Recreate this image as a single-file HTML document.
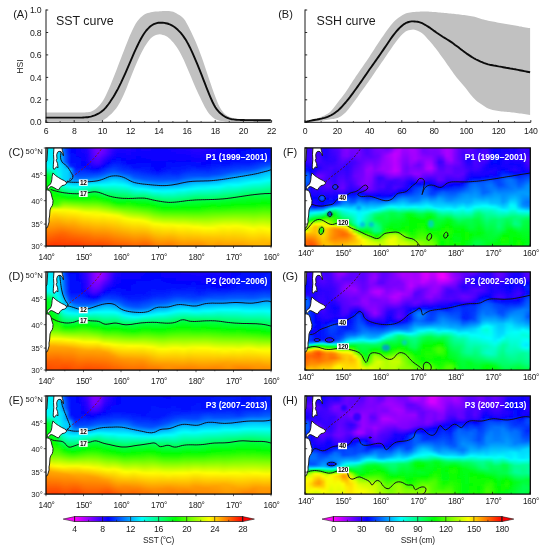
<!DOCTYPE html>
<html><head><meta charset="utf-8"><title>HSI curves and SST/SSH maps</title>
<style>html,body{margin:0;padding:0;background:#fff}svg{display:block}text{font-family:"Liberation Sans", sans-serif}</style>
</head><body>
<svg width="545" height="550" viewBox="0 0 545 550">
<defs>
<linearGradient id="cbA" x1="0" y1="0" x2="1" y2="0"><stop offset="0" stop-color="#ff00ff"/><stop offset="0.2" stop-color="#0000ff"/><stop offset="0.4" stop-color="#00ffff"/><stop offset="0.6" stop-color="#00ff00"/><stop offset="0.8" stop-color="#ffff00"/><stop offset="1" stop-color="#ff0000"/></linearGradient>
<linearGradient id="cbB" x1="0" y1="0" x2="1" y2="0"><stop offset="0" stop-color="#ff00ff"/><stop offset="0.2" stop-color="#0000ff"/><stop offset="0.4" stop-color="#00ffff"/><stop offset="0.6" stop-color="#00ff00"/><stop offset="0.8" stop-color="#ffff00"/><stop offset="1" stop-color="#ff0000"/></linearGradient>
<clipPath id="clipC"><rect x="46" y="148" width="225" height="98"/></clipPath>
<filter id="hb2" x="-5%" y="-5%" width="110%" height="110%"><feGaussianBlur stdDeviation="2 0.6"/></filter>
<linearGradient id="C0" x2="0" y2="1"><stop offset="0" stop-color="#00f6ff"/><stop offset=".127" stop-color="#00f0ff"/><stop offset=".196" stop-color="#00fffb"/><stop offset=".225" stop-color="#00ffcc"/><stop offset=".284" stop-color="#00ff34"/><stop offset=".314" stop-color="#00ff14"/><stop offset=".48" stop-color="#06ff00"/><stop offset=".578" stop-color="#4cff00"/><stop offset=".618" stop-color="#99ff00"/><stop offset=".667" stop-color="#fdff00"/><stop offset=".745" stop-color="#ffae00"/><stop offset=".98" stop-color="#ff3600"/><stop offset="1" stop-color="#ff3600"/></linearGradient>
<linearGradient id="C1" x2="0" y2="1"><stop offset="0" stop-color="#00f6ff"/><stop offset=".127" stop-color="#00f0ff"/><stop offset=".196" stop-color="#00fffb"/><stop offset=".225" stop-color="#00ffcc"/><stop offset=".284" stop-color="#00ff34"/><stop offset=".314" stop-color="#00ff14"/><stop offset=".48" stop-color="#06ff00"/><stop offset=".578" stop-color="#4cff00"/><stop offset=".618" stop-color="#99ff00"/><stop offset=".667" stop-color="#fdff00"/><stop offset=".745" stop-color="#ffae00"/><stop offset=".98" stop-color="#ff3600"/><stop offset="1" stop-color="#ff3600"/></linearGradient>
<linearGradient id="C2" x2="0" y2="1"><stop offset="0" stop-color="#00f5ff"/><stop offset=".137" stop-color="#00efff"/><stop offset=".196" stop-color="#00ffff"/><stop offset=".225" stop-color="#00ffd2"/><stop offset=".284" stop-color="#00ff39"/><stop offset=".314" stop-color="#00ff16"/><stop offset=".412" stop-color="#00ff09"/><stop offset=".48" stop-color="#04ff00"/><stop offset=".578" stop-color="#4cff00"/><stop offset=".647" stop-color="#e8ff00"/><stop offset=".667" stop-color="#fff600"/><stop offset=".745" stop-color="#ffab00"/><stop offset=".99" stop-color="#ff3500"/><stop offset="1" stop-color="#ff3500"/></linearGradient>
<linearGradient id="C3" x2="0" y2="1"><stop offset="0" stop-color="#00ebff"/><stop offset=".176" stop-color="#00f0ff"/><stop offset=".216" stop-color="#00fffc"/><stop offset=".265" stop-color="#00ff9c"/><stop offset=".294" stop-color="#00ff5f"/><stop offset=".431" stop-color="#00ff15"/><stop offset=".49" stop-color="#09ff00"/><stop offset=".569" stop-color="#44ff00"/><stop offset=".588" stop-color="#71ff00"/><stop offset=".618" stop-color="#e8ff00"/><stop offset=".627" stop-color="#fffd00"/><stop offset=".676" stop-color="#ffcf00"/><stop offset=".98" stop-color="#ff3100"/><stop offset="1" stop-color="#ff3100"/></linearGradient>
<linearGradient id="C4" x2="0" y2="1"><stop offset="0" stop-color="#00ddff"/><stop offset=".216" stop-color="#00edff"/><stop offset=".284" stop-color="#00fff3"/><stop offset=".324" stop-color="#00ffda"/><stop offset=".431" stop-color="#00ff31"/><stop offset=".48" stop-color="#01ff00"/><stop offset=".569" stop-color="#4aff00"/><stop offset=".588" stop-color="#73ff00"/><stop offset=".618" stop-color="#e1ff00"/><stop offset=".627" stop-color="#fbff00"/><stop offset=".725" stop-color="#ffb200"/><stop offset=".882" stop-color="#ff5c00"/><stop offset=".99" stop-color="#ff3100"/><stop offset="1" stop-color="#ff3100"/></linearGradient>
<linearGradient id="C5" x2="0" y2="1"><stop offset="0" stop-color="#004bff"/><stop offset=".039" stop-color="#0059ff"/><stop offset=".088" stop-color="#006bff"/><stop offset=".157" stop-color="#0076ff"/><stop offset=".176" stop-color="#00aaff"/><stop offset=".186" stop-color="#00c7ff"/><stop offset=".206" stop-color="#00d4ff"/><stop offset=".353" stop-color="#00d7ff"/><stop offset=".382" stop-color="#00fff8"/><stop offset=".461" stop-color="#00ff45"/><stop offset=".5" stop-color="#00ff05"/><stop offset=".627" stop-color="#f8ff00"/><stop offset=".853" stop-color="#ff6900"/><stop offset=".99" stop-color="#ff3300"/><stop offset="1" stop-color="#ff3300"/></linearGradient>
<linearGradient id="C6" x2="0" y2="1"><stop offset="0" stop-color="#000cff"/><stop offset=".176" stop-color="#0019ff"/><stop offset=".196" stop-color="#0031ff"/><stop offset=".206" stop-color="#005cff"/><stop offset=".216" stop-color="#0096ff"/><stop offset=".225" stop-color="#00c0ff"/><stop offset=".245" stop-color="#00d4ff"/><stop offset=".343" stop-color="#00d0ff"/><stop offset=".363" stop-color="#00c9ff"/><stop offset=".392" stop-color="#00feff"/><stop offset=".471" stop-color="#00ff41"/><stop offset=".51" stop-color="#06ff00"/><stop offset=".627" stop-color="#f4ff00"/><stop offset=".647" stop-color="#fff300"/><stop offset=".853" stop-color="#ff7100"/><stop offset=".99" stop-color="#ff3300"/><stop offset="1" stop-color="#ff3300"/></linearGradient>
<linearGradient id="C7" x2="0" y2="1"><stop offset="0" stop-color="#0400ff"/><stop offset=".137" stop-color="#000cff"/><stop offset=".225" stop-color="#001cff"/><stop offset=".275" stop-color="#0042ff"/><stop offset=".304" stop-color="#0070ff"/><stop offset=".324" stop-color="#0076ff"/><stop offset=".402" stop-color="#00fffa"/><stop offset=".48" stop-color="#00ff36"/><stop offset=".51" stop-color="#00ff01"/><stop offset=".637" stop-color="#feff00"/><stop offset=".745" stop-color="#ffb200"/><stop offset=".98" stop-color="#ff3500"/><stop offset="1" stop-color="#ff3500"/></linearGradient>
<linearGradient id="C8" x2="0" y2="1"><stop offset="0" stop-color="#0d00ff"/><stop offset=".206" stop-color="#000cff"/><stop offset=".304" stop-color="#0056ff"/><stop offset=".402" stop-color="#00fff9"/><stop offset=".471" stop-color="#00ff4b"/><stop offset=".51" stop-color="#00ff04"/><stop offset=".637" stop-color="#f4ff00"/><stop offset=".657" stop-color="#fff300"/><stop offset=".794" stop-color="#ff9f00"/><stop offset=".98" stop-color="#ff3600"/><stop offset="1" stop-color="#ff3600"/></linearGradient>
<linearGradient id="C9" x2="0" y2="1"><stop offset="0" stop-color="#1a00ff"/><stop offset=".196" stop-color="#0004ff"/><stop offset=".304" stop-color="#005aff"/><stop offset=".392" stop-color="#00fffe"/><stop offset=".471" stop-color="#00ff44"/><stop offset=".51" stop-color="#00ff02"/><stop offset=".647" stop-color="#f3ff00"/><stop offset=".667" stop-color="#fff600"/><stop offset=".892" stop-color="#ff6b00"/><stop offset=".99" stop-color="#ff3b00"/><stop offset="1" stop-color="#ff3b00"/></linearGradient>
<linearGradient id="C10" x2="0" y2="1"><stop offset="0" stop-color="#2c00ff"/><stop offset=".176" stop-color="#0d00ff"/><stop offset=".216" stop-color="#000bff"/><stop offset=".304" stop-color="#005cff"/><stop offset=".382" stop-color="#00f5ff"/><stop offset=".402" stop-color="#00ffdd"/><stop offset=".461" stop-color="#00ff4d"/><stop offset=".51" stop-color="#01ff00"/><stop offset=".657" stop-color="#fdff00"/><stop offset=".873" stop-color="#ff7800"/><stop offset=".99" stop-color="#ff4000"/><stop offset="1" stop-color="#ff4000"/></linearGradient>
<linearGradient id="C11" x2="0" y2="1"><stop offset="0" stop-color="#6400ff"/><stop offset=".147" stop-color="#4700ff"/><stop offset=".206" stop-color="#1a00ff"/><stop offset=".225" stop-color="#0100ff"/><stop offset=".304" stop-color="#0064ff"/><stop offset=".382" stop-color="#00fff9"/><stop offset=".451" stop-color="#00ff51"/><stop offset=".5" stop-color="#00ff06"/><stop offset=".559" stop-color="#56ff00"/><stop offset=".647" stop-color="#edff00"/><stop offset=".676" stop-color="#fff700"/><stop offset=".971" stop-color="#ff4900"/><stop offset="1" stop-color="#ff4600"/></linearGradient>
<linearGradient id="C12" x2="0" y2="1"><stop offset="0" stop-color="#8400ff"/><stop offset=".078" stop-color="#7400ff"/><stop offset=".176" stop-color="#3c00ff"/><stop offset=".225" stop-color="#0000ff"/><stop offset=".304" stop-color="#006cff"/><stop offset=".382" stop-color="#00fff9"/><stop offset=".461" stop-color="#00ff4c"/><stop offset=".51" stop-color="#00ff00"/><stop offset=".647" stop-color="#e8ff00"/><stop offset=".676" stop-color="#fffa00"/><stop offset=".971" stop-color="#ff4800"/><stop offset="1" stop-color="#ff4500"/></linearGradient>
<linearGradient id="C13" x2="0" y2="1"><stop offset="0" stop-color="#7300ff"/><stop offset=".069" stop-color="#6400ff"/><stop offset=".196" stop-color="#0200ff"/><stop offset=".275" stop-color="#0052ff"/><stop offset=".353" stop-color="#00d8ff"/><stop offset=".382" stop-color="#00fffd"/><stop offset=".52" stop-color="#00ff08"/><stop offset=".569" stop-color="#50ff00"/><stop offset=".667" stop-color="#fbff00"/><stop offset=".971" stop-color="#ff4a00"/><stop offset="1" stop-color="#ff4700"/></linearGradient>
<linearGradient id="C14" x2="0" y2="1"><stop offset="0" stop-color="#5000ff"/><stop offset=".078" stop-color="#3b00ff"/><stop offset=".167" stop-color="#0002ff"/><stop offset=".255" stop-color="#004dff"/><stop offset=".343" stop-color="#00d5ff"/><stop offset=".382" stop-color="#00fff8"/><stop offset=".49" stop-color="#00ff49"/><stop offset=".529" stop-color="#00ff05"/><stop offset=".676" stop-color="#ffff00"/><stop offset=".853" stop-color="#ff9200"/><stop offset=".98" stop-color="#ff4b00"/><stop offset="1" stop-color="#ff4b00"/></linearGradient>
<linearGradient id="C15" x2="0" y2="1"><stop offset="0" stop-color="#3200ff"/><stop offset=".078" stop-color="#1b00ff"/><stop offset=".137" stop-color="#0005ff"/><stop offset=".255" stop-color="#005aff"/><stop offset=".333" stop-color="#00d5ff"/><stop offset=".373" stop-color="#00ffff"/><stop offset=".549" stop-color="#01ff00"/><stop offset=".676" stop-color="#f3ff00"/><stop offset=".696" stop-color="#fff400"/><stop offset=".98" stop-color="#ff5300"/><stop offset="1" stop-color="#ff5300"/></linearGradient>
<linearGradient id="C16" x2="0" y2="1"><stop offset="0" stop-color="#2700ff"/><stop offset=".108" stop-color="#0600ff"/><stop offset=".235" stop-color="#003cff"/><stop offset=".275" stop-color="#006dff"/><stop offset=".333" stop-color="#00d0ff"/><stop offset=".382" stop-color="#00fff7"/><stop offset=".559" stop-color="#03ff00"/><stop offset=".657" stop-color="#c4ff00"/><stop offset=".686" stop-color="#faff00"/><stop offset=".98" stop-color="#ff5800"/><stop offset="1" stop-color="#ff5800"/></linearGradient>
<linearGradient id="C17" x2="0" y2="1"><stop offset="0" stop-color="#2200ff"/><stop offset=".147" stop-color="#0006ff"/><stop offset=".235" stop-color="#0030ff"/><stop offset=".275" stop-color="#005bff"/><stop offset=".343" stop-color="#00cfff"/><stop offset=".382" stop-color="#00fffe"/><stop offset=".559" stop-color="#02ff00"/><stop offset=".676" stop-color="#cdff00"/><stop offset=".706" stop-color="#fcff00"/><stop offset=".98" stop-color="#ff5900"/><stop offset="1" stop-color="#ff5900"/></linearGradient>
<linearGradient id="C18" x2="0" y2="1"><stop offset="0" stop-color="#2400ff"/><stop offset=".167" stop-color="#0003ff"/><stop offset=".265" stop-color="#0044ff"/><stop offset=".392" stop-color="#00fbff"/><stop offset=".51" stop-color="#00ff47"/><stop offset=".549" stop-color="#00ff07"/><stop offset=".657" stop-color="#9eff00"/><stop offset=".716" stop-color="#fbff00"/><stop offset=".98" stop-color="#ff5c00"/><stop offset="1" stop-color="#ff5c00"/></linearGradient>
<linearGradient id="C19" x2="0" y2="1"><stop offset="0" stop-color="#1c00ff"/><stop offset=".147" stop-color="#0300ff"/><stop offset=".206" stop-color="#000dff"/><stop offset=".304" stop-color="#0056ff"/><stop offset=".412" stop-color="#00f9ff"/><stop offset=".471" stop-color="#00ff9f"/><stop offset=".549" stop-color="#00ff0f"/><stop offset=".569" stop-color="#0eff00"/><stop offset=".725" stop-color="#fdff00"/><stop offset=".98" stop-color="#ff6500"/><stop offset="1" stop-color="#ff6500"/></linearGradient>
<linearGradient id="C20" x2="0" y2="1"><stop offset="0" stop-color="#1500ff"/><stop offset=".137" stop-color="#0001ff"/><stop offset=".216" stop-color="#000fff"/><stop offset=".314" stop-color="#0058ff"/><stop offset=".422" stop-color="#00fffd"/><stop offset=".539" stop-color="#00ff25"/><stop offset=".569" stop-color="#02ff00"/><stop offset=".725" stop-color="#fbff00"/><stop offset=".98" stop-color="#ff6400"/><stop offset="1" stop-color="#ff6400"/></linearGradient>
<linearGradient id="C21" x2="0" y2="1"><stop offset="0" stop-color="#1900ff"/><stop offset=".157" stop-color="#0005ff"/><stop offset=".245" stop-color="#001eff"/><stop offset=".324" stop-color="#0056ff"/><stop offset=".422" stop-color="#00fbff"/><stop offset=".48" stop-color="#00ff8f"/><stop offset=".529" stop-color="#00ff33"/><stop offset=".578" stop-color="#08ff00"/><stop offset=".735" stop-color="#fcff00"/><stop offset=".98" stop-color="#ff5b00"/><stop offset="1" stop-color="#ff5b00"/></linearGradient>
<linearGradient id="C22" x2="0" y2="1"><stop offset="0" stop-color="#1a00ff"/><stop offset=".167" stop-color="#0006ff"/><stop offset=".255" stop-color="#001fff"/><stop offset=".333" stop-color="#005cff"/><stop offset=".431" stop-color="#00fffc"/><stop offset=".529" stop-color="#00ff39"/><stop offset=".578" stop-color="#04ff00"/><stop offset=".745" stop-color="#faff00"/><stop offset=".902" stop-color="#ff9400"/><stop offset=".98" stop-color="#ff5e00"/><stop offset="1" stop-color="#ff5e00"/></linearGradient>
<linearGradient id="C23" x2="0" y2="1"><stop offset="0" stop-color="#1200ff"/><stop offset=".235" stop-color="#0007ff"/><stop offset=".333" stop-color="#0057ff"/><stop offset=".441" stop-color="#00fffe"/><stop offset=".539" stop-color="#00ff3f"/><stop offset=".588" stop-color="#02ff00"/><stop offset=".765" stop-color="#fcff00"/><stop offset=".98" stop-color="#ff7000"/><stop offset="1" stop-color="#ff7000"/></linearGradient>
<linearGradient id="C24" x2="0" y2="1"><stop offset="0" stop-color="#1000ff"/><stop offset=".245" stop-color="#0005ff"/><stop offset=".343" stop-color="#005fff"/><stop offset=".441" stop-color="#00fbff"/><stop offset=".549" stop-color="#00ff3e"/><stop offset=".598" stop-color="#00ff01"/><stop offset=".765" stop-color="#f9ff00"/><stop offset=".98" stop-color="#ff7d00"/><stop offset="1" stop-color="#ff7d00"/></linearGradient>
<linearGradient id="C25" x2="0" y2="1"><stop offset="0" stop-color="#1400ff"/><stop offset=".225" stop-color="#0007ff"/><stop offset=".333" stop-color="#0053ff"/><stop offset=".431" stop-color="#00edff"/><stop offset=".451" stop-color="#00fff5"/><stop offset=".559" stop-color="#00ff3c"/><stop offset=".608" stop-color="#03ff00"/><stop offset=".775" stop-color="#fdff00"/><stop offset=".98" stop-color="#ff7c00"/><stop offset="1" stop-color="#ff7c00"/></linearGradient>
<linearGradient id="C26" x2="0" y2="1"><stop offset="0" stop-color="#1500ff"/><stop offset=".206" stop-color="#0009ff"/><stop offset=".324" stop-color="#004cff"/><stop offset=".373" stop-color="#0099ff"/><stop offset=".441" stop-color="#00fdff"/><stop offset=".569" stop-color="#00ff32"/><stop offset=".608" stop-color="#02ff00"/><stop offset=".765" stop-color="#eeff00"/><stop offset=".794" stop-color="#fff300"/><stop offset=".98" stop-color="#ff7600"/><stop offset="1" stop-color="#ff7600"/></linearGradient>
<linearGradient id="C27" x2="0" y2="1"><stop offset="0" stop-color="#1b00ff"/><stop offset=".176" stop-color="#0007ff"/><stop offset=".265" stop-color="#0024ff"/><stop offset=".333" stop-color="#0057ff"/><stop offset=".431" stop-color="#00f3ff"/><stop offset=".451" stop-color="#00ffef"/><stop offset=".569" stop-color="#00ff33"/><stop offset=".608" stop-color="#01ff00"/><stop offset=".775" stop-color="#f9ff00"/><stop offset=".971" stop-color="#ff8000"/><stop offset="1" stop-color="#ff7d00"/></linearGradient>
<linearGradient id="C28" x2="0" y2="1"><stop offset="0" stop-color="#2000ff"/><stop offset=".186" stop-color="#0008ff"/><stop offset=".275" stop-color="#0029ff"/><stop offset=".324" stop-color="#004dff"/><stop offset=".431" stop-color="#00f8ff"/><stop offset=".5" stop-color="#00ff96"/><stop offset=".598" stop-color="#00ff0a"/><stop offset=".618" stop-color="#12ff00"/><stop offset=".784" stop-color="#ffff00"/><stop offset=".951" stop-color="#ff9600"/><stop offset="1" stop-color="#ff8900"/></linearGradient>
<linearGradient id="C29" x2="0" y2="1"><stop offset="0" stop-color="#1f00ff"/><stop offset=".137" stop-color="#0800ff"/><stop offset=".235" stop-color="#001dff"/><stop offset=".314" stop-color="#0055ff"/><stop offset=".431" stop-color="#00fffe"/><stop offset=".549" stop-color="#00ff43"/><stop offset=".608" stop-color="#03ff00"/><stop offset=".775" stop-color="#f4ff00"/><stop offset=".804" stop-color="#fff200"/><stop offset=".98" stop-color="#ff8d00"/><stop offset="1" stop-color="#ff8d00"/></linearGradient>
<linearGradient id="C30" x2="0" y2="1"><stop offset="0" stop-color="#2400ff"/><stop offset=".137" stop-color="#0600ff"/><stop offset=".235" stop-color="#0022ff"/><stop offset=".314" stop-color="#005fff"/><stop offset=".422" stop-color="#00faff"/><stop offset=".549" stop-color="#00ff3e"/><stop offset=".608" stop-color="#02ff00"/><stop offset=".784" stop-color="#faff00"/><stop offset=".98" stop-color="#ff8900"/><stop offset="1" stop-color="#ff8900"/></linearGradient>
<linearGradient id="C31" x2="0" y2="1"><stop offset="0" stop-color="#2e00ff"/><stop offset=".118" stop-color="#1000ff"/><stop offset=".186" stop-color="#000dff"/><stop offset=".294" stop-color="#004eff"/><stop offset=".392" stop-color="#00dfff"/><stop offset=".422" stop-color="#00fff9"/><stop offset=".529" stop-color="#00ff4b"/><stop offset=".608" stop-color="#05ff00"/><stop offset=".794" stop-color="#fffd00"/><stop offset=".98" stop-color="#ff8900"/><stop offset="1" stop-color="#ff8900"/></linearGradient>
<linearGradient id="C32" x2="0" y2="1"><stop offset="0" stop-color="#3000ff"/><stop offset=".118" stop-color="#1100ff"/><stop offset=".196" stop-color="#000dff"/><stop offset=".294" stop-color="#0050ff"/><stop offset=".382" stop-color="#00d8ff"/><stop offset=".412" stop-color="#00fdff"/><stop offset=".529" stop-color="#00ff48"/><stop offset=".608" stop-color="#04ff00"/><stop offset=".794" stop-color="#feff00"/><stop offset=".98" stop-color="#ff8800"/><stop offset="1" stop-color="#ff8800"/></linearGradient>
<linearGradient id="C33" x2="0" y2="1"><stop offset="0" stop-color="#2a00ff"/><stop offset=".186" stop-color="#0005ff"/><stop offset=".294" stop-color="#004fff"/><stop offset=".392" stop-color="#00eaff"/><stop offset=".422" stop-color="#00ffed"/><stop offset=".539" stop-color="#00ff3d"/><stop offset=".598" stop-color="#04ff00"/><stop offset=".804" stop-color="#ffff00"/><stop offset=".971" stop-color="#ff9300"/><stop offset="1" stop-color="#ff9000"/></linearGradient>
<linearGradient id="C34" x2="0" y2="1"><stop offset="0" stop-color="#2500ff"/><stop offset=".167" stop-color="#0004ff"/><stop offset=".235" stop-color="#0023ff"/><stop offset=".294" stop-color="#004eff"/><stop offset=".392" stop-color="#00eeff"/><stop offset=".412" stop-color="#00fff6"/><stop offset=".549" stop-color="#00ff30"/><stop offset=".588" stop-color="#00ff01"/><stop offset=".804" stop-color="#fcff00"/><stop offset=".902" stop-color="#ffbe00"/><stop offset=".99" stop-color="#ff9900"/><stop offset="1" stop-color="#ff9900"/></linearGradient>
<linearGradient id="C35" x2="0" y2="1"><stop offset="0" stop-color="#1c00ff"/><stop offset=".157" stop-color="#0008ff"/><stop offset=".275" stop-color="#0042ff"/><stop offset=".314" stop-color="#007cff"/><stop offset=".382" stop-color="#00e5ff"/><stop offset=".402" stop-color="#00fdff"/><stop offset=".549" stop-color="#00ff2c"/><stop offset=".588" stop-color="#02ff00"/><stop offset=".755" stop-color="#caff00"/><stop offset=".804" stop-color="#ffff00"/><stop offset=".902" stop-color="#ffc200"/><stop offset=".99" stop-color="#ff9800"/><stop offset="1" stop-color="#ff9800"/></linearGradient>
<linearGradient id="C36" x2="0" y2="1"><stop offset="0" stop-color="#1500ff"/><stop offset=".157" stop-color="#0008ff"/><stop offset=".275" stop-color="#0047ff"/><stop offset=".363" stop-color="#00cfff"/><stop offset=".402" stop-color="#00ffff"/><stop offset=".529" stop-color="#00ff42"/><stop offset=".588" stop-color="#00ff02"/><stop offset=".784" stop-color="#f2ff00"/><stop offset=".824" stop-color="#ffed00"/><stop offset=".98" stop-color="#ff9300"/><stop offset="1" stop-color="#ff9300"/></linearGradient>
<linearGradient id="C37" x2="0" y2="1"><stop offset="0" stop-color="#1400ff"/><stop offset=".167" stop-color="#0008ff"/><stop offset=".275" stop-color="#0054ff"/><stop offset=".363" stop-color="#00e0ff"/><stop offset=".392" stop-color="#00fff9"/><stop offset=".539" stop-color="#00ff2f"/><stop offset=".588" stop-color="#01ff00"/><stop offset=".784" stop-color="#f9ff00"/><stop offset=".98" stop-color="#ff9c00"/><stop offset="1" stop-color="#ff9c00"/></linearGradient>
<linearGradient id="C38" x2="0" y2="1"><stop offset="0" stop-color="#1300ff"/><stop offset=".157" stop-color="#0007ff"/><stop offset=".255" stop-color="#0049ff"/><stop offset=".304" stop-color="#0094ff"/><stop offset=".373" stop-color="#00f7ff"/><stop offset=".422" stop-color="#00ffca"/><stop offset=".539" stop-color="#00ff2b"/><stop offset=".588" stop-color="#06ff00"/><stop offset=".745" stop-color="#c8ff00"/><stop offset=".794" stop-color="#fffc00"/><stop offset=".971" stop-color="#ffa100"/><stop offset="1" stop-color="#ffa000"/></linearGradient>
<linearGradient id="C39" x2="0" y2="1"><stop offset="0" stop-color="#0d00ff"/><stop offset=".137" stop-color="#0006ff"/><stop offset=".245" stop-color="#0049ff"/><stop offset=".284" stop-color="#0083ff"/><stop offset=".333" stop-color="#00cdff"/><stop offset=".382" stop-color="#00fffe"/><stop offset=".529" stop-color="#00ff30"/><stop offset=".578" stop-color="#00ff00"/><stop offset=".706" stop-color="#99ff00"/><stop offset=".784" stop-color="#faff00"/><stop offset=".98" stop-color="#ff9c00"/><stop offset="1" stop-color="#ff9c00"/></linearGradient>
<linearGradient id="C40" x2="0" y2="1"><stop offset="0" stop-color="#0500ff"/><stop offset=".137" stop-color="#0008ff"/><stop offset=".225" stop-color="#003eff"/><stop offset=".265" stop-color="#006bff"/><stop offset=".314" stop-color="#00beff"/><stop offset=".382" stop-color="#00fffb"/><stop offset=".471" stop-color="#00ff78"/><stop offset=".529" stop-color="#00ff2c"/><stop offset=".578" stop-color="#04ff00"/><stop offset=".696" stop-color="#8cff00"/><stop offset=".784" stop-color="#f9ff00"/><stop offset=".922" stop-color="#ffbc00"/><stop offset=".98" stop-color="#ff9b00"/><stop offset="1" stop-color="#ff9b00"/></linearGradient>
<linearGradient id="C41" x2="0" y2="1"><stop offset="0" stop-color="#0000ff"/><stop offset=".167" stop-color="#0016ff"/><stop offset=".235" stop-color="#004aff"/><stop offset=".314" stop-color="#00cbff"/><stop offset=".373" stop-color="#00fff8"/><stop offset=".461" stop-color="#00ff79"/><stop offset=".52" stop-color="#00ff2e"/><stop offset=".578" stop-color="#04ff00"/><stop offset=".794" stop-color="#faff00"/><stop offset=".98" stop-color="#ff9f00"/><stop offset="1" stop-color="#ff9f00"/></linearGradient>
<linearGradient id="C42" x2="0" y2="1"><stop offset="0" stop-color="#0001ff"/><stop offset=".167" stop-color="#0018ff"/><stop offset=".235" stop-color="#004dff"/><stop offset=".304" stop-color="#00c2ff"/><stop offset=".363" stop-color="#00fffb"/><stop offset=".441" stop-color="#00ff91"/><stop offset=".5" stop-color="#00ff38"/><stop offset=".578" stop-color="#07ff00"/><stop offset=".765" stop-color="#d7ff00"/><stop offset=".804" stop-color="#fffe00"/><stop offset=".98" stop-color="#ffa500"/><stop offset="1" stop-color="#ffa500"/></linearGradient>
<linearGradient id="C43" x2="0" y2="1"><stop offset="0" stop-color="#0007ff"/><stop offset=".147" stop-color="#0012ff"/><stop offset=".225" stop-color="#004cff"/><stop offset=".304" stop-color="#00c8ff"/><stop offset=".353" stop-color="#00fffe"/><stop offset=".451" stop-color="#00ff7b"/><stop offset=".51" stop-color="#00ff30"/><stop offset=".569" stop-color="#00ff00"/><stop offset=".814" stop-color="#ffff00"/><stop offset=".951" stop-color="#ffb600"/><stop offset="1" stop-color="#ffb000"/></linearGradient>
<linearGradient id="C44" x2="0" y2="1"><stop offset="0" stop-color="#0009ff"/><stop offset=".127" stop-color="#000aff"/><stop offset=".216" stop-color="#0050ff"/><stop offset=".284" stop-color="#00b8ff"/><stop offset=".353" stop-color="#00fffc"/><stop offset=".49" stop-color="#00ff46"/><stop offset=".569" stop-color="#02ff00"/><stop offset=".794" stop-color="#f2ff00"/><stop offset=".833" stop-color="#ffed00"/><stop offset=".951" stop-color="#ffb600"/><stop offset="1" stop-color="#ffb100"/></linearGradient>
<linearGradient id="C45" x2="0" y2="1"><stop offset="0" stop-color="#000dff"/><stop offset=".118" stop-color="#0008ff"/><stop offset=".196" stop-color="#0048ff"/><stop offset=".265" stop-color="#00b6ff"/><stop offset=".343" stop-color="#00feff"/><stop offset=".48" stop-color="#00ff4e"/><stop offset=".559" stop-color="#00ff01"/><stop offset=".804" stop-color="#fdff00"/><stop offset=".922" stop-color="#ffbe00"/><stop offset="1" stop-color="#ffb100"/></linearGradient>
<linearGradient id="C46" x2="0" y2="1"><stop offset="0" stop-color="#0014ff"/><stop offset=".108" stop-color="#000bff"/><stop offset=".186" stop-color="#004aff"/><stop offset=".255" stop-color="#00baff"/><stop offset=".333" stop-color="#00fffe"/><stop offset=".471" stop-color="#00ff53"/><stop offset=".559" stop-color="#00ff02"/><stop offset=".814" stop-color="#fffe00"/><stop offset=".961" stop-color="#ffb000"/><stop offset="1" stop-color="#ffaf00"/></linearGradient>
<linearGradient id="C47" x2="0" y2="1"><stop offset="0" stop-color="#0015ff"/><stop offset=".108" stop-color="#000eff"/><stop offset=".176" stop-color="#0046ff"/><stop offset=".255" stop-color="#00c2ff"/><stop offset=".333" stop-color="#00fff7"/><stop offset=".471" stop-color="#00ff51"/><stop offset=".569" stop-color="#06ff00"/><stop offset=".794" stop-color="#eeff00"/><stop offset=".833" stop-color="#fff600"/><stop offset=".961" stop-color="#ffaf00"/><stop offset="1" stop-color="#ffae00"/></linearGradient>
<linearGradient id="C48" x2="0" y2="1"><stop offset="0" stop-color="#0015ff"/><stop offset=".108" stop-color="#000eff"/><stop offset=".176" stop-color="#0046ff"/><stop offset=".255" stop-color="#00c2ff"/><stop offset=".333" stop-color="#00fff7"/><stop offset=".471" stop-color="#00ff51"/><stop offset=".569" stop-color="#06ff00"/><stop offset=".794" stop-color="#eeff00"/><stop offset=".833" stop-color="#fff600"/><stop offset=".961" stop-color="#ffaf00"/><stop offset="1" stop-color="#ffae00"/></linearGradient>
<clipPath id="clipD"><rect x="46" y="272" width="225" height="98"/></clipPath>
<linearGradient id="D0" x2="0" y2="1"><stop offset="0" stop-color="#00f3ff"/><stop offset=".196" stop-color="#00fffe"/><stop offset=".225" stop-color="#00ffcd"/><stop offset=".284" stop-color="#00ff38"/><stop offset=".314" stop-color="#00ff1a"/><stop offset=".471" stop-color="#08ff00"/><stop offset=".588" stop-color="#63ff00"/><stop offset=".676" stop-color="#fffd00"/><stop offset=".745" stop-color="#ffad00"/><stop offset=".902" stop-color="#ff5d00"/><stop offset="1" stop-color="#ff3c00"/></linearGradient>
<linearGradient id="D1" x2="0" y2="1"><stop offset="0" stop-color="#00f3ff"/><stop offset=".196" stop-color="#00fffe"/><stop offset=".225" stop-color="#00ffcd"/><stop offset=".284" stop-color="#00ff38"/><stop offset=".314" stop-color="#00ff1a"/><stop offset=".471" stop-color="#08ff00"/><stop offset=".588" stop-color="#63ff00"/><stop offset=".676" stop-color="#fffd00"/><stop offset=".745" stop-color="#ffad00"/><stop offset=".902" stop-color="#ff5d00"/><stop offset="1" stop-color="#ff3c00"/></linearGradient>
<linearGradient id="D2" x2="0" y2="1"><stop offset="0" stop-color="#00efff"/><stop offset=".206" stop-color="#00fff9"/><stop offset=".235" stop-color="#00ffbc"/><stop offset=".284" stop-color="#00ff3a"/><stop offset=".314" stop-color="#00ff19"/><stop offset=".471" stop-color="#07ff00"/><stop offset=".588" stop-color="#62ff00"/><stop offset=".676" stop-color="#ffff00"/><stop offset=".745" stop-color="#ffad00"/><stop offset=".902" stop-color="#ff5f00"/><stop offset="1" stop-color="#ff3f00"/></linearGradient>
<linearGradient id="D3" x2="0" y2="1"><stop offset="0" stop-color="#00dfff"/><stop offset=".176" stop-color="#00ecff"/><stop offset=".216" stop-color="#00faff"/><stop offset=".235" stop-color="#00ffe2"/><stop offset=".294" stop-color="#00ff5d"/><stop offset=".353" stop-color="#00ff3c"/><stop offset=".48" stop-color="#04ff00"/><stop offset=".588" stop-color="#5eff00"/><stop offset=".676" stop-color="#fcff00"/><stop offset=".745" stop-color="#ffab00"/><stop offset=".892" stop-color="#ff6300"/><stop offset="1" stop-color="#ff4800"/></linearGradient>
<linearGradient id="D4" x2="0" y2="1"><stop offset="0" stop-color="#00d6ff"/><stop offset=".225" stop-color="#00eeff"/><stop offset=".265" stop-color="#00fff9"/><stop offset=".324" stop-color="#00ffd4"/><stop offset=".471" stop-color="#00ff18"/><stop offset=".5" stop-color="#06ff00"/><stop offset=".588" stop-color="#58ff00"/><stop offset=".676" stop-color="#faff00"/><stop offset=".755" stop-color="#ffa700"/><stop offset=".882" stop-color="#ff6600"/><stop offset="1" stop-color="#ff4800"/></linearGradient>
<linearGradient id="D5" x2="0" y2="1"><stop offset="0" stop-color="#003dff"/><stop offset=".039" stop-color="#004aff"/><stop offset=".098" stop-color="#0062ff"/><stop offset=".216" stop-color="#0074ff"/><stop offset=".255" stop-color="#0095ff"/><stop offset=".294" stop-color="#00d0ff"/><stop offset=".373" stop-color="#00deff"/><stop offset=".402" stop-color="#00fffc"/><stop offset=".559" stop-color="#00ff02"/><stop offset=".676" stop-color="#f3ff00"/><stop offset=".696" stop-color="#ffed00"/><stop offset=".755" stop-color="#ffa800"/><stop offset=".922" stop-color="#ff5c00"/><stop offset=".99" stop-color="#ff4000"/><stop offset="1" stop-color="#ff4000"/></linearGradient>
<linearGradient id="D6" x2="0" y2="1"><stop offset="0" stop-color="#0003ff"/><stop offset=".216" stop-color="#000fff"/><stop offset=".294" stop-color="#0043ff"/><stop offset=".314" stop-color="#0067ff"/><stop offset=".333" stop-color="#00acff"/><stop offset=".353" stop-color="#00b6ff"/><stop offset=".382" stop-color="#00ceff"/><stop offset=".422" stop-color="#00fffa"/><stop offset=".559" stop-color="#00ff06"/><stop offset=".686" stop-color="#feff00"/><stop offset=".765" stop-color="#ffa200"/><stop offset=".912" stop-color="#ff6100"/><stop offset=".99" stop-color="#ff4000"/><stop offset="1" stop-color="#ff4000"/></linearGradient>
<linearGradient id="D7" x2="0" y2="1"><stop offset="0" stop-color="#0005ff"/><stop offset=".225" stop-color="#0011ff"/><stop offset=".314" stop-color="#004cff"/><stop offset=".422" stop-color="#00f8ff"/><stop offset=".451" stop-color="#00ffce"/><stop offset=".539" stop-color="#00ff23"/><stop offset=".559" stop-color="#00ff01"/><stop offset=".686" stop-color="#f5ff00"/><stop offset=".716" stop-color="#ffdf00"/><stop offset=".775" stop-color="#ffa000"/><stop offset=".902" stop-color="#ff6700"/><stop offset="1" stop-color="#ff4c00"/></linearGradient>
<linearGradient id="D8" x2="0" y2="1"><stop offset="0" stop-color="#0600ff"/><stop offset=".216" stop-color="#000dff"/><stop offset=".324" stop-color="#004bff"/><stop offset=".402" stop-color="#00cdff"/><stop offset=".431" stop-color="#00fff7"/><stop offset=".51" stop-color="#00ff46"/><stop offset=".549" stop-color="#00ff06"/><stop offset=".657" stop-color="#bbff00"/><stop offset=".696" stop-color="#ffff00"/><stop offset=".775" stop-color="#ffa800"/><stop offset=".98" stop-color="#ff5000"/><stop offset="1" stop-color="#ff5000"/></linearGradient>
<linearGradient id="D9" x2="0" y2="1"><stop offset="0" stop-color="#2900ff"/><stop offset=".206" stop-color="#0400ff"/><stop offset=".284" stop-color="#002dff"/><stop offset=".343" stop-color="#0061ff"/><stop offset=".422" stop-color="#00f9ff"/><stop offset=".461" stop-color="#00ff9f"/><stop offset=".5" stop-color="#00ff40"/><stop offset=".539" stop-color="#00ff05"/><stop offset=".706" stop-color="#fffb00"/><stop offset=".784" stop-color="#ffa900"/><stop offset=".98" stop-color="#ff4900"/><stop offset="1" stop-color="#ff4900"/></linearGradient>
<linearGradient id="D10" x2="0" y2="1"><stop offset="0" stop-color="#4200ff"/><stop offset=".196" stop-color="#2d00ff"/><stop offset=".255" stop-color="#0200ff"/><stop offset=".333" stop-color="#0057ff"/><stop offset=".422" stop-color="#00fffc"/><stop offset=".5" stop-color="#00ff44"/><stop offset=".549" stop-color="#05ff00"/><stop offset=".706" stop-color="#fffe00"/><stop offset=".794" stop-color="#ffa400"/><stop offset=".98" stop-color="#ff4500"/><stop offset="1" stop-color="#ff4500"/></linearGradient>
<linearGradient id="D11" x2="0" y2="1"><stop offset="0" stop-color="#7d00ff"/><stop offset=".157" stop-color="#7600ff"/><stop offset=".216" stop-color="#4f00ff"/><stop offset=".275" stop-color="#0002ff"/><stop offset=".333" stop-color="#0064ff"/><stop offset=".412" stop-color="#00fcff"/><stop offset=".51" stop-color="#00ff41"/><stop offset=".559" stop-color="#03ff00"/><stop offset=".706" stop-color="#ffff00"/><stop offset=".794" stop-color="#ffa300"/><stop offset=".99" stop-color="#ff4600"/><stop offset="1" stop-color="#ff4600"/></linearGradient>
<linearGradient id="D12" x2="0" y2="1"><stop offset="0" stop-color="#9f00ff"/><stop offset=".088" stop-color="#9c00ff"/><stop offset=".186" stop-color="#5b00ff"/><stop offset=".265" stop-color="#0006ff"/><stop offset=".324" stop-color="#0066ff"/><stop offset=".412" stop-color="#00ffff"/><stop offset=".51" stop-color="#00ff4a"/><stop offset=".559" stop-color="#00ff05"/><stop offset=".647" stop-color="#8fff00"/><stop offset=".706" stop-color="#f7ff00"/><stop offset=".784" stop-color="#ffab00"/><stop offset=".98" stop-color="#ff4b00"/><stop offset="1" stop-color="#ff4b00"/></linearGradient>
<linearGradient id="D13" x2="0" y2="1"><stop offset="0" stop-color="#8d00ff"/><stop offset=".078" stop-color="#8200ff"/><stop offset=".167" stop-color="#3600ff"/><stop offset=".225" stop-color="#0005ff"/><stop offset=".294" stop-color="#004eff"/><stop offset=".363" stop-color="#00c2ff"/><stop offset=".412" stop-color="#00ffff"/><stop offset=".559" stop-color="#00ff17"/><stop offset=".578" stop-color="#06ff00"/><stop offset=".725" stop-color="#fffb00"/><stop offset=".804" stop-color="#ffa000"/><stop offset=".971" stop-color="#ff5400"/><stop offset="1" stop-color="#ff5200"/></linearGradient>
<linearGradient id="D14" x2="0" y2="1"><stop offset="0" stop-color="#6300ff"/><stop offset=".088" stop-color="#4e00ff"/><stop offset=".206" stop-color="#0006ff"/><stop offset=".284" stop-color="#0044ff"/><stop offset=".363" stop-color="#00c6ff"/><stop offset=".412" stop-color="#00fffe"/><stop offset=".569" stop-color="#00ff0d"/><stop offset=".588" stop-color="#10ff00"/><stop offset=".725" stop-color="#fbff00"/><stop offset=".814" stop-color="#ffa000"/><stop offset=".98" stop-color="#ff5300"/><stop offset="1" stop-color="#ff5300"/></linearGradient>
<linearGradient id="D15" x2="0" y2="1"><stop offset="0" stop-color="#3200ff"/><stop offset=".186" stop-color="#0005ff"/><stop offset=".284" stop-color="#003dff"/><stop offset=".333" stop-color="#008aff"/><stop offset=".412" stop-color="#00ffff"/><stop offset=".549" stop-color="#00ff22"/><stop offset=".578" stop-color="#07ff00"/><stop offset=".735" stop-color="#feff00"/><stop offset=".843" stop-color="#ff9900"/><stop offset=".99" stop-color="#ff5800"/><stop offset="1" stop-color="#ff5800"/></linearGradient>
<linearGradient id="D16" x2="0" y2="1"><stop offset="0" stop-color="#1e00ff"/><stop offset=".167" stop-color="#0003ff"/><stop offset=".245" stop-color="#001cff"/><stop offset=".314" stop-color="#0057ff"/><stop offset=".422" stop-color="#00ffff"/><stop offset=".549" stop-color="#00ff26"/><stop offset=".578" stop-color="#04ff00"/><stop offset=".735" stop-color="#f6ff00"/><stop offset=".775" stop-color="#ffe200"/><stop offset=".873" stop-color="#ff9200"/><stop offset=".99" stop-color="#ff5b00"/><stop offset="1" stop-color="#ff5b00"/></linearGradient>
<linearGradient id="D17" x2="0" y2="1"><stop offset="0" stop-color="#0f00ff"/><stop offset=".157" stop-color="#0003ff"/><stop offset=".245" stop-color="#000eff"/><stop offset=".343" stop-color="#005aff"/><stop offset=".441" stop-color="#00f9ff"/><stop offset=".48" stop-color="#00ffbf"/><stop offset=".549" stop-color="#00ff34"/><stop offset=".588" stop-color="#05ff00"/><stop offset=".735" stop-color="#f1ff00"/><stop offset=".765" stop-color="#ffee00"/><stop offset=".882" stop-color="#ff9300"/><stop offset=".99" stop-color="#ff6200"/><stop offset="1" stop-color="#ff6200"/></linearGradient>
<linearGradient id="D18" x2="0" y2="1"><stop offset="0" stop-color="#0d00ff"/><stop offset=".186" stop-color="#0002ff"/><stop offset=".275" stop-color="#0019ff"/><stop offset=".353" stop-color="#0055ff"/><stop offset=".451" stop-color="#00fcff"/><stop offset=".5" stop-color="#00ff9e"/><stop offset=".549" stop-color="#00ff38"/><stop offset=".588" stop-color="#00ff00"/><stop offset=".745" stop-color="#ffff00"/><stop offset=".873" stop-color="#ff9a00"/><stop offset=".99" stop-color="#ff6600"/><stop offset="1" stop-color="#ff6600"/></linearGradient>
<linearGradient id="D19" x2="0" y2="1"><stop offset="0" stop-color="#0b00ff"/><stop offset=".216" stop-color="#000aff"/><stop offset=".294" stop-color="#0022ff"/><stop offset=".363" stop-color="#0056ff"/><stop offset=".461" stop-color="#00fffb"/><stop offset=".529" stop-color="#00ff59"/><stop offset=".598" stop-color="#08ff00"/><stop offset=".745" stop-color="#fffe00"/><stop offset=".873" stop-color="#ff9d00"/><stop offset=".99" stop-color="#ff6800"/><stop offset="1" stop-color="#ff6800"/></linearGradient>
<linearGradient id="D20" x2="0" y2="1"><stop offset="0" stop-color="#0c00ff"/><stop offset=".206" stop-color="#000dff"/><stop offset=".284" stop-color="#001cff"/><stop offset=".363" stop-color="#0053ff"/><stop offset=".431" stop-color="#00caff"/><stop offset=".461" stop-color="#00fff5"/><stop offset=".529" stop-color="#00ff4d"/><stop offset=".588" stop-color="#01ff00"/><stop offset=".745" stop-color="#fcff00"/><stop offset=".882" stop-color="#ff9700"/><stop offset=".99" stop-color="#ff6500"/><stop offset="1" stop-color="#ff6500"/></linearGradient>
<linearGradient id="D21" x2="0" y2="1"><stop offset="0" stop-color="#0800ff"/><stop offset=".235" stop-color="#000fff"/><stop offset=".294" stop-color="#002bff"/><stop offset=".373" stop-color="#006bff"/><stop offset=".451" stop-color="#00fffc"/><stop offset=".52" stop-color="#00ff51"/><stop offset=".578" stop-color="#00ff04"/><stop offset=".745" stop-color="#f8ff00"/><stop offset=".892" stop-color="#ff9200"/><stop offset=".99" stop-color="#ff6500"/><stop offset="1" stop-color="#ff6500"/></linearGradient>
<linearGradient id="D22" x2="0" y2="1"><stop offset="0" stop-color="#0200ff"/><stop offset=".176" stop-color="#000aff"/><stop offset=".265" stop-color="#001dff"/><stop offset=".363" stop-color="#0067ff"/><stop offset=".441" stop-color="#00f6ff"/><stop offset=".461" stop-color="#00ffdc"/><stop offset=".52" stop-color="#00ff4d"/><stop offset=".578" stop-color="#00ff03"/><stop offset=".755" stop-color="#fffe00"/><stop offset=".863" stop-color="#ffad00"/><stop offset=".99" stop-color="#ff6c00"/><stop offset="1" stop-color="#ff6c00"/></linearGradient>
<linearGradient id="D23" x2="0" y2="1"><stop offset="0" stop-color="#0200ff"/><stop offset=".157" stop-color="#000bff"/><stop offset=".255" stop-color="#0022ff"/><stop offset=".343" stop-color="#0068ff"/><stop offset=".441" stop-color="#00fff8"/><stop offset=".52" stop-color="#00ff4e"/><stop offset=".588" stop-color="#05ff00"/><stop offset=".755" stop-color="#f9ff00"/><stop offset=".98" stop-color="#ff7100"/><stop offset="1" stop-color="#ff7100"/></linearGradient>
<linearGradient id="D24" x2="0" y2="1"><stop offset="0" stop-color="#0300ff"/><stop offset=".186" stop-color="#000eff"/><stop offset=".255" stop-color="#0026ff"/><stop offset=".324" stop-color="#005bff"/><stop offset=".431" stop-color="#00fffe"/><stop offset=".529" stop-color="#00ff41"/><stop offset=".588" stop-color="#02ff00"/><stop offset=".725" stop-color="#c5ff00"/><stop offset=".775" stop-color="#fffc00"/><stop offset=".971" stop-color="#ff7800"/><stop offset="1" stop-color="#ff7400"/></linearGradient>
<linearGradient id="D25" x2="0" y2="1"><stop offset="0" stop-color="#0b00ff"/><stop offset=".176" stop-color="#000aff"/><stop offset=".265" stop-color="#002dff"/><stop offset=".324" stop-color="#005fff"/><stop offset=".431" stop-color="#00fff9"/><stop offset=".529" stop-color="#00ff3f"/><stop offset=".588" stop-color="#05ff00"/><stop offset=".716" stop-color="#b2ff00"/><stop offset=".775" stop-color="#fdff00"/><stop offset=".931" stop-color="#ff9400"/><stop offset="1" stop-color="#ff7e00"/></linearGradient>
<linearGradient id="D26" x2="0" y2="1"><stop offset="0" stop-color="#0d00ff"/><stop offset=".167" stop-color="#0008ff"/><stop offset=".265" stop-color="#0032ff"/><stop offset=".314" stop-color="#005cff"/><stop offset=".422" stop-color="#00faff"/><stop offset=".49" stop-color="#00ff81"/><stop offset=".539" stop-color="#00ff30"/><stop offset=".578" stop-color="#00ff01"/><stop offset=".735" stop-color="#d4ff00"/><stop offset=".775" stop-color="#fffc00"/><stop offset=".922" stop-color="#ff9a00"/><stop offset="1" stop-color="#ff8300"/></linearGradient>
<linearGradient id="D27" x2="0" y2="1"><stop offset="0" stop-color="#0d00ff"/><stop offset=".157" stop-color="#0008ff"/><stop offset=".255" stop-color="#0036ff"/><stop offset=".304" stop-color="#0064ff"/><stop offset=".382" stop-color="#00d6ff"/><stop offset=".412" stop-color="#00fcff"/><stop offset=".52" stop-color="#00ff3d"/><stop offset=".578" stop-color="#08ff00"/><stop offset=".765" stop-color="#fdff00"/><stop offset=".941" stop-color="#ff9000"/><stop offset="1" stop-color="#ff7e00"/></linearGradient>
<linearGradient id="D28" x2="0" y2="1"><stop offset="0" stop-color="#1200ff"/><stop offset=".167" stop-color="#0008ff"/><stop offset=".255" stop-color="#0039ff"/><stop offset=".304" stop-color="#006bff"/><stop offset=".373" stop-color="#00d5ff"/><stop offset=".402" stop-color="#00faff"/><stop offset=".451" stop-color="#00ffae"/><stop offset=".51" stop-color="#00ff41"/><stop offset=".569" stop-color="#01ff00"/><stop offset=".706" stop-color="#b0ff00"/><stop offset=".765" stop-color="#fcff00"/><stop offset=".971" stop-color="#ff8000"/><stop offset="1" stop-color="#ff7d00"/></linearGradient>
<linearGradient id="D29" x2="0" y2="1"><stop offset="0" stop-color="#1700ff"/><stop offset=".157" stop-color="#0008ff"/><stop offset=".255" stop-color="#0036ff"/><stop offset=".304" stop-color="#0067ff"/><stop offset=".373" stop-color="#00daff"/><stop offset=".402" stop-color="#00fffb"/><stop offset=".51" stop-color="#00ff3a"/><stop offset=".569" stop-color="#05ff00"/><stop offset=".775" stop-color="#ffff00"/><stop offset=".98" stop-color="#ff7900"/><stop offset="1" stop-color="#ff7900"/></linearGradient>
<linearGradient id="D30" x2="0" y2="1"><stop offset="0" stop-color="#1700ff"/><stop offset=".147" stop-color="#0006ff"/><stop offset=".265" stop-color="#003cff"/><stop offset=".304" stop-color="#0063ff"/><stop offset=".373" stop-color="#00d7ff"/><stop offset=".402" stop-color="#00ffff"/><stop offset=".51" stop-color="#00ff3c"/><stop offset=".569" stop-color="#03ff00"/><stop offset=".765" stop-color="#f8ff00"/><stop offset=".98" stop-color="#ff7700"/><stop offset="1" stop-color="#ff7700"/></linearGradient>
<linearGradient id="D31" x2="0" y2="1"><stop offset="0" stop-color="#1b00ff"/><stop offset=".147" stop-color="#0008ff"/><stop offset=".265" stop-color="#0038ff"/><stop offset=".304" stop-color="#005aff"/><stop offset=".392" stop-color="#00e7ff"/><stop offset=".412" stop-color="#00fff9"/><stop offset=".5" stop-color="#00ff49"/><stop offset=".578" stop-color="#08ff00"/><stop offset=".755" stop-color="#f2ff00"/><stop offset=".794" stop-color="#ffee00"/><stop offset=".951" stop-color="#ff8a00"/><stop offset="1" stop-color="#ff7a00"/></linearGradient>
<linearGradient id="D32" x2="0" y2="1"><stop offset="0" stop-color="#1e00ff"/><stop offset=".137" stop-color="#0005ff"/><stop offset=".225" stop-color="#001bff"/><stop offset=".294" stop-color="#0052ff"/><stop offset=".402" stop-color="#00f5ff"/><stop offset=".422" stop-color="#00ffe8"/><stop offset=".5" stop-color="#00ff4a"/><stop offset=".578" stop-color="#07ff00"/><stop offset=".765" stop-color="#feff00"/><stop offset=".98" stop-color="#ff7e00"/><stop offset="1" stop-color="#ff7e00"/></linearGradient>
<linearGradient id="D33" x2="0" y2="1"><stop offset="0" stop-color="#1a00ff"/><stop offset=".167" stop-color="#0007ff"/><stop offset=".245" stop-color="#002eff"/><stop offset=".294" stop-color="#0060ff"/><stop offset=".363" stop-color="#00cbff"/><stop offset=".402" stop-color="#00fdff"/><stop offset=".51" stop-color="#00ff41"/><stop offset=".569" stop-color="#01ff00"/><stop offset=".716" stop-color="#bfff00"/><stop offset=".765" stop-color="#ffff00"/><stop offset=".98" stop-color="#ff8000"/><stop offset="1" stop-color="#ff8000"/></linearGradient>
<linearGradient id="D34" x2="0" y2="1"><stop offset="0" stop-color="#1700ff"/><stop offset=".157" stop-color="#0008ff"/><stop offset=".255" stop-color="#003cff"/><stop offset=".304" stop-color="#0079ff"/><stop offset=".373" stop-color="#00d9ff"/><stop offset=".402" stop-color="#00ffff"/><stop offset=".51" stop-color="#00ff45"/><stop offset=".569" stop-color="#00ff00"/><stop offset=".706" stop-color="#b0ff00"/><stop offset=".765" stop-color="#feff00"/><stop offset=".98" stop-color="#ff7f00"/><stop offset="1" stop-color="#ff7f00"/></linearGradient>
<linearGradient id="D35" x2="0" y2="1"><stop offset="0" stop-color="#1700ff"/><stop offset=".167" stop-color="#0006ff"/><stop offset=".275" stop-color="#0052ff"/><stop offset=".373" stop-color="#00dfff"/><stop offset=".402" stop-color="#00fff8"/><stop offset=".51" stop-color="#00ff49"/><stop offset=".578" stop-color="#07ff00"/><stop offset=".775" stop-color="#ffff00"/><stop offset=".961" stop-color="#ff8600"/><stop offset="1" stop-color="#ff8100"/></linearGradient>
<linearGradient id="D36" x2="0" y2="1"><stop offset="0" stop-color="#1800ff"/><stop offset=".176" stop-color="#0005ff"/><stop offset=".284" stop-color="#005dff"/><stop offset=".363" stop-color="#00d6ff"/><stop offset=".392" stop-color="#00fcff"/><stop offset=".52" stop-color="#00ff3d"/><stop offset=".578" stop-color="#04ff00"/><stop offset=".775" stop-color="#fbff00"/><stop offset=".951" stop-color="#ff8b00"/><stop offset="1" stop-color="#ff8100"/></linearGradient>
<linearGradient id="D37" x2="0" y2="1"><stop offset="0" stop-color="#1100ff"/><stop offset=".176" stop-color="#0006ff"/><stop offset=".284" stop-color="#005cff"/><stop offset=".363" stop-color="#00d9ff"/><stop offset=".392" stop-color="#00feff"/><stop offset=".529" stop-color="#00ff3b"/><stop offset=".588" stop-color="#08ff00"/><stop offset=".765" stop-color="#edff00"/><stop offset=".794" stop-color="#fff900"/><stop offset=".912" stop-color="#ffa100"/><stop offset=".99" stop-color="#ff8200"/><stop offset="1" stop-color="#ff8200"/></linearGradient>
<linearGradient id="D38" x2="0" y2="1"><stop offset="0" stop-color="#0d00ff"/><stop offset=".176" stop-color="#0007ff"/><stop offset=".284" stop-color="#0062ff"/><stop offset=".363" stop-color="#00daff"/><stop offset=".392" stop-color="#00feff"/><stop offset=".539" stop-color="#00ff33"/><stop offset=".588" stop-color="#06ff00"/><stop offset=".765" stop-color="#eeff00"/><stop offset=".794" stop-color="#fff600"/><stop offset=".902" stop-color="#ffa700"/><stop offset="1" stop-color="#ff8700"/></linearGradient>
<linearGradient id="D39" x2="0" y2="1"><stop offset="0" stop-color="#0100ff"/><stop offset=".176" stop-color="#000eff"/><stop offset=".275" stop-color="#0059ff"/><stop offset=".353" stop-color="#00d0ff"/><stop offset=".392" stop-color="#00ffff"/><stop offset=".539" stop-color="#00ff35"/><stop offset=".588" stop-color="#05ff00"/><stop offset=".775" stop-color="#faff00"/><stop offset=".941" stop-color="#ff9100"/><stop offset="1" stop-color="#ff8300"/></linearGradient>
<linearGradient id="D40" x2="0" y2="1"><stop offset="0" stop-color="#0001ff"/><stop offset=".176" stop-color="#0014ff"/><stop offset=".275" stop-color="#005aff"/><stop offset=".363" stop-color="#00ddff"/><stop offset=".392" stop-color="#00fffe"/><stop offset=".578" stop-color="#00ff06"/><stop offset=".667" stop-color="#6cff00"/><stop offset=".784" stop-color="#fffd00"/><stop offset=".951" stop-color="#ff8900"/><stop offset="1" stop-color="#ff7d00"/></linearGradient>
<linearGradient id="D41" x2="0" y2="1"><stop offset="0" stop-color="#0006ff"/><stop offset=".186" stop-color="#0019ff"/><stop offset=".275" stop-color="#005bff"/><stop offset=".363" stop-color="#00d8ff"/><stop offset=".402" stop-color="#00fffa"/><stop offset=".559" stop-color="#00ff22"/><stop offset=".588" stop-color="#01ff00"/><stop offset=".775" stop-color="#fcff00"/><stop offset=".971" stop-color="#ff7f00"/><stop offset="1" stop-color="#ff7d00"/></linearGradient>
<linearGradient id="D42" x2="0" y2="1"><stop offset="0" stop-color="#000aff"/><stop offset=".186" stop-color="#001aff"/><stop offset=".275" stop-color="#0056ff"/><stop offset=".353" stop-color="#00cbff"/><stop offset=".402" stop-color="#00fffe"/><stop offset=".549" stop-color="#00ff32"/><stop offset=".598" stop-color="#06ff00"/><stop offset=".765" stop-color="#f6ff00"/><stop offset=".804" stop-color="#ffe900"/><stop offset=".971" stop-color="#ff8000"/><stop offset="1" stop-color="#ff7e00"/></linearGradient>
<linearGradient id="D43" x2="0" y2="1"><stop offset="0" stop-color="#0009ff"/><stop offset=".186" stop-color="#0019ff"/><stop offset=".275" stop-color="#0056ff"/><stop offset=".343" stop-color="#00bfff"/><stop offset=".402" stop-color="#00fffd"/><stop offset=".549" stop-color="#00ff32"/><stop offset=".598" stop-color="#04ff00"/><stop offset=".775" stop-color="#fcff00"/><stop offset=".941" stop-color="#ff9600"/><stop offset="1" stop-color="#ff8400"/></linearGradient>
<linearGradient id="D44" x2="0" y2="1"><stop offset="0" stop-color="#0008ff"/><stop offset=".186" stop-color="#001aff"/><stop offset=".275" stop-color="#005dff"/><stop offset=".353" stop-color="#00cdff"/><stop offset=".402" stop-color="#00fff8"/><stop offset=".559" stop-color="#00ff2a"/><stop offset=".598" stop-color="#02ff00"/><stop offset=".784" stop-color="#fffd00"/><stop offset=".912" stop-color="#ffa400"/><stop offset="1" stop-color="#ff8600"/></linearGradient>
<linearGradient id="D45" x2="0" y2="1"><stop offset="0" stop-color="#000aff"/><stop offset=".118" stop-color="#001aff"/><stop offset=".176" stop-color="#0018ff"/><stop offset=".265" stop-color="#005dff"/><stop offset=".333" stop-color="#00c2ff"/><stop offset=".402" stop-color="#00fff8"/><stop offset=".559" stop-color="#00ff32"/><stop offset=".608" stop-color="#04ff00"/><stop offset=".765" stop-color="#e8ff00"/><stop offset=".794" stop-color="#fffa00"/><stop offset=".951" stop-color="#ff9300"/><stop offset="1" stop-color="#ff8800"/></linearGradient>
<linearGradient id="D46" x2="0" y2="1"><stop offset="0" stop-color="#000fff"/><stop offset=".127" stop-color="#0019ff"/><stop offset=".186" stop-color="#001eff"/><stop offset=".265" stop-color="#005bff"/><stop offset=".324" stop-color="#00b9ff"/><stop offset=".402" stop-color="#00ffff"/><stop offset=".569" stop-color="#00ff30"/><stop offset=".608" stop-color="#00ff04"/><stop offset=".765" stop-color="#e8ff00"/><stop offset=".794" stop-color="#fffa00"/><stop offset=".951" stop-color="#ff9700"/><stop offset="1" stop-color="#ff8d00"/></linearGradient>
<linearGradient id="D47" x2="0" y2="1"><stop offset="0" stop-color="#0011ff"/><stop offset=".186" stop-color="#001dff"/><stop offset=".265" stop-color="#0056ff"/><stop offset=".324" stop-color="#00b5ff"/><stop offset=".412" stop-color="#00fffa"/><stop offset=".608" stop-color="#00ff07"/><stop offset=".647" stop-color="#34ff00"/><stop offset=".755" stop-color="#ddff00"/><stop offset=".784" stop-color="#ffff00"/><stop offset=".961" stop-color="#ff9300"/><stop offset="1" stop-color="#ff8d00"/></linearGradient>
<linearGradient id="D48" x2="0" y2="1"><stop offset="0" stop-color="#0011ff"/><stop offset=".186" stop-color="#001dff"/><stop offset=".265" stop-color="#0056ff"/><stop offset=".324" stop-color="#00b5ff"/><stop offset=".412" stop-color="#00fffa"/><stop offset=".608" stop-color="#00ff07"/><stop offset=".647" stop-color="#34ff00"/><stop offset=".755" stop-color="#ddff00"/><stop offset=".784" stop-color="#ffff00"/><stop offset=".961" stop-color="#ff9300"/><stop offset="1" stop-color="#ff8d00"/></linearGradient>
<clipPath id="clipE"><rect x="46" y="396" width="225" height="98"/></clipPath>
<linearGradient id="E0" x2="0" y2="1"><stop offset="0" stop-color="#00faff"/><stop offset=".176" stop-color="#00faff"/><stop offset=".206" stop-color="#00fff1"/><stop offset=".245" stop-color="#00ff99"/><stop offset=".284" stop-color="#00ff32"/><stop offset=".314" stop-color="#00ff13"/><stop offset=".471" stop-color="#04ff00"/><stop offset=".598" stop-color="#6cff00"/><stop offset=".676" stop-color="#feff00"/><stop offset=".755" stop-color="#ffa700"/><stop offset=".98" stop-color="#ff4100"/><stop offset="1" stop-color="#ff4100"/></linearGradient>
<linearGradient id="E1" x2="0" y2="1"><stop offset="0" stop-color="#00faff"/><stop offset=".176" stop-color="#00faff"/><stop offset=".206" stop-color="#00fff1"/><stop offset=".245" stop-color="#00ff99"/><stop offset=".284" stop-color="#00ff32"/><stop offset=".314" stop-color="#00ff13"/><stop offset=".471" stop-color="#04ff00"/><stop offset=".598" stop-color="#6cff00"/><stop offset=".676" stop-color="#feff00"/><stop offset=".755" stop-color="#ffa700"/><stop offset=".98" stop-color="#ff4100"/><stop offset="1" stop-color="#ff4100"/></linearGradient>
<linearGradient id="E2" x2="0" y2="1"><stop offset="0" stop-color="#00f9ff"/><stop offset=".176" stop-color="#00faff"/><stop offset=".206" stop-color="#00fff4"/><stop offset=".235" stop-color="#00ffb9"/><stop offset=".284" stop-color="#00ff36"/><stop offset=".304" stop-color="#00ff1a"/><stop offset=".422" stop-color="#00ff0a"/><stop offset=".471" stop-color="#04ff00"/><stop offset=".598" stop-color="#6aff00"/><stop offset=".686" stop-color="#fffc00"/><stop offset=".755" stop-color="#ffa900"/><stop offset=".971" stop-color="#ff4200"/><stop offset="1" stop-color="#ff4000"/></linearGradient>
<linearGradient id="E3" x2="0" y2="1"><stop offset="0" stop-color="#00f1ff"/><stop offset=".206" stop-color="#00f8ff"/><stop offset=".225" stop-color="#00fff3"/><stop offset=".294" stop-color="#00ff63"/><stop offset=".412" stop-color="#00ff19"/><stop offset=".49" stop-color="#09ff00"/><stop offset=".598" stop-color="#67ff00"/><stop offset=".706" stop-color="#fff900"/><stop offset=".765" stop-color="#ffa900"/><stop offset=".882" stop-color="#ff6d00"/><stop offset=".98" stop-color="#ff3b00"/><stop offset="1" stop-color="#ff3b00"/></linearGradient>
<linearGradient id="E4" x2="0" y2="1"><stop offset="0" stop-color="#00dfff"/><stop offset=".235" stop-color="#00ecff"/><stop offset=".284" stop-color="#00fff6"/><stop offset=".324" stop-color="#00ffd8"/><stop offset=".422" stop-color="#00ff40"/><stop offset=".5" stop-color="#06ff00"/><stop offset=".598" stop-color="#69ff00"/><stop offset=".706" stop-color="#ffff00"/><stop offset=".775" stop-color="#ffa500"/><stop offset=".98" stop-color="#ff3c00"/><stop offset="1" stop-color="#ff3c00"/></linearGradient>
<linearGradient id="E5" x2="0" y2="1"><stop offset="0" stop-color="#0047ff"/><stop offset=".039" stop-color="#0055ff"/><stop offset=".078" stop-color="#006bff"/><stop offset=".137" stop-color="#007dff"/><stop offset=".186" stop-color="#00cdff"/><stop offset=".353" stop-color="#00d7ff"/><stop offset=".382" stop-color="#00fcff"/><stop offset=".51" stop-color="#00ff2f"/><stop offset=".549" stop-color="#06ff00"/><stop offset=".686" stop-color="#dcff00"/><stop offset=".716" stop-color="#fffb00"/><stop offset=".784" stop-color="#ffa300"/><stop offset=".99" stop-color="#ff4500"/><stop offset="1" stop-color="#ff4500"/></linearGradient>
<linearGradient id="E6" x2="0" y2="1"><stop offset="0" stop-color="#000fff"/><stop offset=".206" stop-color="#0019ff"/><stop offset=".245" stop-color="#0062ff"/><stop offset=".265" stop-color="#00abff"/><stop offset=".284" stop-color="#00ccff"/><stop offset=".333" stop-color="#00ccff"/><stop offset=".353" stop-color="#00baff"/><stop offset=".382" stop-color="#00d8ff"/><stop offset=".412" stop-color="#00fff7"/><stop offset=".529" stop-color="#00ff2d"/><stop offset=".559" stop-color="#00ff04"/><stop offset=".706" stop-color="#f5ff00"/><stop offset=".735" stop-color="#ffe100"/><stop offset=".794" stop-color="#ff9e00"/><stop offset=".99" stop-color="#ff4500"/><stop offset="1" stop-color="#ff4500"/></linearGradient>
<linearGradient id="E7" x2="0" y2="1"><stop offset="0" stop-color="#0008ff"/><stop offset=".196" stop-color="#000aff"/><stop offset=".245" stop-color="#0010ff"/><stop offset=".304" stop-color="#003fff"/><stop offset=".412" stop-color="#00f9ff"/><stop offset=".539" stop-color="#00ff24"/><stop offset=".569" stop-color="#05ff00"/><stop offset=".706" stop-color="#f6ff00"/><stop offset=".745" stop-color="#ffd400"/><stop offset=".804" stop-color="#ff9e00"/><stop offset=".971" stop-color="#ff4100"/><stop offset="1" stop-color="#ff3f00"/></linearGradient>
<linearGradient id="E8" x2="0" y2="1"><stop offset="0" stop-color="#0400ff"/><stop offset=".235" stop-color="#0011ff"/><stop offset=".314" stop-color="#004dff"/><stop offset=".412" stop-color="#00fffb"/><stop offset=".51" stop-color="#00ff42"/><stop offset=".559" stop-color="#02ff00"/><stop offset=".706" stop-color="#f7ff00"/><stop offset=".784" stop-color="#ffae00"/><stop offset=".971" stop-color="#ff4400"/><stop offset="1" stop-color="#ff4200"/></linearGradient>
<linearGradient id="E9" x2="0" y2="1"><stop offset="0" stop-color="#2b00ff"/><stop offset=".196" stop-color="#0006ff"/><stop offset=".304" stop-color="#0046ff"/><stop offset=".353" stop-color="#009cff"/><stop offset=".402" stop-color="#00ffff"/><stop offset=".48" stop-color="#00ff55"/><stop offset=".549" stop-color="#05ff00"/><stop offset=".716" stop-color="#fffc00"/><stop offset=".794" stop-color="#ffa900"/><stop offset=".99" stop-color="#ff4b00"/><stop offset="1" stop-color="#ff4b00"/></linearGradient>
<linearGradient id="E10" x2="0" y2="1"><stop offset="0" stop-color="#4900ff"/><stop offset=".167" stop-color="#1d00ff"/><stop offset=".216" stop-color="#0003ff"/><stop offset=".304" stop-color="#0048ff"/><stop offset=".402" stop-color="#00fffa"/><stop offset=".48" stop-color="#00ff46"/><stop offset=".539" stop-color="#03ff00"/><stop offset=".716" stop-color="#fcff00"/><stop offset=".804" stop-color="#ffa200"/><stop offset=".99" stop-color="#ff5100"/><stop offset="1" stop-color="#ff5100"/></linearGradient>
<linearGradient id="E11" x2="0" y2="1"><stop offset="0" stop-color="#8400ff"/><stop offset=".098" stop-color="#7400ff"/><stop offset=".157" stop-color="#4d00ff"/><stop offset=".216" stop-color="#0200ff"/><stop offset=".304" stop-color="#005bff"/><stop offset=".392" stop-color="#00ffff"/><stop offset=".471" stop-color="#00ff45"/><stop offset=".539" stop-color="#08ff00"/><stop offset=".725" stop-color="#fffc00"/><stop offset=".814" stop-color="#ff9f00"/><stop offset=".99" stop-color="#ff5000"/><stop offset="1" stop-color="#ff5000"/></linearGradient>
<linearGradient id="E12" x2="0" y2="1"><stop offset="0" stop-color="#8500ff"/><stop offset=".088" stop-color="#7300ff"/><stop offset=".157" stop-color="#3a00ff"/><stop offset=".206" stop-color="#0004ff"/><stop offset=".294" stop-color="#005bff"/><stop offset=".382" stop-color="#00faff"/><stop offset=".441" stop-color="#00ff84"/><stop offset=".48" stop-color="#00ff3c"/><stop offset=".539" stop-color="#00ff00"/><stop offset=".716" stop-color="#efff00"/><stop offset=".745" stop-color="#ffee00"/><stop offset=".824" stop-color="#ff9d00"/><stop offset=".99" stop-color="#ff4f00"/><stop offset="1" stop-color="#ff4f00"/></linearGradient>
<linearGradient id="E13" x2="0" y2="1"><stop offset="0" stop-color="#5000ff"/><stop offset=".078" stop-color="#3900ff"/><stop offset=".186" stop-color="#0005ff"/><stop offset=".284" stop-color="#0051ff"/><stop offset=".382" stop-color="#00f6ff"/><stop offset=".402" stop-color="#00ffe6"/><stop offset=".49" stop-color="#00ff45"/><stop offset=".559" stop-color="#08ff00"/><stop offset=".735" stop-color="#faff00"/><stop offset=".843" stop-color="#ff9a00"/><stop offset=".98" stop-color="#ff4900"/><stop offset="1" stop-color="#ff4900"/></linearGradient>
<linearGradient id="E14" x2="0" y2="1"><stop offset="0" stop-color="#3500ff"/><stop offset=".078" stop-color="#2000ff"/><stop offset=".176" stop-color="#0008ff"/><stop offset=".275" stop-color="#0045ff"/><stop offset=".392" stop-color="#00ffff"/><stop offset=".5" stop-color="#00ff44"/><stop offset=".559" stop-color="#00ff00"/><stop offset=".745" stop-color="#fffd00"/><stop offset=".843" stop-color="#ffa000"/><stop offset=".971" stop-color="#ff4900"/><stop offset="1" stop-color="#ff4700"/></linearGradient>
<linearGradient id="E15" x2="0" y2="1"><stop offset="0" stop-color="#1800ff"/><stop offset=".157" stop-color="#0009ff"/><stop offset=".235" stop-color="#0032ff"/><stop offset=".284" stop-color="#005fff"/><stop offset=".353" stop-color="#00c6ff"/><stop offset=".392" stop-color="#00faff"/><stop offset=".51" stop-color="#00ff3f"/><stop offset=".569" stop-color="#03ff00"/><stop offset=".735" stop-color="#faff00"/><stop offset=".98" stop-color="#ff5100"/><stop offset="1" stop-color="#ff5100"/></linearGradient>
<linearGradient id="E16" x2="0" y2="1"><stop offset="0" stop-color="#0600ff"/><stop offset=".157" stop-color="#000aff"/><stop offset=".235" stop-color="#0032ff"/><stop offset=".284" stop-color="#0063ff"/><stop offset=".343" stop-color="#00bcff"/><stop offset=".402" stop-color="#00fffc"/><stop offset=".52" stop-color="#00ff3a"/><stop offset=".578" stop-color="#06ff00"/><stop offset=".745" stop-color="#ffff00"/><stop offset=".971" stop-color="#ff6100"/><stop offset="1" stop-color="#ff5e00"/></linearGradient>
<linearGradient id="E17" x2="0" y2="1"><stop offset="0" stop-color="#0008ff"/><stop offset=".157" stop-color="#000aff"/><stop offset=".225" stop-color="#0028ff"/><stop offset=".294" stop-color="#006fff"/><stop offset=".353" stop-color="#00c7ff"/><stop offset=".402" stop-color="#00ffff"/><stop offset=".52" stop-color="#00ff49"/><stop offset=".588" stop-color="#08ff00"/><stop offset=".745" stop-color="#e9ff00"/><stop offset=".765" stop-color="#ffff00"/><stop offset=".902" stop-color="#ff8d00"/><stop offset=".99" stop-color="#ff6500"/><stop offset="1" stop-color="#ff6500"/></linearGradient>
<linearGradient id="E18" x2="0" y2="1"><stop offset="0" stop-color="#000dff"/><stop offset=".176" stop-color="#000dff"/><stop offset=".245" stop-color="#0033ff"/><stop offset=".304" stop-color="#0073ff"/><stop offset=".373" stop-color="#00daff"/><stop offset=".402" stop-color="#00feff"/><stop offset=".529" stop-color="#00ff3a"/><stop offset=".578" stop-color="#00ff03"/><stop offset=".765" stop-color="#feff00"/><stop offset=".912" stop-color="#ff8700"/><stop offset=".99" stop-color="#ff6500"/><stop offset="1" stop-color="#ff6500"/></linearGradient>
<linearGradient id="E19" x2="0" y2="1"><stop offset="0" stop-color="#000dff"/><stop offset=".167" stop-color="#000cff"/><stop offset=".245" stop-color="#0028ff"/><stop offset=".304" stop-color="#0058ff"/><stop offset=".382" stop-color="#00daff"/><stop offset=".412" stop-color="#00fffb"/><stop offset=".51" stop-color="#00ff45"/><stop offset=".578" stop-color="#04ff00"/><stop offset=".755" stop-color="#f8ff00"/><stop offset=".961" stop-color="#ff6a00"/><stop offset="1" stop-color="#ff6300"/></linearGradient>
<linearGradient id="E20" x2="0" y2="1"><stop offset="0" stop-color="#000cff"/><stop offset=".186" stop-color="#000eff"/><stop offset=".275" stop-color="#0035ff"/><stop offset=".314" stop-color="#005bff"/><stop offset=".412" stop-color="#00fbff"/><stop offset=".471" stop-color="#00ff8d"/><stop offset=".52" stop-color="#00ff36"/><stop offset=".578" stop-color="#08ff00"/><stop offset=".765" stop-color="#fffe00"/><stop offset=".931" stop-color="#ff7f00"/><stop offset=".99" stop-color="#ff6700"/><stop offset="1" stop-color="#ff6700"/></linearGradient>
<linearGradient id="E21" x2="0" y2="1"><stop offset="0" stop-color="#000bff"/><stop offset=".127" stop-color="#0008ff"/><stop offset=".216" stop-color="#0011ff"/><stop offset=".314" stop-color="#0050ff"/><stop offset=".412" stop-color="#00f7ff"/><stop offset=".441" stop-color="#00ffcc"/><stop offset=".5" stop-color="#00ff52"/><stop offset=".569" stop-color="#02ff00"/><stop offset=".775" stop-color="#fffa00"/><stop offset=".931" stop-color="#ff8800"/><stop offset=".99" stop-color="#ff6e00"/><stop offset="1" stop-color="#ff6e00"/></linearGradient>
<linearGradient id="E22" x2="0" y2="1"><stop offset="0" stop-color="#000aff"/><stop offset=".216" stop-color="#0013ff"/><stop offset=".324" stop-color="#0054ff"/><stop offset=".412" stop-color="#00f5ff"/><stop offset=".431" stop-color="#00ffdd"/><stop offset=".49" stop-color="#00ff57"/><stop offset=".559" stop-color="#00ff02"/><stop offset=".775" stop-color="#fffc00"/><stop offset=".971" stop-color="#ff7300"/><stop offset="1" stop-color="#ff7000"/></linearGradient>
<linearGradient id="E23" x2="0" y2="1"><stop offset="0" stop-color="#000aff"/><stop offset=".245" stop-color="#001aff"/><stop offset=".324" stop-color="#0052ff"/><stop offset=".412" stop-color="#00f5ff"/><stop offset=".431" stop-color="#00ffde"/><stop offset=".49" stop-color="#00ff56"/><stop offset=".569" stop-color="#05ff00"/><stop offset=".735" stop-color="#d6ff00"/><stop offset=".775" stop-color="#fffe00"/><stop offset=".931" stop-color="#ff9100"/><stop offset="1" stop-color="#ff7b00"/></linearGradient>
<linearGradient id="E24" x2="0" y2="1"><stop offset="0" stop-color="#000aff"/><stop offset=".235" stop-color="#0017ff"/><stop offset=".304" stop-color="#0048ff"/><stop offset=".412" stop-color="#00feff"/><stop offset=".5" stop-color="#00ff54"/><stop offset=".578" stop-color="#01ff00"/><stop offset=".755" stop-color="#ebff00"/><stop offset=".784" stop-color="#fff500"/><stop offset=".931" stop-color="#ff8f00"/><stop offset="1" stop-color="#ff7d00"/></linearGradient>
<linearGradient id="E25" x2="0" y2="1"><stop offset="0" stop-color="#0003ff"/><stop offset=".216" stop-color="#0019ff"/><stop offset=".294" stop-color="#004eff"/><stop offset=".402" stop-color="#00fbff"/><stop offset=".51" stop-color="#00ff4c"/><stop offset=".588" stop-color="#01ff00"/><stop offset=".676" stop-color="#78ff00"/><stop offset=".775" stop-color="#faff00"/><stop offset=".931" stop-color="#ff8d00"/><stop offset="1" stop-color="#ff7c00"/></linearGradient>
<linearGradient id="E26" x2="0" y2="1"><stop offset="0" stop-color="#0100ff"/><stop offset=".186" stop-color="#0017ff"/><stop offset=".265" stop-color="#003eff"/><stop offset=".314" stop-color="#007bff"/><stop offset=".402" stop-color="#00fdff"/><stop offset=".5" stop-color="#00ff58"/><stop offset=".588" stop-color="#02ff00"/><stop offset=".765" stop-color="#edff00"/><stop offset=".794" stop-color="#fff600"/><stop offset=".922" stop-color="#ff8e00"/><stop offset="1" stop-color="#ff7700"/></linearGradient>
<linearGradient id="E27" x2="0" y2="1"><stop offset="0" stop-color="#0006ff"/><stop offset=".157" stop-color="#0016ff"/><stop offset=".235" stop-color="#0037ff"/><stop offset=".284" stop-color="#0069ff"/><stop offset=".343" stop-color="#00c2ff"/><stop offset=".402" stop-color="#00fffa"/><stop offset=".529" stop-color="#00ff3e"/><stop offset=".588" stop-color="#00ff02"/><stop offset=".775" stop-color="#faff00"/><stop offset=".941" stop-color="#ff8500"/><stop offset="1" stop-color="#ff7500"/></linearGradient>
<linearGradient id="E28" x2="0" y2="1"><stop offset="0" stop-color="#0008ff"/><stop offset=".118" stop-color="#000cff"/><stop offset=".196" stop-color="#0024ff"/><stop offset=".265" stop-color="#005cff"/><stop offset=".333" stop-color="#00c8ff"/><stop offset=".382" stop-color="#00feff"/><stop offset=".539" stop-color="#00ff34"/><stop offset=".588" stop-color="#00ff01"/><stop offset=".775" stop-color="#fdff00"/><stop offset=".922" stop-color="#ff9600"/><stop offset=".99" stop-color="#ff7a00"/><stop offset="1" stop-color="#ff7a00"/></linearGradient>
<linearGradient id="E29" x2="0" y2="1"><stop offset="0" stop-color="#0009ff"/><stop offset=".147" stop-color="#0008ff"/><stop offset=".235" stop-color="#0044ff"/><stop offset=".284" stop-color="#0091ff"/><stop offset=".343" stop-color="#00e2ff"/><stop offset=".373" stop-color="#00fffb"/><stop offset=".529" stop-color="#00ff33"/><stop offset=".578" stop-color="#00ff03"/><stop offset=".775" stop-color="#ffff00"/><stop offset=".951" stop-color="#ff8400"/><stop offset="1" stop-color="#ff7800"/></linearGradient>
<linearGradient id="E30" x2="0" y2="1"><stop offset="0" stop-color="#0009ff"/><stop offset=".147" stop-color="#0009ff"/><stop offset=".245" stop-color="#004aff"/><stop offset=".324" stop-color="#00c8ff"/><stop offset=".373" stop-color="#00ffff"/><stop offset=".52" stop-color="#00ff3b"/><stop offset=".578" stop-color="#00ff00"/><stop offset=".775" stop-color="#fffb00"/><stop offset=".971" stop-color="#ff7a00"/><stop offset="1" stop-color="#ff7700"/></linearGradient>
<linearGradient id="E31" x2="0" y2="1"><stop offset="0" stop-color="#000aff"/><stop offset=".147" stop-color="#0014ff"/><stop offset=".245" stop-color="#0047ff"/><stop offset=".324" stop-color="#00c4ff"/><stop offset=".382" stop-color="#00fff7"/><stop offset=".5" stop-color="#00ff4e"/><stop offset=".578" stop-color="#00ff04"/><stop offset=".765" stop-color="#faff00"/><stop offset=".902" stop-color="#ff9d00"/><stop offset="1" stop-color="#ff8000"/></linearGradient>
<linearGradient id="E32" x2="0" y2="1"><stop offset="0" stop-color="#000aff"/><stop offset=".157" stop-color="#0018ff"/><stop offset=".245" stop-color="#0049ff"/><stop offset=".333" stop-color="#00d2ff"/><stop offset=".373" stop-color="#00fffe"/><stop offset=".5" stop-color="#00ff4f"/><stop offset=".578" stop-color="#00ff02"/><stop offset=".765" stop-color="#faff00"/><stop offset=".912" stop-color="#ff9700"/><stop offset="1" stop-color="#ff8200"/></linearGradient>
<linearGradient id="E33" x2="0" y2="1"><stop offset="0" stop-color="#000aff"/><stop offset=".147" stop-color="#0010ff"/><stop offset=".245" stop-color="#005fff"/><stop offset=".363" stop-color="#00ffff"/><stop offset=".51" stop-color="#00ff3f"/><stop offset=".578" stop-color="#02ff00"/><stop offset=".775" stop-color="#fffc00"/><stop offset=".922" stop-color="#ff9500"/><stop offset="1" stop-color="#ff8400"/></linearGradient>
<linearGradient id="E34" x2="0" y2="1"><stop offset="0" stop-color="#000cff"/><stop offset=".147" stop-color="#000eff"/><stop offset=".245" stop-color="#0069ff"/><stop offset=".314" stop-color="#00c7ff"/><stop offset=".363" stop-color="#00fffc"/><stop offset=".51" stop-color="#00ff34"/><stop offset=".569" stop-color="#00ff00"/><stop offset=".755" stop-color="#e7ff00"/><stop offset=".775" stop-color="#ffff00"/><stop offset=".922" stop-color="#ff9600"/><stop offset="1" stop-color="#ff8500"/></linearGradient>
<linearGradient id="E35" x2="0" y2="1"><stop offset="0" stop-color="#000fff"/><stop offset=".157" stop-color="#001aff"/><stop offset=".235" stop-color="#0053ff"/><stop offset=".304" stop-color="#00b9ff"/><stop offset=".363" stop-color="#00fffe"/><stop offset=".5" stop-color="#00ff37"/><stop offset=".559" stop-color="#00ff00"/><stop offset=".667" stop-color="#7aff00"/><stop offset=".775" stop-color="#ffff00"/><stop offset=".902" stop-color="#ffa100"/><stop offset="1" stop-color="#ff8300"/></linearGradient>
<linearGradient id="E36" x2="0" y2="1"><stop offset="0" stop-color="#0012ff"/><stop offset=".167" stop-color="#0024ff"/><stop offset=".235" stop-color="#0053ff"/><stop offset=".324" stop-color="#00d3ff"/><stop offset=".363" stop-color="#00fff8"/><stop offset=".5" stop-color="#00ff3a"/><stop offset=".559" stop-color="#01ff00"/><stop offset=".775" stop-color="#fcff00"/><stop offset=".902" stop-color="#ffa200"/><stop offset="1" stop-color="#ff8700"/></linearGradient>
<linearGradient id="E37" x2="0" y2="1"><stop offset="0" stop-color="#0017ff"/><stop offset=".167" stop-color="#0024ff"/><stop offset=".235" stop-color="#0054ff"/><stop offset=".314" stop-color="#00d3ff"/><stop offset=".353" stop-color="#00fffb"/><stop offset=".49" stop-color="#00ff46"/><stop offset=".559" stop-color="#01ff00"/><stop offset=".784" stop-color="#fffb00"/><stop offset=".882" stop-color="#ffae00"/><stop offset="1" stop-color="#ff8f00"/></linearGradient>
<linearGradient id="E38" x2="0" y2="1"><stop offset="0" stop-color="#0018ff"/><stop offset=".157" stop-color="#001fff"/><stop offset=".235" stop-color="#0055ff"/><stop offset=".314" stop-color="#00d4ff"/><stop offset=".353" stop-color="#00fffa"/><stop offset=".48" stop-color="#00ff48"/><stop offset=".559" stop-color="#04ff00"/><stop offset=".696" stop-color="#9bff00"/><stop offset=".775" stop-color="#fbff00"/><stop offset=".892" stop-color="#ffab00"/><stop offset="1" stop-color="#ff9400"/></linearGradient>
<linearGradient id="E39" x2="0" y2="1"><stop offset="0" stop-color="#001aff"/><stop offset=".147" stop-color="#0019ff"/><stop offset=".225" stop-color="#004bff"/><stop offset=".314" stop-color="#00cfff"/><stop offset=".353" stop-color="#00ffff"/><stop offset=".471" stop-color="#00ff4c"/><stop offset=".559" stop-color="#07ff00"/><stop offset=".725" stop-color="#c2ff00"/><stop offset=".775" stop-color="#fdff00"/><stop offset=".912" stop-color="#ffa400"/><stop offset="1" stop-color="#ff8f00"/></linearGradient>
<linearGradient id="E40" x2="0" y2="1"><stop offset="0" stop-color="#0017ff"/><stop offset=".157" stop-color="#0017ff"/><stop offset=".216" stop-color="#003bff"/><stop offset=".304" stop-color="#00c7ff"/><stop offset=".353" stop-color="#00fffa"/><stop offset=".471" stop-color="#00ff48"/><stop offset=".549" stop-color="#04ff00"/><stop offset=".706" stop-color="#aaff00"/><stop offset=".775" stop-color="#fcff00"/><stop offset=".931" stop-color="#ff9f00"/><stop offset="1" stop-color="#ff8900"/></linearGradient>
<linearGradient id="E41" x2="0" y2="1"><stop offset="0" stop-color="#000dff"/><stop offset=".127" stop-color="#0013ff"/><stop offset=".216" stop-color="#0048ff"/><stop offset=".294" stop-color="#00c4ff"/><stop offset=".343" stop-color="#00ffff"/><stop offset=".471" stop-color="#00ff41"/><stop offset=".549" stop-color="#06ff00"/><stop offset=".735" stop-color="#cdff00"/><stop offset=".784" stop-color="#fff800"/><stop offset=".971" stop-color="#ff8500"/><stop offset="1" stop-color="#ff8100"/></linearGradient>
<linearGradient id="E42" x2="0" y2="1"><stop offset="0" stop-color="#000bff"/><stop offset=".137" stop-color="#0019ff"/><stop offset=".216" stop-color="#0055ff"/><stop offset=".284" stop-color="#00c0ff"/><stop offset=".343" stop-color="#00fffc"/><stop offset=".471" stop-color="#00ff3e"/><stop offset=".549" stop-color="#02ff00"/><stop offset=".765" stop-color="#f0ff00"/><stop offset=".794" stop-color="#ffef00"/><stop offset=".98" stop-color="#ff7e00"/><stop offset="1" stop-color="#ff7e00"/></linearGradient>
<linearGradient id="E43" x2="0" y2="1"><stop offset="0" stop-color="#0018ff"/><stop offset=".137" stop-color="#0017ff"/><stop offset=".216" stop-color="#0057ff"/><stop offset=".284" stop-color="#00c5ff"/><stop offset=".343" stop-color="#00fffa"/><stop offset=".471" stop-color="#00ff40"/><stop offset=".549" stop-color="#04ff00"/><stop offset=".745" stop-color="#dbff00"/><stop offset=".775" stop-color="#feff00"/><stop offset=".931" stop-color="#ff9000"/><stop offset="1" stop-color="#ff7e00"/></linearGradient>
<linearGradient id="E44" x2="0" y2="1"><stop offset="0" stop-color="#001bff"/><stop offset=".137" stop-color="#0017ff"/><stop offset=".216" stop-color="#0055ff"/><stop offset=".284" stop-color="#00c4ff"/><stop offset=".343" stop-color="#00fffb"/><stop offset=".48" stop-color="#00ff3c"/><stop offset=".549" stop-color="#00ff01"/><stop offset=".735" stop-color="#cdff00"/><stop offset=".775" stop-color="#fdff00"/><stop offset=".912" stop-color="#ff9e00"/><stop offset="1" stop-color="#ff8800"/></linearGradient>
<linearGradient id="E45" x2="0" y2="1"><stop offset="0" stop-color="#0013ff"/><stop offset=".127" stop-color="#001eff"/><stop offset=".216" stop-color="#005eff"/><stop offset=".284" stop-color="#00c1ff"/><stop offset=".343" stop-color="#00fffc"/><stop offset=".48" stop-color="#00ff41"/><stop offset=".559" stop-color="#03ff00"/><stop offset=".657" stop-color="#76ff00"/><stop offset=".784" stop-color="#fffc00"/><stop offset=".922" stop-color="#ff9c00"/><stop offset="1" stop-color="#ff8d00"/></linearGradient>
<linearGradient id="E46" x2="0" y2="1"><stop offset="0" stop-color="#001bff"/><stop offset=".118" stop-color="#001dff"/><stop offset=".216" stop-color="#0062ff"/><stop offset=".284" stop-color="#00beff"/><stop offset=".343" stop-color="#00fffc"/><stop offset=".49" stop-color="#00ff3c"/><stop offset=".559" stop-color="#01ff00"/><stop offset=".667" stop-color="#80ff00"/><stop offset=".784" stop-color="#fffa00"/><stop offset=".922" stop-color="#ff9b00"/><stop offset="1" stop-color="#ff8c00"/></linearGradient>
<linearGradient id="E47" x2="0" y2="1"><stop offset="0" stop-color="#0020ff"/><stop offset=".118" stop-color="#001dff"/><stop offset=".206" stop-color="#0054ff"/><stop offset=".294" stop-color="#00c8ff"/><stop offset=".343" stop-color="#00fffb"/><stop offset=".49" stop-color="#00ff40"/><stop offset=".559" stop-color="#00ff00"/><stop offset=".775" stop-color="#fbff00"/><stop offset=".922" stop-color="#ff9c00"/><stop offset="1" stop-color="#ff8e00"/></linearGradient>
<linearGradient id="E48" x2="0" y2="1"><stop offset="0" stop-color="#0020ff"/><stop offset=".118" stop-color="#001dff"/><stop offset=".206" stop-color="#0054ff"/><stop offset=".294" stop-color="#00c8ff"/><stop offset=".343" stop-color="#00fffb"/><stop offset=".49" stop-color="#00ff40"/><stop offset=".559" stop-color="#00ff00"/><stop offset=".775" stop-color="#fbff00"/><stop offset=".922" stop-color="#ff9c00"/><stop offset="1" stop-color="#ff8e00"/></linearGradient>
<clipPath id="clipF"><rect x="305" y="148" width="225" height="98"/></clipPath>
<filter id="hb1.6" x="-5%" y="-5%" width="110%" height="110%"><feGaussianBlur stdDeviation="1.6 0.6"/></filter>
<linearGradient id="F0" x2="0" y2="1"><stop offset="0" stop-color="#2600ff"/><stop offset=".147" stop-color="#3900ff"/><stop offset=".225" stop-color="#000aff"/><stop offset=".275" stop-color="#0031ff"/><stop offset=".314" stop-color="#0070ff"/><stop offset=".363" stop-color="#0073ff"/><stop offset=".441" stop-color="#003cff"/><stop offset=".578" stop-color="#0037ff"/><stop offset=".598" stop-color="#004dff"/><stop offset=".667" stop-color="#00e3ff"/><stop offset=".686" stop-color="#00fff9"/><stop offset=".716" stop-color="#00ffb0"/><stop offset=".755" stop-color="#00ff1a"/><stop offset=".765" stop-color="#05ff00"/><stop offset=".804" stop-color="#5dff00"/><stop offset=".824" stop-color="#82ff00"/><stop offset=".843" stop-color="#f1ff00"/><stop offset=".863" stop-color="#ffc100"/><stop offset=".892" stop-color="#ff9700"/><stop offset=".951" stop-color="#ff6800"/><stop offset="1" stop-color="#ff6e00"/></linearGradient>
<linearGradient id="F1" x2="0" y2="1"><stop offset="0" stop-color="#2600ff"/><stop offset=".147" stop-color="#3900ff"/><stop offset=".225" stop-color="#000aff"/><stop offset=".275" stop-color="#0031ff"/><stop offset=".314" stop-color="#0070ff"/><stop offset=".363" stop-color="#0073ff"/><stop offset=".441" stop-color="#003cff"/><stop offset=".578" stop-color="#0037ff"/><stop offset=".598" stop-color="#004dff"/><stop offset=".667" stop-color="#00e3ff"/><stop offset=".686" stop-color="#00fff9"/><stop offset=".716" stop-color="#00ffb0"/><stop offset=".755" stop-color="#00ff1a"/><stop offset=".765" stop-color="#05ff00"/><stop offset=".804" stop-color="#5dff00"/><stop offset=".824" stop-color="#82ff00"/><stop offset=".843" stop-color="#f1ff00"/><stop offset=".863" stop-color="#ffc100"/><stop offset=".892" stop-color="#ff9700"/><stop offset=".951" stop-color="#ff6800"/><stop offset="1" stop-color="#ff6e00"/></linearGradient>
<linearGradient id="F2" x2="0" y2="1"><stop offset="0" stop-color="#2f00ff"/><stop offset=".157" stop-color="#3300ff"/><stop offset=".225" stop-color="#0008ff"/><stop offset=".284" stop-color="#0036ff"/><stop offset=".324" stop-color="#0058ff"/><stop offset=".382" stop-color="#0043ff"/><stop offset=".451" stop-color="#0020ff"/><stop offset=".578" stop-color="#002cff"/><stop offset=".598" stop-color="#0046ff"/><stop offset=".667" stop-color="#00f1ff"/><stop offset=".686" stop-color="#00ffdd"/><stop offset=".716" stop-color="#00ff82"/><stop offset=".745" stop-color="#00ff03"/><stop offset=".775" stop-color="#68ff00"/><stop offset=".804" stop-color="#9fff00"/><stop offset=".824" stop-color="#b7ff00"/><stop offset=".843" stop-color="#fff600"/><stop offset=".863" stop-color="#ffbb00"/><stop offset=".931" stop-color="#ff6d00"/><stop offset=".98" stop-color="#ff6200"/><stop offset="1" stop-color="#ff6200"/></linearGradient>
<linearGradient id="F3" x2="0" y2="1"><stop offset="0" stop-color="#4100ff"/><stop offset=".157" stop-color="#3900ff"/><stop offset=".235" stop-color="#0005ff"/><stop offset=".451" stop-color="#1d00ff"/><stop offset=".52" stop-color="#0100ff"/><stop offset=".578" stop-color="#0003ff"/><stop offset=".598" stop-color="#002bff"/><stop offset=".657" stop-color="#00f5ff"/><stop offset=".686" stop-color="#00ffa5"/><stop offset=".725" stop-color="#00ff0d"/><stop offset=".735" stop-color="#23ff00"/><stop offset=".765" stop-color="#c7ff00"/><stop offset=".784" stop-color="#fffc00"/><stop offset=".804" stop-color="#ffe100"/><stop offset=".833" stop-color="#ffd500"/><stop offset=".931" stop-color="#ff6900"/><stop offset=".98" stop-color="#ff4800"/><stop offset="1" stop-color="#ff4800"/></linearGradient>
<linearGradient id="F4" x2="0" y2="1"><stop offset="0" stop-color="#4200ff"/><stop offset=".147" stop-color="#4a00ff"/><stop offset=".216" stop-color="#0800ff"/><stop offset=".255" stop-color="#2000ff"/><stop offset=".314" stop-color="#5c00ff"/><stop offset=".363" stop-color="#5000ff"/><stop offset=".471" stop-color="#1d00ff"/><stop offset=".51" stop-color="#0200ff"/><stop offset=".569" stop-color="#1f00ff"/><stop offset=".588" stop-color="#0900ff"/><stop offset=".598" stop-color="#0016ff"/><stop offset=".647" stop-color="#00e7ff"/><stop offset=".657" stop-color="#00fff1"/><stop offset=".716" stop-color="#00ff10"/><stop offset=".725" stop-color="#1fff00"/><stop offset=".765" stop-color="#f7ff00"/><stop offset=".794" stop-color="#ffc100"/><stop offset=".853" stop-color="#ffbb00"/><stop offset=".98" stop-color="#ff5500"/><stop offset="1" stop-color="#ff5500"/></linearGradient>
<linearGradient id="F5" x2="0" y2="1"><stop offset="0" stop-color="#3700ff"/><stop offset=".118" stop-color="#4800ff"/><stop offset=".157" stop-color="#4400ff"/><stop offset=".216" stop-color="#1a00ff"/><stop offset=".255" stop-color="#4200ff"/><stop offset=".294" stop-color="#7100ff"/><stop offset=".333" stop-color="#6600ff"/><stop offset=".402" stop-color="#3900ff"/><stop offset=".48" stop-color="#1200ff"/><stop offset=".529" stop-color="#0001ff"/><stop offset=".578" stop-color="#0a00ff"/><stop offset=".588" stop-color="#0006ff"/><stop offset=".618" stop-color="#0073ff"/><stop offset=".647" stop-color="#00f1ff"/><stop offset=".667" stop-color="#00ffbc"/><stop offset=".706" stop-color="#00ff21"/><stop offset=".716" stop-color="#0dff00"/><stop offset=".745" stop-color="#b4ff00"/><stop offset=".765" stop-color="#fffe00"/><stop offset=".794" stop-color="#ffd300"/><stop offset=".853" stop-color="#ffd200"/><stop offset=".98" stop-color="#ff8400"/><stop offset="1" stop-color="#ff8400"/></linearGradient>
<linearGradient id="F6" x2="0" y2="1"><stop offset="0" stop-color="#2400ff"/><stop offset=".098" stop-color="#2300ff"/><stop offset=".167" stop-color="#3800ff"/><stop offset=".225" stop-color="#3700ff"/><stop offset=".294" stop-color="#6100ff"/><stop offset=".382" stop-color="#4400ff"/><stop offset=".441" stop-color="#3800ff"/><stop offset=".529" stop-color="#0200ff"/><stop offset=".578" stop-color="#0200ff"/><stop offset=".598" stop-color="#002dff"/><stop offset=".647" stop-color="#00fffa"/><stop offset=".696" stop-color="#00ff20"/><stop offset=".706" stop-color="#04ff00"/><stop offset=".725" stop-color="#6bff00"/><stop offset=".735" stop-color="#a5ff00"/><stop offset=".755" stop-color="#e7ff00"/><stop offset=".775" stop-color="#fff500"/><stop offset=".814" stop-color="#ffdf00"/><stop offset=".863" stop-color="#ffe100"/><stop offset=".99" stop-color="#ffad00"/><stop offset="1" stop-color="#ffad00"/></linearGradient>
<linearGradient id="F7" x2="0" y2="1"><stop offset="0" stop-color="#2400ff"/><stop offset=".098" stop-color="#2000ff"/><stop offset=".275" stop-color="#4c00ff"/><stop offset=".333" stop-color="#4400ff"/><stop offset=".392" stop-color="#5c00ff"/><stop offset=".52" stop-color="#0001ff"/><stop offset=".578" stop-color="#0017ff"/><stop offset=".598" stop-color="#0056ff"/><stop offset=".627" stop-color="#00edff"/><stop offset=".637" stop-color="#00ffdf"/><stop offset=".676" stop-color="#00ff29"/><stop offset=".686" stop-color="#00ff08"/><stop offset=".716" stop-color="#49ff00"/><stop offset=".735" stop-color="#91ff00"/><stop offset=".784" stop-color="#fff800"/><stop offset=".814" stop-color="#ffc800"/><stop offset=".922" stop-color="#ffb700"/><stop offset="1" stop-color="#ffcd00"/></linearGradient>
<linearGradient id="F8" x2="0" y2="1"><stop offset="0" stop-color="#3d00ff"/><stop offset=".157" stop-color="#2e00ff"/><stop offset=".216" stop-color="#4800ff"/><stop offset=".324" stop-color="#3a00ff"/><stop offset=".392" stop-color="#5400ff"/><stop offset=".539" stop-color="#0008ff"/><stop offset=".569" stop-color="#001fff"/><stop offset=".588" stop-color="#005fff"/><stop offset=".618" stop-color="#00fff5"/><stop offset=".647" stop-color="#00ff5b"/><stop offset=".667" stop-color="#00ff09"/><stop offset=".745" stop-color="#76ff00"/><stop offset=".765" stop-color="#96ff00"/><stop offset=".784" stop-color="#fcff00"/><stop offset=".804" stop-color="#ffbb00"/><stop offset=".824" stop-color="#ffa300"/><stop offset=".912" stop-color="#ff9400"/><stop offset=".99" stop-color="#ffd000"/><stop offset="1" stop-color="#ffd000"/></linearGradient>
<linearGradient id="F9" x2="0" y2="1"><stop offset="0" stop-color="#4e00ff"/><stop offset=".137" stop-color="#3100ff"/><stop offset=".206" stop-color="#4100ff"/><stop offset=".265" stop-color="#2c00ff"/><stop offset=".422" stop-color="#3900ff"/><stop offset=".51" stop-color="#0900ff"/><stop offset=".549" stop-color="#0009ff"/><stop offset=".569" stop-color="#002bff"/><stop offset=".588" stop-color="#007eff"/><stop offset=".608" stop-color="#00f0ff"/><stop offset=".627" stop-color="#00ffa2"/><stop offset=".667" stop-color="#00ff1a"/><stop offset=".686" stop-color="#01ff00"/><stop offset=".755" stop-color="#4cff00"/><stop offset=".765" stop-color="#69ff00"/><stop offset=".784" stop-color="#f0ff00"/><stop offset=".804" stop-color="#ffac00"/><stop offset=".824" stop-color="#ff8700"/><stop offset=".902" stop-color="#ff8300"/><stop offset=".961" stop-color="#ffab00"/><stop offset=".99" stop-color="#ffbc00"/><stop offset="1" stop-color="#ffbc00"/></linearGradient>
<linearGradient id="F10" x2="0" y2="1"><stop offset="0" stop-color="#5500ff"/><stop offset=".196" stop-color="#4600ff"/><stop offset=".255" stop-color="#3700ff"/><stop offset=".324" stop-color="#4c00ff"/><stop offset=".382" stop-color="#5600ff"/><stop offset=".422" stop-color="#5700ff"/><stop offset=".49" stop-color="#0000ff"/><stop offset=".559" stop-color="#0039ff"/><stop offset=".588" stop-color="#0098ff"/><stop offset=".608" stop-color="#00edff"/><stop offset=".618" stop-color="#00ffe9"/><stop offset=".647" stop-color="#00ff96"/><stop offset=".686" stop-color="#00ff54"/><stop offset=".735" stop-color="#02ff00"/><stop offset=".755" stop-color="#2dff00"/><stop offset=".765" stop-color="#51ff00"/><stop offset=".784" stop-color="#dfff00"/><stop offset=".794" stop-color="#ffde00"/><stop offset=".814" stop-color="#ff9400"/><stop offset=".833" stop-color="#ff7800"/><stop offset=".882" stop-color="#ff7800"/><stop offset=".99" stop-color="#ffc200"/><stop offset="1" stop-color="#ffc200"/></linearGradient>
<linearGradient id="F11" x2="0" y2="1"><stop offset="0" stop-color="#7900ff"/><stop offset=".098" stop-color="#7300ff"/><stop offset=".225" stop-color="#3500ff"/><stop offset=".412" stop-color="#6a00ff"/><stop offset=".461" stop-color="#3500ff"/><stop offset=".48" stop-color="#0d00ff"/><stop offset=".5" stop-color="#0026ff"/><stop offset=".529" stop-color="#0055ff"/><stop offset=".569" stop-color="#0087ff"/><stop offset=".618" stop-color="#00f8ff"/><stop offset=".706" stop-color="#00ff6c"/><stop offset=".745" stop-color="#01ff00"/><stop offset=".765" stop-color="#45ff00"/><stop offset=".784" stop-color="#d1ff00"/><stop offset=".794" stop-color="#ffec00"/><stop offset=".814" stop-color="#ffa000"/><stop offset=".843" stop-color="#ff7300"/><stop offset=".873" stop-color="#ff6a00"/><stop offset=".98" stop-color="#ffc600"/><stop offset="1" stop-color="#ffc600"/></linearGradient>
<linearGradient id="F12" x2="0" y2="1"><stop offset="0" stop-color="#8800ff"/><stop offset=".098" stop-color="#7b00ff"/><stop offset=".196" stop-color="#2900ff"/><stop offset=".265" stop-color="#3300ff"/><stop offset=".382" stop-color="#4b00ff"/><stop offset=".431" stop-color="#3b00ff"/><stop offset=".48" stop-color="#0009ff"/><stop offset=".52" stop-color="#005aff"/><stop offset=".559" stop-color="#0086ff"/><stop offset=".627" stop-color="#00f8ff"/><stop offset=".686" stop-color="#00ffa9"/><stop offset=".735" stop-color="#00ff37"/><stop offset=".755" stop-color="#00ff01"/><stop offset=".765" stop-color="#24ff00"/><stop offset=".794" stop-color="#e4ff00"/><stop offset=".804" stop-color="#ffed00"/><stop offset=".824" stop-color="#ffac00"/><stop offset=".863" stop-color="#ff7300"/><stop offset=".892" stop-color="#ff7e00"/><stop offset=".98" stop-color="#ffcd00"/><stop offset="1" stop-color="#ffcd00"/></linearGradient>
<linearGradient id="F13" x2="0" y2="1"><stop offset="0" stop-color="#7700ff"/><stop offset=".098" stop-color="#6600ff"/><stop offset=".167" stop-color="#3900ff"/><stop offset=".324" stop-color="#4a00ff"/><stop offset=".422" stop-color="#2d00ff"/><stop offset=".471" stop-color="#0007ff"/><stop offset=".52" stop-color="#003cff"/><stop offset=".549" stop-color="#0056ff"/><stop offset=".608" stop-color="#00d4ff"/><stop offset=".637" stop-color="#00fffd"/><stop offset=".716" stop-color="#00ff93"/><stop offset=".755" stop-color="#00ff55"/><stop offset=".775" stop-color="#00ff07"/><stop offset=".804" stop-color="#a5ff00"/><stop offset=".824" stop-color="#f3ff00"/><stop offset=".853" stop-color="#ffbf00"/><stop offset=".873" stop-color="#ff9500"/><stop offset=".912" stop-color="#ffa300"/><stop offset=".99" stop-color="#ffdc00"/><stop offset="1" stop-color="#ffdc00"/></linearGradient>
<linearGradient id="F14" x2="0" y2="1"><stop offset="0" stop-color="#7300ff"/><stop offset=".078" stop-color="#6f00ff"/><stop offset=".157" stop-color="#4600ff"/><stop offset=".294" stop-color="#6800ff"/><stop offset=".382" stop-color="#4d00ff"/><stop offset=".441" stop-color="#2800ff"/><stop offset=".471" stop-color="#0004ff"/><stop offset=".549" stop-color="#005eff"/><stop offset=".598" stop-color="#00ceff"/><stop offset=".647" stop-color="#00fff8"/><stop offset=".696" stop-color="#00ffd0"/><stop offset=".755" stop-color="#00ffae"/><stop offset=".775" stop-color="#00ff7b"/><stop offset=".794" stop-color="#00ff1b"/><stop offset=".804" stop-color="#15ff00"/><stop offset=".863" stop-color="#fff800"/><stop offset=".882" stop-color="#ffc400"/><stop offset=".931" stop-color="#ffbe00"/><stop offset=".99" stop-color="#ffdd00"/><stop offset="1" stop-color="#ffdd00"/></linearGradient>
<linearGradient id="F15" x2="0" y2="1"><stop offset="0" stop-color="#7000ff"/><stop offset=".088" stop-color="#7100ff"/><stop offset=".167" stop-color="#5800ff"/><stop offset=".275" stop-color="#6e00ff"/><stop offset=".373" stop-color="#6e00ff"/><stop offset=".441" stop-color="#2800ff"/><stop offset=".461" stop-color="#0002ff"/><stop offset=".598" stop-color="#00dfff"/><stop offset=".676" stop-color="#00faff"/><stop offset=".735" stop-color="#00fff8"/><stop offset=".775" stop-color="#00ffd2"/><stop offset=".794" stop-color="#00ff9a"/><stop offset=".833" stop-color="#07ff00"/><stop offset=".873" stop-color="#d3ff00"/><stop offset=".892" stop-color="#fffe00"/><stop offset=".931" stop-color="#ffd700"/><stop offset="1" stop-color="#ffe000"/></linearGradient>
<linearGradient id="F16" x2="0" y2="1"><stop offset="0" stop-color="#5500ff"/><stop offset=".127" stop-color="#6000ff"/><stop offset=".206" stop-color="#7100ff"/><stop offset=".275" stop-color="#7400ff"/><stop offset=".353" stop-color="#7d00ff"/><stop offset=".382" stop-color="#7e00ff"/><stop offset=".441" stop-color="#3b00ff"/><stop offset=".471" stop-color="#0004ff"/><stop offset=".598" stop-color="#00cdff"/><stop offset=".657" stop-color="#00fff9"/><stop offset=".775" stop-color="#00ffb0"/><stop offset=".804" stop-color="#00ff73"/><stop offset=".843" stop-color="#01ff00"/><stop offset=".873" stop-color="#8cff00"/><stop offset=".922" stop-color="#fbff00"/><stop offset=".961" stop-color="#fff300"/><stop offset="1" stop-color="#fff800"/></linearGradient>
<linearGradient id="F17" x2="0" y2="1"><stop offset="0" stop-color="#4800ff"/><stop offset=".078" stop-color="#4e00ff"/><stop offset=".235" stop-color="#9700ff"/><stop offset=".392" stop-color="#8400ff"/><stop offset=".441" stop-color="#5700ff"/><stop offset=".48" stop-color="#0a00ff"/><stop offset=".5" stop-color="#001aff"/><stop offset=".578" stop-color="#00a2ff"/><stop offset=".647" stop-color="#00fff7"/><stop offset=".686" stop-color="#00ffc0"/><stop offset=".755" stop-color="#00ff91"/><stop offset=".784" stop-color="#00ff7e"/><stop offset=".843" stop-color="#00ff06"/><stop offset=".882" stop-color="#7eff00"/><stop offset=".922" stop-color="#ddff00"/><stop offset=".951" stop-color="#f0ff00"/><stop offset="1" stop-color="#f0ff00"/></linearGradient>
<linearGradient id="F18" x2="0" y2="1"><stop offset="0" stop-color="#5b00ff"/><stop offset=".108" stop-color="#5800ff"/><stop offset=".216" stop-color="#9a00ff"/><stop offset=".422" stop-color="#6e00ff"/><stop offset=".451" stop-color="#4700ff"/><stop offset=".49" stop-color="#0006ff"/><stop offset=".549" stop-color="#0084ff"/><stop offset=".627" stop-color="#00f0ff"/><stop offset=".647" stop-color="#00ffdb"/><stop offset=".676" stop-color="#00ff9f"/><stop offset=".725" stop-color="#00ff84"/><stop offset=".775" stop-color="#00ff8f"/><stop offset=".833" stop-color="#00ff45"/><stop offset=".853" stop-color="#00ff0e"/><stop offset=".873" stop-color="#31ff00"/><stop offset=".902" stop-color="#76ff00"/><stop offset=".922" stop-color="#beff00"/><stop offset=".951" stop-color="#e0ff00"/><stop offset="1" stop-color="#eaff00"/></linearGradient>
<linearGradient id="F19" x2="0" y2="1"><stop offset="0" stop-color="#7500ff"/><stop offset=".108" stop-color="#6200ff"/><stop offset=".245" stop-color="#8500ff"/><stop offset=".314" stop-color="#5800ff"/><stop offset=".431" stop-color="#5300ff"/><stop offset=".49" stop-color="#0006ff"/><stop offset=".539" stop-color="#0070ff"/><stop offset=".618" stop-color="#00e2ff"/><stop offset=".627" stop-color="#00feff"/><stop offset=".667" stop-color="#00ff7e"/><stop offset=".706" stop-color="#00ff52"/><stop offset=".725" stop-color="#00ff58"/><stop offset=".775" stop-color="#00ff94"/><stop offset=".833" stop-color="#00ff8b"/><stop offset=".882" stop-color="#00ff03"/><stop offset=".902" stop-color="#3bff00"/><stop offset=".922" stop-color="#99ff00"/><stop offset=".941" stop-color="#c6ff00"/><stop offset=".98" stop-color="#e9ff00"/><stop offset="1" stop-color="#e9ff00"/></linearGradient>
<linearGradient id="F20" x2="0" y2="1"><stop offset="0" stop-color="#7d00ff"/><stop offset=".098" stop-color="#6a00ff"/><stop offset=".235" stop-color="#9100ff"/><stop offset=".275" stop-color="#6900ff"/><stop offset=".314" stop-color="#3500ff"/><stop offset=".402" stop-color="#4800ff"/><stop offset=".451" stop-color="#2f00ff"/><stop offset=".49" stop-color="#0007ff"/><stop offset=".618" stop-color="#00f3ff"/><stop offset=".637" stop-color="#00ffcb"/><stop offset=".667" stop-color="#00ff6a"/><stop offset=".706" stop-color="#00ff3c"/><stop offset=".735" stop-color="#00ff48"/><stop offset=".794" stop-color="#00ff7c"/><stop offset=".833" stop-color="#00ff7f"/><stop offset=".863" stop-color="#00ff2e"/><stop offset=".882" stop-color="#0aff00"/><stop offset=".902" stop-color="#42ff00"/><stop offset=".922" stop-color="#92ff00"/><stop offset=".951" stop-color="#c3ff00"/><stop offset=".99" stop-color="#e0ff00"/><stop offset="1" stop-color="#e0ff00"/></linearGradient>
<linearGradient id="F21" x2="0" y2="1"><stop offset="0" stop-color="#6e00ff"/><stop offset=".108" stop-color="#8900ff"/><stop offset=".225" stop-color="#9f00ff"/><stop offset=".265" stop-color="#8100ff"/><stop offset=".314" stop-color="#3e00ff"/><stop offset=".353" stop-color="#4600ff"/><stop offset=".402" stop-color="#5100ff"/><stop offset=".48" stop-color="#1100ff"/><stop offset=".5" stop-color="#000cff"/><stop offset=".608" stop-color="#00f7ff"/><stop offset=".627" stop-color="#00ffcd"/><stop offset=".657" stop-color="#00ff6d"/><stop offset=".686" stop-color="#00ff48"/><stop offset=".735" stop-color="#00ff3e"/><stop offset=".814" stop-color="#00ff35"/><stop offset=".833" stop-color="#00ff28"/><stop offset=".853" stop-color="#0aff00"/><stop offset=".882" stop-color="#5dff00"/><stop offset=".922" stop-color="#b2ff00"/><stop offset=".99" stop-color="#d9ff00"/><stop offset="1" stop-color="#d9ff00"/></linearGradient>
<linearGradient id="F22" x2="0" y2="1"><stop offset="0" stop-color="#6100ff"/><stop offset=".039" stop-color="#7000ff"/><stop offset=".098" stop-color="#a000ff"/><stop offset=".255" stop-color="#9b00ff"/><stop offset=".343" stop-color="#4300ff"/><stop offset=".461" stop-color="#2700ff"/><stop offset=".49" stop-color="#0300ff"/><stop offset=".539" stop-color="#0069ff"/><stop offset=".598" stop-color="#00f7ff"/><stop offset=".627" stop-color="#00ffb1"/><stop offset=".657" stop-color="#00ff5e"/><stop offset=".696" stop-color="#00ff52"/><stop offset=".775" stop-color="#00ff2b"/><stop offset=".824" stop-color="#0aff00"/><stop offset=".843" stop-color="#32ff00"/><stop offset=".873" stop-color="#97ff00"/><stop offset=".931" stop-color="#deff00"/><stop offset="1" stop-color="#ddff00"/></linearGradient>
<linearGradient id="F23" x2="0" y2="1"><stop offset="0" stop-color="#6f00ff"/><stop offset=".029" stop-color="#7700ff"/><stop offset=".088" stop-color="#b000ff"/><stop offset=".196" stop-color="#a500ff"/><stop offset=".255" stop-color="#ab00ff"/><stop offset=".304" stop-color="#7a00ff"/><stop offset=".353" stop-color="#3600ff"/><stop offset=".451" stop-color="#3200ff"/><stop offset=".49" stop-color="#0005ff"/><stop offset=".588" stop-color="#00f0ff"/><stop offset=".598" stop-color="#00fff5"/><stop offset=".647" stop-color="#00ff60"/><stop offset=".667" stop-color="#00ff42"/><stop offset=".735" stop-color="#00ff2c"/><stop offset=".814" stop-color="#00ff01"/><stop offset=".843" stop-color="#3cff00"/><stop offset=".873" stop-color="#b2ff00"/><stop offset=".922" stop-color="#f0ff00"/><stop offset="1" stop-color="#eeff00"/></linearGradient>
<linearGradient id="F24" x2="0" y2="1"><stop offset="0" stop-color="#9b00ff"/><stop offset=".029" stop-color="#a200ff"/><stop offset=".078" stop-color="#c200ff"/><stop offset=".176" stop-color="#ba00ff"/><stop offset=".245" stop-color="#c200ff"/><stop offset=".284" stop-color="#9900ff"/><stop offset=".333" stop-color="#4500ff"/><stop offset=".363" stop-color="#3a00ff"/><stop offset=".412" stop-color="#4e00ff"/><stop offset=".461" stop-color="#1900ff"/><stop offset=".471" stop-color="#0500ff"/><stop offset=".598" stop-color="#00fffe"/><stop offset=".657" stop-color="#00ff4f"/><stop offset=".765" stop-color="#00ff18"/><stop offset=".804" stop-color="#00ff14"/><stop offset=".824" stop-color="#07ff00"/><stop offset=".843" stop-color="#39ff00"/><stop offset=".873" stop-color="#bdff00"/><stop offset=".902" stop-color="#e4ff00"/><stop offset="1" stop-color="#eaff00"/></linearGradient>
<linearGradient id="F25" x2="0" y2="1"><stop offset="0" stop-color="#b900ff"/><stop offset=".078" stop-color="#b600ff"/><stop offset=".147" stop-color="#a500ff"/><stop offset=".245" stop-color="#b100ff"/><stop offset=".284" stop-color="#8f00ff"/><stop offset=".333" stop-color="#4700ff"/><stop offset=".373" stop-color="#4100ff"/><stop offset=".402" stop-color="#4400ff"/><stop offset=".451" stop-color="#0005ff"/><stop offset=".529" stop-color="#0094ff"/><stop offset=".598" stop-color="#00f4ff"/><stop offset=".618" stop-color="#00ffd6"/><stop offset=".657" stop-color="#00ff61"/><stop offset=".735" stop-color="#00ff24"/><stop offset=".814" stop-color="#00ff0d"/><stop offset=".824" stop-color="#01ff00"/><stop offset=".843" stop-color="#2cff00"/><stop offset=".873" stop-color="#99ff00"/><stop offset=".922" stop-color="#c7ff00"/><stop offset="1" stop-color="#dcff00"/></linearGradient>
<linearGradient id="F26" x2="0" y2="1"><stop offset="0" stop-color="#a200ff"/><stop offset=".186" stop-color="#8000ff"/><stop offset=".275" stop-color="#7c00ff"/><stop offset=".363" stop-color="#3a00ff"/><stop offset=".402" stop-color="#3300ff"/><stop offset=".441" stop-color="#0002ff"/><stop offset=".52" stop-color="#0095ff"/><stop offset=".598" stop-color="#00fcff"/><stop offset=".637" stop-color="#00ff91"/><stop offset=".667" stop-color="#00ff44"/><stop offset=".765" stop-color="#00ff0d"/><stop offset=".814" stop-color="#02ff00"/><stop offset=".843" stop-color="#2dff00"/><stop offset=".873" stop-color="#7bff00"/><stop offset=".951" stop-color="#ceff00"/><stop offset="1" stop-color="#e2ff00"/></linearGradient>
<linearGradient id="F27" x2="0" y2="1"><stop offset="0" stop-color="#a600ff"/><stop offset=".216" stop-color="#6c00ff"/><stop offset=".275" stop-color="#7200ff"/><stop offset=".353" stop-color="#2700ff"/><stop offset=".422" stop-color="#1600ff"/><stop offset=".441" stop-color="#0001ff"/><stop offset=".51" stop-color="#007dff"/><stop offset=".588" stop-color="#00e0ff"/><stop offset=".598" stop-color="#00f5ff"/><stop offset=".618" stop-color="#00ffcd"/><stop offset=".657" stop-color="#00ff3e"/><stop offset=".676" stop-color="#00ff1b"/><stop offset=".824" stop-color="#09ff00"/><stop offset=".853" stop-color="#27ff00"/><stop offset=".912" stop-color="#73ff00"/><stop offset=".941" stop-color="#b5ff00"/><stop offset=".98" stop-color="#d9ff00"/><stop offset="1" stop-color="#d9ff00"/></linearGradient>
<linearGradient id="F28" x2="0" y2="1"><stop offset="0" stop-color="#af00ff"/><stop offset=".157" stop-color="#9700ff"/><stop offset=".216" stop-color="#8000ff"/><stop offset=".265" stop-color="#8700ff"/><stop offset=".363" stop-color="#0100ff"/><stop offset=".441" stop-color="#001fff"/><stop offset=".51" stop-color="#0075ff"/><stop offset=".549" stop-color="#0096ff"/><stop offset=".598" stop-color="#00f8ff"/><stop offset=".627" stop-color="#00ffa0"/><stop offset=".667" stop-color="#00ff1c"/><stop offset=".696" stop-color="#00ff04"/><stop offset=".843" stop-color="#03ff00"/><stop offset=".902" stop-color="#38ff00"/><stop offset=".941" stop-color="#a1ff00"/><stop offset=".99" stop-color="#c1ff00"/><stop offset="1" stop-color="#c1ff00"/></linearGradient>
<linearGradient id="F29" x2="0" y2="1"><stop offset="0" stop-color="#a500ff"/><stop offset=".127" stop-color="#a600ff"/><stop offset=".196" stop-color="#7500ff"/><stop offset=".275" stop-color="#9200ff"/><stop offset=".343" stop-color="#2f00ff"/><stop offset=".363" stop-color="#0000ff"/><stop offset=".402" stop-color="#0029ff"/><stop offset=".48" stop-color="#005cff"/><stop offset=".539" stop-color="#0088ff"/><stop offset=".598" stop-color="#00fffb"/><stop offset=".667" stop-color="#00ff33"/><stop offset=".716" stop-color="#00ff00"/><stop offset=".833" stop-color="#08ff00"/><stop offset=".902" stop-color="#36ff00"/><stop offset=".941" stop-color="#99ff00"/><stop offset=".99" stop-color="#baff00"/><stop offset="1" stop-color="#baff00"/></linearGradient>
<linearGradient id="F30" x2="0" y2="1"><stop offset="0" stop-color="#8a00ff"/><stop offset=".069" stop-color="#9100ff"/><stop offset=".118" stop-color="#9700ff"/><stop offset=".186" stop-color="#6600ff"/><stop offset=".275" stop-color="#9100ff"/><stop offset=".324" stop-color="#6c00ff"/><stop offset=".353" stop-color="#2c00ff"/><stop offset=".373" stop-color="#0007ff"/><stop offset=".412" stop-color="#003fff"/><stop offset=".529" stop-color="#0084ff"/><stop offset=".598" stop-color="#00f6ff"/><stop offset=".627" stop-color="#00ffba"/><stop offset=".667" stop-color="#00ff4e"/><stop offset=".725" stop-color="#00ff01"/><stop offset=".794" stop-color="#0eff00"/><stop offset=".912" stop-color="#56ff00"/><stop offset=".941" stop-color="#8dff00"/><stop offset=".99" stop-color="#a9ff00"/><stop offset="1" stop-color="#a9ff00"/></linearGradient>
<linearGradient id="F31" x2="0" y2="1"><stop offset="0" stop-color="#6f00ff"/><stop offset=".059" stop-color="#7200ff"/><stop offset=".118" stop-color="#8e00ff"/><stop offset=".186" stop-color="#7f00ff"/><stop offset=".255" stop-color="#8800ff"/><stop offset=".333" stop-color="#4b00ff"/><stop offset=".363" stop-color="#0700ff"/><stop offset=".412" stop-color="#0056ff"/><stop offset=".5" stop-color="#0080ff"/><stop offset=".598" stop-color="#00f8ff"/><stop offset=".618" stop-color="#00ffd6"/><stop offset=".667" stop-color="#00ff4a"/><stop offset=".735" stop-color="#01ff00"/><stop offset=".804" stop-color="#19ff00"/><stop offset=".912" stop-color="#56ff00"/><stop offset=".941" stop-color="#81ff00"/><stop offset="1" stop-color="#91ff00"/></linearGradient>
<linearGradient id="F32" x2="0" y2="1"><stop offset="0" stop-color="#7a00ff"/><stop offset=".069" stop-color="#7200ff"/><stop offset=".157" stop-color="#a000ff"/><stop offset=".225" stop-color="#ad00ff"/><stop offset=".343" stop-color="#2a00ff"/><stop offset=".363" stop-color="#0200ff"/><stop offset=".412" stop-color="#0053ff"/><stop offset=".48" stop-color="#0068ff"/><stop offset=".588" stop-color="#00f9ff"/><stop offset=".608" stop-color="#00ffdf"/><stop offset=".667" stop-color="#00ff2f"/><stop offset=".696" stop-color="#00ff11"/><stop offset=".824" stop-color="#06ff00"/><stop offset=".922" stop-color="#5eff00"/><stop offset=".961" stop-color="#77ff00"/><stop offset="1" stop-color="#7dff00"/></linearGradient>
<linearGradient id="F33" x2="0" y2="1"><stop offset="0" stop-color="#8300ff"/><stop offset=".078" stop-color="#7900ff"/><stop offset=".216" stop-color="#ba00ff"/><stop offset=".255" stop-color="#9400ff"/><stop offset=".314" stop-color="#4500ff"/><stop offset=".373" stop-color="#0003ff"/><stop offset=".422" stop-color="#0036ff"/><stop offset=".471" stop-color="#003fff"/><stop offset=".598" stop-color="#00faff"/><stop offset=".618" stop-color="#00ffcd"/><stop offset=".667" stop-color="#00ff2a"/><stop offset=".696" stop-color="#00ff0c"/><stop offset=".775" stop-color="#00ff29"/><stop offset=".843" stop-color="#08ff00"/><stop offset=".941" stop-color="#72ff00"/><stop offset="1" stop-color="#81ff00"/></linearGradient>
<linearGradient id="F34" x2="0" y2="1"><stop offset="0" stop-color="#7d00ff"/><stop offset=".167" stop-color="#7000ff"/><stop offset=".225" stop-color="#8c00ff"/><stop offset=".314" stop-color="#4d00ff"/><stop offset=".402" stop-color="#0005ff"/><stop offset=".48" stop-color="#0050ff"/><stop offset=".539" stop-color="#00a8ff"/><stop offset=".598" stop-color="#00e2ff"/><stop offset=".608" stop-color="#00f8ff"/><stop offset=".637" stop-color="#00ffa6"/><stop offset=".667" stop-color="#00ff4e"/><stop offset=".696" stop-color="#00ff2c"/><stop offset=".784" stop-color="#00ff30"/><stop offset=".853" stop-color="#09ff00"/><stop offset=".951" stop-color="#58ff00"/><stop offset="1" stop-color="#5eff00"/></linearGradient>
<linearGradient id="F35" x2="0" y2="1"><stop offset="0" stop-color="#8900ff"/><stop offset=".078" stop-color="#7900ff"/><stop offset=".157" stop-color="#3700ff"/><stop offset=".206" stop-color="#5100ff"/><stop offset=".255" stop-color="#6300ff"/><stop offset=".333" stop-color="#6300ff"/><stop offset=".392" stop-color="#1c00ff"/><stop offset=".402" stop-color="#0600ff"/><stop offset=".51" stop-color="#009eff"/><stop offset=".598" stop-color="#00deff"/><stop offset=".618" stop-color="#00fffb"/><stop offset=".667" stop-color="#00ff82"/><stop offset=".725" stop-color="#00ff3c"/><stop offset=".814" stop-color="#00ff0e"/><stop offset=".853" stop-color="#0fff00"/><stop offset="1" stop-color="#0bff00"/></linearGradient>
<linearGradient id="F36" x2="0" y2="1"><stop offset="0" stop-color="#a000ff"/><stop offset=".069" stop-color="#9800ff"/><stop offset=".157" stop-color="#4500ff"/><stop offset=".206" stop-color="#5000ff"/><stop offset=".265" stop-color="#6200ff"/><stop offset=".333" stop-color="#5a00ff"/><stop offset=".392" stop-color="#1500ff"/><stop offset=".402" stop-color="#0001ff"/><stop offset=".451" stop-color="#005bff"/><stop offset=".608" stop-color="#00e9ff"/><stop offset=".627" stop-color="#00ffef"/><stop offset=".696" stop-color="#00ff5d"/><stop offset=".735" stop-color="#00ff2c"/><stop offset=".804" stop-color="#05ff00"/><stop offset=".853" stop-color="#28ff00"/><stop offset=".941" stop-color="#00ff02"/><stop offset="1" stop-color="#00ff04"/></linearGradient>
<linearGradient id="F37" x2="0" y2="1"><stop offset="0" stop-color="#ac00ff"/><stop offset=".098" stop-color="#ac00ff"/><stop offset=".196" stop-color="#6700ff"/><stop offset=".255" stop-color="#6b00ff"/><stop offset=".343" stop-color="#3500ff"/><stop offset=".392" stop-color="#0500ff"/><stop offset=".461" stop-color="#005bff"/><stop offset=".539" stop-color="#0096ff"/><stop offset=".618" stop-color="#00ffff"/><stop offset=".716" stop-color="#00ff23"/><stop offset=".755" stop-color="#00ff0a"/><stop offset=".794" stop-color="#09ff00"/><stop offset=".843" stop-color="#28ff00"/><stop offset=".922" stop-color="#14ff00"/><stop offset="1" stop-color="#12ff00"/></linearGradient>
<linearGradient id="F38" x2="0" y2="1"><stop offset="0" stop-color="#a100ff"/><stop offset=".137" stop-color="#a100ff"/><stop offset=".196" stop-color="#6b00ff"/><stop offset=".265" stop-color="#6600ff"/><stop offset=".333" stop-color="#3c00ff"/><stop offset=".382" stop-color="#0100ff"/><stop offset=".451" stop-color="#004dff"/><stop offset=".529" stop-color="#0087ff"/><stop offset=".618" stop-color="#00fbff"/><stop offset=".725" stop-color="#00ff1e"/><stop offset=".794" stop-color="#03ff00"/><stop offset=".843" stop-color="#1aff00"/><stop offset=".902" stop-color="#05ff00"/><stop offset="1" stop-color="#0cff00"/></linearGradient>
<linearGradient id="F39" x2="0" y2="1"><stop offset="0" stop-color="#8200ff"/><stop offset=".157" stop-color="#7600ff"/><stop offset=".216" stop-color="#5700ff"/><stop offset=".294" stop-color="#5a00ff"/><stop offset=".333" stop-color="#4100ff"/><stop offset=".373" stop-color="#0500ff"/><stop offset=".412" stop-color="#002bff"/><stop offset=".48" stop-color="#0067ff"/><stop offset=".598" stop-color="#00d3ff"/><stop offset=".627" stop-color="#00fff8"/><stop offset=".735" stop-color="#00ff3c"/><stop offset=".833" stop-color="#01ff00"/><stop offset=".902" stop-color="#00ff1b"/><stop offset=".961" stop-color="#0aff00"/><stop offset="1" stop-color="#11ff00"/></linearGradient>
<linearGradient id="F40" x2="0" y2="1"><stop offset="0" stop-color="#5f00ff"/><stop offset=".118" stop-color="#5d00ff"/><stop offset=".167" stop-color="#6700ff"/><stop offset=".225" stop-color="#5500ff"/><stop offset=".294" stop-color="#5c00ff"/><stop offset=".333" stop-color="#4300ff"/><stop offset=".373" stop-color="#0300ff"/><stop offset=".471" stop-color="#0073ff"/><stop offset=".559" stop-color="#00b6ff"/><stop offset=".618" stop-color="#00fff9"/><stop offset=".716" stop-color="#00ff71"/><stop offset=".794" stop-color="#00ff17"/><stop offset=".843" stop-color="#00ff05"/><stop offset=".912" stop-color="#00ff17"/><stop offset=".961" stop-color="#0dff00"/><stop offset="1" stop-color="#14ff00"/></linearGradient>
<linearGradient id="F41" x2="0" y2="1"><stop offset="0" stop-color="#5800ff"/><stop offset=".078" stop-color="#4300ff"/><stop offset=".137" stop-color="#4300ff"/><stop offset=".275" stop-color="#5b00ff"/><stop offset=".333" stop-color="#3a00ff"/><stop offset=".363" stop-color="#0300ff"/><stop offset=".471" stop-color="#0086ff"/><stop offset=".549" stop-color="#00b2ff"/><stop offset=".608" stop-color="#00fffb"/><stop offset=".696" stop-color="#00ff85"/><stop offset=".735" stop-color="#00ff4b"/><stop offset=".824" stop-color="#03ff00"/><stop offset=".902" stop-color="#03ff00"/><stop offset="1" stop-color="#00ff08"/></linearGradient>
<linearGradient id="F42" x2="0" y2="1"><stop offset="0" stop-color="#5e00ff"/><stop offset=".059" stop-color="#5300ff"/><stop offset=".127" stop-color="#1a00ff"/><stop offset=".186" stop-color="#3100ff"/><stop offset=".245" stop-color="#4700ff"/><stop offset=".333" stop-color="#1300ff"/><stop offset=".343" stop-color="#0100ff"/><stop offset=".373" stop-color="#0032ff"/><stop offset=".48" stop-color="#0096ff"/><stop offset=".559" stop-color="#00b3ff"/><stop offset=".627" stop-color="#00fdff"/><stop offset=".686" stop-color="#00ff93"/><stop offset=".725" stop-color="#00ff50"/><stop offset=".804" stop-color="#00ff24"/><stop offset=".853" stop-color="#08ff00"/><stop offset=".902" stop-color="#11ff00"/><stop offset=".941" stop-color="#00ff09"/><stop offset="1" stop-color="#00ff1e"/></linearGradient>
<linearGradient id="F43" x2="0" y2="1"><stop offset="0" stop-color="#6000ff"/><stop offset=".069" stop-color="#5000ff"/><stop offset=".137" stop-color="#2300ff"/><stop offset=".225" stop-color="#3500ff"/><stop offset=".324" stop-color="#0008ff"/><stop offset=".373" stop-color="#005fff"/><stop offset=".441" stop-color="#007dff"/><stop offset=".549" stop-color="#00b1ff"/><stop offset=".618" stop-color="#00feff"/><stop offset=".725" stop-color="#00ff51"/><stop offset=".804" stop-color="#00ff3c"/><stop offset=".873" stop-color="#01ff00"/><stop offset=".931" stop-color="#00ff1b"/><stop offset=".99" stop-color="#00ff2b"/><stop offset="1" stop-color="#00ff2b"/></linearGradient>
<linearGradient id="F44" x2="0" y2="1"><stop offset="0" stop-color="#4500ff"/><stop offset=".167" stop-color="#4c00ff"/><stop offset=".235" stop-color="#3f00ff"/><stop offset=".314" stop-color="#0006ff"/><stop offset=".373" stop-color="#006cff"/><stop offset=".5" stop-color="#00a1ff"/><stop offset=".569" stop-color="#00d8ff"/><stop offset=".598" stop-color="#00fffa"/><stop offset=".667" stop-color="#00ff7c"/><stop offset=".725" stop-color="#00ff3f"/><stop offset=".804" stop-color="#00ff32"/><stop offset=".863" stop-color="#00ff0f"/><stop offset=".961" stop-color="#00ff44"/><stop offset="1" stop-color="#00ff3c"/></linearGradient>
<linearGradient id="F45" x2="0" y2="1"><stop offset="0" stop-color="#2c00ff"/><stop offset=".088" stop-color="#3e00ff"/><stop offset=".206" stop-color="#4200ff"/><stop offset=".294" stop-color="#1700ff"/><stop offset=".314" stop-color="#0006ff"/><stop offset=".363" stop-color="#005bff"/><stop offset=".5" stop-color="#0097ff"/><stop offset=".578" stop-color="#00e9ff"/><stop offset=".598" stop-color="#00fff5"/><stop offset=".657" stop-color="#00ff75"/><stop offset=".716" stop-color="#00ff40"/><stop offset=".814" stop-color="#00ff17"/><stop offset=".863" stop-color="#00ff0c"/><stop offset=".951" stop-color="#00ff46"/><stop offset="1" stop-color="#00ff3b"/></linearGradient>
<linearGradient id="F46" x2="0" y2="1"><stop offset="0" stop-color="#3a00ff"/><stop offset=".118" stop-color="#5500ff"/><stop offset=".216" stop-color="#2400ff"/><stop offset=".284" stop-color="#1a00ff"/><stop offset=".304" stop-color="#0300ff"/><stop offset=".363" stop-color="#005cff"/><stop offset=".461" stop-color="#0066ff"/><stop offset=".529" stop-color="#00aeff"/><stop offset=".588" stop-color="#00fdff"/><stop offset=".676" stop-color="#00ff7c"/><stop offset=".745" stop-color="#00ff50"/><stop offset=".853" stop-color="#00ff16"/><stop offset=".951" stop-color="#00ff35"/><stop offset="1" stop-color="#00ff29"/></linearGradient>
<linearGradient id="F47" x2="0" y2="1"><stop offset="0" stop-color="#2f00ff"/><stop offset=".049" stop-color="#4300ff"/><stop offset=".118" stop-color="#5000ff"/><stop offset=".196" stop-color="#1300ff"/><stop offset=".275" stop-color="#1d00ff"/><stop offset=".304" stop-color="#0005ff"/><stop offset=".353" stop-color="#0062ff"/><stop offset=".392" stop-color="#006fff"/><stop offset=".451" stop-color="#0067ff"/><stop offset=".559" stop-color="#00d6ff"/><stop offset=".588" stop-color="#00feff"/><stop offset=".657" stop-color="#00ffa7"/><stop offset=".745" stop-color="#00ff6c"/><stop offset=".804" stop-color="#00ff4e"/><stop offset=".853" stop-color="#00ff31"/><stop offset=".941" stop-color="#00ff24"/><stop offset="1" stop-color="#00ff15"/></linearGradient>
<linearGradient id="F48" x2="0" y2="1"><stop offset="0" stop-color="#1400ff"/><stop offset=".088" stop-color="#1600ff"/><stop offset=".176" stop-color="#0200ff"/><stop offset=".255" stop-color="#2200ff"/><stop offset=".304" stop-color="#000aff"/><stop offset=".343" stop-color="#005cff"/><stop offset=".382" stop-color="#0076ff"/><stop offset=".451" stop-color="#007aff"/><stop offset=".559" stop-color="#00c1ff"/><stop offset=".598" stop-color="#00fffb"/><stop offset=".637" stop-color="#00ffba"/><stop offset=".735" stop-color="#00ff61"/><stop offset=".843" stop-color="#00ff34"/><stop offset=".912" stop-color="#00ff31"/><stop offset=".971" stop-color="#00ff19"/><stop offset="1" stop-color="#00ff1a"/></linearGradient>
<linearGradient id="F49" x2="0" y2="1"><stop offset="0" stop-color="#1500ff"/><stop offset=".069" stop-color="#0500ff"/><stop offset=".147" stop-color="#0012ff"/><stop offset=".186" stop-color="#0900ff"/><stop offset=".235" stop-color="#1d00ff"/><stop offset=".294" stop-color="#0900ff"/><stop offset=".314" stop-color="#001bff"/><stop offset=".343" stop-color="#0046ff"/><stop offset=".461" stop-color="#0092ff"/><stop offset=".559" stop-color="#00c0ff"/><stop offset=".598" stop-color="#00f9ff"/><stop offset=".667" stop-color="#00ffab"/><stop offset=".725" stop-color="#00ff65"/><stop offset=".804" stop-color="#00ff4e"/><stop offset=".873" stop-color="#00ff3b"/><stop offset=".961" stop-color="#00ff0e"/><stop offset="1" stop-color="#00ff12"/></linearGradient>
<linearGradient id="F50" x2="0" y2="1"><stop offset="0" stop-color="#1400ff"/><stop offset=".078" stop-color="#0c00ff"/><stop offset=".157" stop-color="#0000ff"/><stop offset=".216" stop-color="#0c00ff"/><stop offset=".294" stop-color="#0012ff"/><stop offset=".333" stop-color="#0041ff"/><stop offset=".382" stop-color="#0044ff"/><stop offset=".48" stop-color="#0099ff"/><stop offset=".569" stop-color="#00c1ff"/><stop offset=".618" stop-color="#00fff6"/><stop offset=".725" stop-color="#00ff75"/><stop offset=".794" stop-color="#00ff74"/><stop offset=".922" stop-color="#00ff09"/><stop offset="1" stop-color="#00ff07"/></linearGradient>
<linearGradient id="F51" x2="0" y2="1"><stop offset="0" stop-color="#0b00ff"/><stop offset=".088" stop-color="#1e00ff"/><stop offset=".206" stop-color="#1100ff"/><stop offset=".235" stop-color="#0008ff"/><stop offset=".314" stop-color="#0049ff"/><stop offset=".343" stop-color="#0058ff"/><stop offset=".382" stop-color="#004eff"/><stop offset=".461" stop-color="#0088ff"/><stop offset=".549" stop-color="#009aff"/><stop offset=".608" stop-color="#00d9ff"/><stop offset=".627" stop-color="#00fbff"/><stop offset=".716" stop-color="#00ff6f"/><stop offset=".755" stop-color="#00ff63"/><stop offset=".824" stop-color="#00ff47"/><stop offset=".882" stop-color="#00ff00"/><stop offset=".922" stop-color="#16ff00"/><stop offset=".98" stop-color="#00ff0b"/><stop offset="1" stop-color="#00ff0b"/></linearGradient>
<linearGradient id="F52" x2="0" y2="1"><stop offset="0" stop-color="#1000ff"/><stop offset=".127" stop-color="#2500ff"/><stop offset=".225" stop-color="#0f00ff"/><stop offset=".255" stop-color="#0011ff"/><stop offset=".333" stop-color="#006eff"/><stop offset=".402" stop-color="#0065ff"/><stop offset=".471" stop-color="#008fff"/><stop offset=".539" stop-color="#00a7ff"/><stop offset=".618" stop-color="#00eeff"/><stop offset=".637" stop-color="#00fff1"/><stop offset=".716" stop-color="#00ff5d"/><stop offset=".882" stop-color="#03ff00"/><stop offset=".931" stop-color="#0fff00"/><stop offset=".99" stop-color="#00ff0f"/><stop offset="1" stop-color="#00ff0f"/></linearGradient>
<linearGradient id="F53" x2="0" y2="1"><stop offset="0" stop-color="#1a00ff"/><stop offset=".127" stop-color="#1c00ff"/><stop offset=".176" stop-color="#1000ff"/><stop offset=".235" stop-color="#1f00ff"/><stop offset=".265" stop-color="#000bff"/><stop offset=".333" stop-color="#0075ff"/><stop offset=".422" stop-color="#0075ff"/><stop offset=".51" stop-color="#00b1ff"/><stop offset=".578" stop-color="#00f7ff"/><stop offset=".618" stop-color="#00ffec"/><stop offset=".706" stop-color="#00ff69"/><stop offset=".775" stop-color="#00ff4a"/><stop offset=".833" stop-color="#00ff07"/><stop offset=".931" stop-color="#00ff09"/><stop offset="1" stop-color="#00ff0d"/></linearGradient>
<linearGradient id="F54" x2="0" y2="1"><stop offset="0" stop-color="#1700ff"/><stop offset=".059" stop-color="#1a00ff"/><stop offset=".108" stop-color="#3100ff"/><stop offset=".176" stop-color="#0f00ff"/><stop offset=".235" stop-color="#2900ff"/><stop offset=".265" stop-color="#0500ff"/><stop offset=".333" stop-color="#0062ff"/><stop offset=".441" stop-color="#0087ff"/><stop offset=".52" stop-color="#00bfff"/><stop offset=".588" stop-color="#00f6ff"/><stop offset=".618" stop-color="#00ffef"/><stop offset=".696" stop-color="#00ff78"/><stop offset=".735" stop-color="#00ff7e"/><stop offset=".765" stop-color="#00ff85"/><stop offset=".804" stop-color="#00ff49"/><stop offset=".843" stop-color="#00ff0b"/><stop offset=".951" stop-color="#04ff00"/><stop offset="1" stop-color="#03ff00"/></linearGradient>
<linearGradient id="F55" x2="0" y2="1"><stop offset="0" stop-color="#2100ff"/><stop offset=".069" stop-color="#2e00ff"/><stop offset=".118" stop-color="#2e00ff"/><stop offset=".186" stop-color="#0c00ff"/><stop offset=".245" stop-color="#1d00ff"/><stop offset=".275" stop-color="#0009ff"/><stop offset=".333" stop-color="#0044ff"/><stop offset=".392" stop-color="#0060ff"/><stop offset=".451" stop-color="#0097ff"/><stop offset=".588" stop-color="#00b7ff"/><stop offset=".637" stop-color="#00fff8"/><stop offset=".686" stop-color="#00ff8f"/><stop offset=".725" stop-color="#00ff71"/><stop offset=".775" stop-color="#00ff78"/><stop offset=".853" stop-color="#00ff1c"/><stop offset=".912" stop-color="#05ff00"/><stop offset=".961" stop-color="#18ff00"/><stop offset="1" stop-color="#11ff00"/></linearGradient>
<linearGradient id="F56" x2="0" y2="1"><stop offset="0" stop-color="#3a00ff"/><stop offset=".137" stop-color="#2700ff"/><stop offset=".225" stop-color="#0a00ff"/><stop offset=".255" stop-color="#0003ff"/><stop offset=".294" stop-color="#002fff"/><stop offset=".451" stop-color="#009aff"/><stop offset=".569" stop-color="#0082ff"/><stop offset=".598" stop-color="#009dff"/><stop offset=".637" stop-color="#00f8ff"/><stop offset=".706" stop-color="#00ff6f"/><stop offset=".735" stop-color="#00ff50"/><stop offset=".892" stop-color="#00ff18"/><stop offset=".951" stop-color="#00ff01"/><stop offset="1" stop-color="#00ff0b"/></linearGradient>
<linearGradient id="F57" x2="0" y2="1"><stop offset="0" stop-color="#3100ff"/><stop offset=".069" stop-color="#3500ff"/><stop offset=".137" stop-color="#4e00ff"/><stop offset=".245" stop-color="#1600ff"/><stop offset=".255" stop-color="#0500ff"/><stop offset=".294" stop-color="#003bff"/><stop offset=".392" stop-color="#008bff"/><stop offset=".471" stop-color="#009dff"/><stop offset=".549" stop-color="#0074ff"/><stop offset=".588" stop-color="#0083ff"/><stop offset=".618" stop-color="#00baff"/><stop offset=".637" stop-color="#00f1ff"/><stop offset=".657" stop-color="#00ffd4"/><stop offset=".706" stop-color="#00ff65"/><stop offset=".735" stop-color="#00ff44"/><stop offset=".931" stop-color="#00ff13"/><stop offset="1" stop-color="#00ff2d"/></linearGradient>
<linearGradient id="F58" x2="0" y2="1"><stop offset="0" stop-color="#2100ff"/><stop offset=".059" stop-color="#2500ff"/><stop offset=".127" stop-color="#5800ff"/><stop offset=".186" stop-color="#4b00ff"/><stop offset=".245" stop-color="#2000ff"/><stop offset=".265" stop-color="#000dff"/><stop offset=".294" stop-color="#0042ff"/><stop offset=".373" stop-color="#008fff"/><stop offset=".48" stop-color="#009bff"/><stop offset=".549" stop-color="#007aff"/><stop offset=".588" stop-color="#0084ff"/><stop offset=".618" stop-color="#00b9ff"/><stop offset=".637" stop-color="#00f2ff"/><stop offset=".657" stop-color="#00ffd0"/><stop offset=".696" stop-color="#00ff74"/><stop offset=".735" stop-color="#00ff47"/><stop offset=".892" stop-color="#00ff1c"/><stop offset=".941" stop-color="#00ff15"/><stop offset=".99" stop-color="#00ff2e"/><stop offset="1" stop-color="#00ff2e"/></linearGradient>
<linearGradient id="F59" x2="0" y2="1"><stop offset="0" stop-color="#2100ff"/><stop offset=".059" stop-color="#2500ff"/><stop offset=".127" stop-color="#5800ff"/><stop offset=".186" stop-color="#4b00ff"/><stop offset=".245" stop-color="#2000ff"/><stop offset=".265" stop-color="#000dff"/><stop offset=".294" stop-color="#0042ff"/><stop offset=".373" stop-color="#008fff"/><stop offset=".48" stop-color="#009bff"/><stop offset=".549" stop-color="#007aff"/><stop offset=".588" stop-color="#0084ff"/><stop offset=".618" stop-color="#00b9ff"/><stop offset=".637" stop-color="#00f2ff"/><stop offset=".657" stop-color="#00ffd0"/><stop offset=".696" stop-color="#00ff74"/><stop offset=".735" stop-color="#00ff47"/><stop offset=".892" stop-color="#00ff1c"/><stop offset=".941" stop-color="#00ff15"/><stop offset=".99" stop-color="#00ff2e"/><stop offset="1" stop-color="#00ff2e"/></linearGradient>
<linearGradient id="F60" x2="0" y2="1"><stop offset="0" stop-color="#2100ff"/><stop offset=".059" stop-color="#2500ff"/><stop offset=".127" stop-color="#5800ff"/><stop offset=".186" stop-color="#4b00ff"/><stop offset=".245" stop-color="#2000ff"/><stop offset=".265" stop-color="#000dff"/><stop offset=".294" stop-color="#0042ff"/><stop offset=".373" stop-color="#008fff"/><stop offset=".48" stop-color="#009bff"/><stop offset=".549" stop-color="#007aff"/><stop offset=".588" stop-color="#0084ff"/><stop offset=".618" stop-color="#00b9ff"/><stop offset=".637" stop-color="#00f2ff"/><stop offset=".657" stop-color="#00ffd0"/><stop offset=".696" stop-color="#00ff74"/><stop offset=".735" stop-color="#00ff47"/><stop offset=".892" stop-color="#00ff1c"/><stop offset=".941" stop-color="#00ff15"/><stop offset=".99" stop-color="#00ff2e"/><stop offset="1" stop-color="#00ff2e"/></linearGradient>
<filter id="sb" x="-50%" y="-50%" width="200%" height="200%"><feGaussianBlur stdDeviation="1.1"/></filter>
<clipPath id="clipG"><rect x="305" y="272" width="225" height="98"/></clipPath>
<linearGradient id="G0" x2="0" y2="1"><stop offset="0" stop-color="#4300ff"/><stop offset=".049" stop-color="#4200ff"/><stop offset=".118" stop-color="#0006ff"/><stop offset=".167" stop-color="#0005ff"/><stop offset=".255" stop-color="#1e00ff"/><stop offset=".275" stop-color="#0300ff"/><stop offset=".314" stop-color="#0050ff"/><stop offset=".431" stop-color="#006dff"/><stop offset=".549" stop-color="#0065ff"/><stop offset=".608" stop-color="#003dff"/><stop offset=".686" stop-color="#004cff"/><stop offset=".716" stop-color="#008fff"/><stop offset=".725" stop-color="#00bcff"/><stop offset=".735" stop-color="#00fffc"/><stop offset=".765" stop-color="#04ff00"/><stop offset=".784" stop-color="#bcff00"/><stop offset=".794" stop-color="#ffec00"/><stop offset=".804" stop-color="#ffb000"/><stop offset=".824" stop-color="#ff6b00"/><stop offset=".853" stop-color="#ff5b00"/><stop offset=".931" stop-color="#ff7200"/><stop offset=".98" stop-color="#ffbd00"/><stop offset="1" stop-color="#ffbd00"/></linearGradient>
<linearGradient id="G1" x2="0" y2="1"><stop offset="0" stop-color="#4300ff"/><stop offset=".049" stop-color="#4200ff"/><stop offset=".118" stop-color="#0006ff"/><stop offset=".167" stop-color="#0005ff"/><stop offset=".255" stop-color="#1e00ff"/><stop offset=".275" stop-color="#0300ff"/><stop offset=".314" stop-color="#0050ff"/><stop offset=".431" stop-color="#006dff"/><stop offset=".549" stop-color="#0065ff"/><stop offset=".608" stop-color="#003dff"/><stop offset=".686" stop-color="#004cff"/><stop offset=".716" stop-color="#008fff"/><stop offset=".725" stop-color="#00bcff"/><stop offset=".735" stop-color="#00fffc"/><stop offset=".765" stop-color="#04ff00"/><stop offset=".784" stop-color="#bcff00"/><stop offset=".794" stop-color="#ffec00"/><stop offset=".804" stop-color="#ffb000"/><stop offset=".824" stop-color="#ff6b00"/><stop offset=".853" stop-color="#ff5b00"/><stop offset=".931" stop-color="#ff7200"/><stop offset=".98" stop-color="#ffbd00"/><stop offset="1" stop-color="#ffbd00"/></linearGradient>
<linearGradient id="G2" x2="0" y2="1"><stop offset="0" stop-color="#4400ff"/><stop offset=".059" stop-color="#3800ff"/><stop offset=".118" stop-color="#0001ff"/><stop offset=".186" stop-color="#0a00ff"/><stop offset=".245" stop-color="#2b00ff"/><stop offset=".275" stop-color="#1200ff"/><stop offset=".284" stop-color="#0001ff"/><stop offset=".324" stop-color="#0037ff"/><stop offset=".412" stop-color="#0057ff"/><stop offset=".5" stop-color="#0057ff"/><stop offset=".549" stop-color="#0055ff"/><stop offset=".608" stop-color="#002aff"/><stop offset=".667" stop-color="#0042ff"/><stop offset=".686" stop-color="#0043ff"/><stop offset=".706" stop-color="#0068ff"/><stop offset=".716" stop-color="#0089ff"/><stop offset=".735" stop-color="#00fff3"/><stop offset=".755" stop-color="#00ff3b"/><stop offset=".765" stop-color="#1eff00"/><stop offset=".784" stop-color="#cfff00"/><stop offset=".794" stop-color="#ffe100"/><stop offset=".804" stop-color="#ffa900"/><stop offset=".824" stop-color="#ff6c00"/><stop offset=".853" stop-color="#ff5e00"/><stop offset=".931" stop-color="#ff8100"/><stop offset=".98" stop-color="#ffc700"/><stop offset="1" stop-color="#ffc700"/></linearGradient>
<linearGradient id="G3" x2="0" y2="1"><stop offset="0" stop-color="#3800ff"/><stop offset=".186" stop-color="#1b00ff"/><stop offset=".245" stop-color="#2700ff"/><stop offset=".314" stop-color="#0600ff"/><stop offset=".363" stop-color="#000bff"/><stop offset=".412" stop-color="#0023ff"/><stop offset=".48" stop-color="#0023ff"/><stop offset=".539" stop-color="#002aff"/><stop offset=".608" stop-color="#0300ff"/><stop offset=".627" stop-color="#0012ff"/><stop offset=".657" stop-color="#002fff"/><stop offset=".686" stop-color="#002cff"/><stop offset=".696" stop-color="#0038ff"/><stop offset=".716" stop-color="#0085ff"/><stop offset=".725" stop-color="#00caff"/><stop offset=".735" stop-color="#00ffce"/><stop offset=".745" stop-color="#00ff5c"/><stop offset=".755" stop-color="#0dff00"/><stop offset=".775" stop-color="#c0ff00"/><stop offset=".784" stop-color="#fff800"/><stop offset=".794" stop-color="#ffbf00"/><stop offset=".814" stop-color="#ff8200"/><stop offset=".843" stop-color="#ff6700"/><stop offset=".922" stop-color="#ff9100"/><stop offset=".98" stop-color="#ffd000"/><stop offset="1" stop-color="#ffd000"/></linearGradient>
<linearGradient id="G4" x2="0" y2="1"><stop offset="0" stop-color="#2f00ff"/><stop offset=".137" stop-color="#3800ff"/><stop offset=".216" stop-color="#1d00ff"/><stop offset=".304" stop-color="#2000ff"/><stop offset=".353" stop-color="#2100ff"/><stop offset=".412" stop-color="#0300ff"/><stop offset=".539" stop-color="#0007ff"/><stop offset=".618" stop-color="#1500ff"/><stop offset=".647" stop-color="#000cff"/><stop offset=".686" stop-color="#001cff"/><stop offset=".696" stop-color="#0035ff"/><stop offset=".706" stop-color="#0063ff"/><stop offset=".716" stop-color="#00a3ff"/><stop offset=".725" stop-color="#00fbff"/><stop offset=".745" stop-color="#00ff1a"/><stop offset=".755" stop-color="#50ff00"/><stop offset=".775" stop-color="#fffd00"/><stop offset=".784" stop-color="#ffbc00"/><stop offset=".794" stop-color="#ff8d00"/><stop offset=".814" stop-color="#ff6000"/><stop offset=".853" stop-color="#ff5e00"/><stop offset=".922" stop-color="#ff8f00"/><stop offset=".98" stop-color="#ffc100"/><stop offset="1" stop-color="#ffc100"/></linearGradient>
<linearGradient id="G5" x2="0" y2="1"><stop offset="0" stop-color="#3300ff"/><stop offset=".108" stop-color="#4800ff"/><stop offset=".196" stop-color="#2600ff"/><stop offset=".333" stop-color="#3900ff"/><stop offset=".412" stop-color="#2900ff"/><stop offset=".51" stop-color="#0300ff"/><stop offset=".667" stop-color="#000dff"/><stop offset=".686" stop-color="#0023ff"/><stop offset=".696" stop-color="#0049ff"/><stop offset=".716" stop-color="#00cdff"/><stop offset=".725" stop-color="#00ffd2"/><stop offset=".745" stop-color="#01ff00"/><stop offset=".775" stop-color="#fffd00"/><stop offset=".784" stop-color="#ffb500"/><stop offset=".794" stop-color="#ff8100"/><stop offset=".804" stop-color="#ff5f00"/><stop offset=".824" stop-color="#ff4b00"/><stop offset=".902" stop-color="#ff7900"/><stop offset=".951" stop-color="#ffb800"/><stop offset="1" stop-color="#ffca00"/></linearGradient>
<linearGradient id="G6" x2="0" y2="1"><stop offset="0" stop-color="#3700ff"/><stop offset=".059" stop-color="#4e00ff"/><stop offset=".108" stop-color="#5300ff"/><stop offset=".196" stop-color="#2e00ff"/><stop offset=".333" stop-color="#3e00ff"/><stop offset=".392" stop-color="#4600ff"/><stop offset=".549" stop-color="#0008ff"/><stop offset=".608" stop-color="#0019ff"/><stop offset=".676" stop-color="#0015ff"/><stop offset=".686" stop-color="#0026ff"/><stop offset=".696" stop-color="#004eff"/><stop offset=".716" stop-color="#00d1ff"/><stop offset=".725" stop-color="#00ffd3"/><stop offset=".745" stop-color="#00ff20"/><stop offset=".755" stop-color="#27ff00"/><stop offset=".775" stop-color="#c1ff00"/><stop offset=".784" stop-color="#ffef00"/><stop offset=".794" stop-color="#ffb400"/><stop offset=".804" stop-color="#ff8b00"/><stop offset=".824" stop-color="#ff6f00"/><stop offset=".892" stop-color="#ff7d00"/><stop offset=".961" stop-color="#ffd000"/><stop offset="1" stop-color="#ffdd00"/></linearGradient>
<linearGradient id="G7" x2="0" y2="1"><stop offset="0" stop-color="#3800ff"/><stop offset=".118" stop-color="#4500ff"/><stop offset=".216" stop-color="#2d00ff"/><stop offset=".294" stop-color="#2b00ff"/><stop offset=".471" stop-color="#2900ff"/><stop offset=".52" stop-color="#0000ff"/><stop offset=".559" stop-color="#0029ff"/><stop offset=".676" stop-color="#0021ff"/><stop offset=".686" stop-color="#002cff"/><stop offset=".696" stop-color="#004aff"/><stop offset=".716" stop-color="#00bdff"/><stop offset=".725" stop-color="#00fff2"/><stop offset=".755" stop-color="#00ff03"/><stop offset=".775" stop-color="#91ff00"/><stop offset=".784" stop-color="#e2ff00"/><stop offset=".794" stop-color="#ffd900"/><stop offset=".804" stop-color="#ffab00"/><stop offset=".824" stop-color="#ff8400"/><stop offset=".882" stop-color="#ff8200"/><stop offset=".971" stop-color="#ffd100"/><stop offset="1" stop-color="#ffd600"/></linearGradient>
<linearGradient id="G8" x2="0" y2="1"><stop offset="0" stop-color="#5200ff"/><stop offset=".196" stop-color="#3400ff"/><stop offset=".284" stop-color="#2f00ff"/><stop offset=".353" stop-color="#1400ff"/><stop offset=".461" stop-color="#2700ff"/><stop offset=".51" stop-color="#0007ff"/><stop offset=".549" stop-color="#0048ff"/><stop offset=".657" stop-color="#0030ff"/><stop offset=".686" stop-color="#0034ff"/><stop offset=".696" stop-color="#0049ff"/><stop offset=".706" stop-color="#0076ff"/><stop offset=".725" stop-color="#00ffff"/><stop offset=".755" stop-color="#00ff07"/><stop offset=".775" stop-color="#8cff00"/><stop offset=".784" stop-color="#deff00"/><stop offset=".794" stop-color="#ffd700"/><stop offset=".804" stop-color="#ffa700"/><stop offset=".824" stop-color="#ff7a00"/><stop offset=".863" stop-color="#ff7100"/><stop offset=".971" stop-color="#ffd900"/><stop offset="1" stop-color="#ffde00"/></linearGradient>
<linearGradient id="G9" x2="0" y2="1"><stop offset="0" stop-color="#8000ff"/><stop offset=".127" stop-color="#5200ff"/><stop offset=".186" stop-color="#3c00ff"/><stop offset=".265" stop-color="#4000ff"/><stop offset=".373" stop-color="#0d00ff"/><stop offset=".451" stop-color="#1e00ff"/><stop offset=".5" stop-color="#000aff"/><stop offset=".549" stop-color="#0046ff"/><stop offset=".627" stop-color="#0032ff"/><stop offset=".686" stop-color="#003dff"/><stop offset=".696" stop-color="#004fff"/><stop offset=".716" stop-color="#00b1ff"/><stop offset=".725" stop-color="#00f5ff"/><stop offset=".755" stop-color="#00ff1b"/><stop offset=".765" stop-color="#29ff00"/><stop offset=".784" stop-color="#c2ff00"/><stop offset=".794" stop-color="#fff100"/><stop offset=".804" stop-color="#ffbf00"/><stop offset=".824" stop-color="#ff8800"/><stop offset=".863" stop-color="#ff7600"/><stop offset=".951" stop-color="#ffec00"/><stop offset="1" stop-color="#ffff00"/></linearGradient>
<linearGradient id="G10" x2="0" y2="1"><stop offset="0" stop-color="#9b00ff"/><stop offset=".049" stop-color="#8b00ff"/><stop offset=".137" stop-color="#5b00ff"/><stop offset=".294" stop-color="#4f00ff"/><stop offset=".373" stop-color="#1800ff"/><stop offset=".451" stop-color="#2700ff"/><stop offset=".49" stop-color="#0000ff"/><stop offset=".549" stop-color="#002eff"/><stop offset=".618" stop-color="#0024ff"/><stop offset=".676" stop-color="#0043ff"/><stop offset=".696" stop-color="#0062ff"/><stop offset=".716" stop-color="#00b8ff"/><stop offset=".725" stop-color="#00f1ff"/><stop offset=".735" stop-color="#00ffc8"/><stop offset=".765" stop-color="#00ff03"/><stop offset=".784" stop-color="#8fff00"/><stop offset=".794" stop-color="#daff00"/><stop offset=".804" stop-color="#fff000"/><stop offset=".824" stop-color="#ffb200"/><stop offset=".863" stop-color="#ff9000"/><stop offset=".892" stop-color="#ffb200"/><stop offset=".941" stop-color="#fff400"/><stop offset="1" stop-color="#edff00"/></linearGradient>
<linearGradient id="G11" x2="0" y2="1"><stop offset="0" stop-color="#9d00ff"/><stop offset=".029" stop-color="#9600ff"/><stop offset=".088" stop-color="#5f00ff"/><stop offset=".186" stop-color="#7d00ff"/><stop offset=".294" stop-color="#5700ff"/><stop offset=".392" stop-color="#4a00ff"/><stop offset=".441" stop-color="#4000ff"/><stop offset=".48" stop-color="#1b00ff"/><stop offset=".5" stop-color="#0004ff"/><stop offset=".627" stop-color="#0036ff"/><stop offset=".667" stop-color="#005eff"/><stop offset=".696" stop-color="#009bff"/><stop offset=".716" stop-color="#00e9ff"/><stop offset=".725" stop-color="#00ffe3"/><stop offset=".755" stop-color="#00ff31"/><stop offset=".765" stop-color="#01ff00"/><stop offset=".794" stop-color="#c9ff00"/><stop offset=".804" stop-color="#f8ff00"/><stop offset=".833" stop-color="#ffc200"/><stop offset=".873" stop-color="#ffb600"/><stop offset=".931" stop-color="#ffdc00"/><stop offset="1" stop-color="#fff100"/></linearGradient>
<linearGradient id="G12" x2="0" y2="1"><stop offset="0" stop-color="#8000ff"/><stop offset=".039" stop-color="#7200ff"/><stop offset=".088" stop-color="#5900ff"/><stop offset=".167" stop-color="#9200ff"/><stop offset=".284" stop-color="#6200ff"/><stop offset=".412" stop-color="#4c00ff"/><stop offset=".5" stop-color="#0005ff"/><stop offset=".578" stop-color="#001aff"/><stop offset=".657" stop-color="#007eff"/><stop offset=".696" stop-color="#00ddff"/><stop offset=".706" stop-color="#00fffc"/><stop offset=".735" stop-color="#00ff68"/><stop offset=".755" stop-color="#00ff01"/><stop offset=".775" stop-color="#5bff00"/><stop offset=".794" stop-color="#d1ff00"/><stop offset=".804" stop-color="#f8ff00"/><stop offset=".833" stop-color="#ffce00"/><stop offset=".882" stop-color="#ffc900"/><stop offset=".931" stop-color="#ffd700"/><stop offset="1" stop-color="#ffe300"/></linearGradient>
<linearGradient id="G13" x2="0" y2="1"><stop offset="0" stop-color="#6500ff"/><stop offset=".088" stop-color="#5800ff"/><stop offset=".176" stop-color="#9400ff"/><stop offset=".284" stop-color="#6a00ff"/><stop offset=".343" stop-color="#6100ff"/><stop offset=".441" stop-color="#0700ff"/><stop offset=".5" stop-color="#000cff"/><stop offset=".578" stop-color="#0025ff"/><stop offset=".637" stop-color="#006dff"/><stop offset=".686" stop-color="#00dbff"/><stop offset=".696" stop-color="#00fcff"/><stop offset=".725" stop-color="#00ff76"/><stop offset=".745" stop-color="#00ff0f"/><stop offset=".765" stop-color="#3bff00"/><stop offset=".804" stop-color="#e3ff00"/><stop offset=".814" stop-color="#fdff00"/><stop offset=".843" stop-color="#ffc300"/><stop offset=".882" stop-color="#ffb900"/><stop offset=".98" stop-color="#ffee00"/><stop offset="1" stop-color="#ffee00"/></linearGradient>
<linearGradient id="G14" x2="0" y2="1"><stop offset="0" stop-color="#6000ff"/><stop offset=".088" stop-color="#6200ff"/><stop offset=".196" stop-color="#9900ff"/><stop offset=".275" stop-color="#6500ff"/><stop offset=".333" stop-color="#6e00ff"/><stop offset=".412" stop-color="#0800ff"/><stop offset=".451" stop-color="#0023ff"/><stop offset=".598" stop-color="#003fff"/><stop offset=".637" stop-color="#006dff"/><stop offset=".686" stop-color="#00e2ff"/><stop offset=".696" stop-color="#00fff7"/><stop offset=".735" stop-color="#00ff43"/><stop offset=".755" stop-color="#00ff0b"/><stop offset=".775" stop-color="#1fff00"/><stop offset=".843" stop-color="#fff900"/><stop offset=".882" stop-color="#ffc800"/><stop offset=".941" stop-color="#ffd900"/><stop offset="1" stop-color="#ffea00"/></linearGradient>
<linearGradient id="G15" x2="0" y2="1"><stop offset="0" stop-color="#5d00ff"/><stop offset=".078" stop-color="#5e00ff"/><stop offset=".216" stop-color="#7f00ff"/><stop offset=".294" stop-color="#6f00ff"/><stop offset=".333" stop-color="#7300ff"/><stop offset=".392" stop-color="#2200ff"/><stop offset=".412" stop-color="#0007ff"/><stop offset=".441" stop-color="#003bff"/><stop offset=".539" stop-color="#0053ff"/><stop offset=".598" stop-color="#0059ff"/><stop offset=".637" stop-color="#0088ff"/><stop offset=".686" stop-color="#00f5ff"/><stop offset=".706" stop-color="#00ffbf"/><stop offset=".735" stop-color="#00ff52"/><stop offset=".784" stop-color="#00ff25"/><stop offset=".804" stop-color="#09ff00"/><stop offset=".824" stop-color="#4fff00"/><stop offset=".843" stop-color="#abff00"/><stop offset=".873" stop-color="#ebff00"/><stop offset=".902" stop-color="#fff300"/><stop offset="1" stop-color="#ffe500"/></linearGradient>
<linearGradient id="G16" x2="0" y2="1"><stop offset="0" stop-color="#5d00ff"/><stop offset=".088" stop-color="#5700ff"/><stop offset=".186" stop-color="#6400ff"/><stop offset=".304" stop-color="#9100ff"/><stop offset=".353" stop-color="#7c00ff"/><stop offset=".402" stop-color="#3900ff"/><stop offset=".441" stop-color="#0200ff"/><stop offset=".549" stop-color="#0059ff"/><stop offset=".618" stop-color="#0082ff"/><stop offset=".676" stop-color="#00e4ff"/><stop offset=".686" stop-color="#00faff"/><stop offset=".735" stop-color="#00ff55"/><stop offset=".804" stop-color="#00ff2e"/><stop offset=".833" stop-color="#0aff00"/><stop offset=".971" stop-color="#f4ff00"/><stop offset="1" stop-color="#fcff00"/></linearGradient>
<linearGradient id="G17" x2="0" y2="1"><stop offset="0" stop-color="#6500ff"/><stop offset=".176" stop-color="#6c00ff"/><stop offset=".255" stop-color="#8700ff"/><stop offset=".333" stop-color="#9000ff"/><stop offset=".382" stop-color="#7900ff"/><stop offset=".431" stop-color="#4700ff"/><stop offset=".5" stop-color="#0100ff"/><stop offset=".569" stop-color="#0057ff"/><stop offset=".657" stop-color="#00b1ff"/><stop offset=".686" stop-color="#00eaff"/><stop offset=".696" stop-color="#00fff1"/><stop offset=".725" stop-color="#00ff76"/><stop offset=".745" stop-color="#00ff49"/><stop offset=".853" stop-color="#00ff18"/><stop offset=".873" stop-color="#00ff01"/><stop offset=".912" stop-color="#50ff00"/><stop offset=".951" stop-color="#bdff00"/><stop offset=".98" stop-color="#e0ff00"/><stop offset="1" stop-color="#e0ff00"/></linearGradient>
<linearGradient id="G18" x2="0" y2="1"><stop offset="0" stop-color="#7a00ff"/><stop offset=".088" stop-color="#8b00ff"/><stop offset=".157" stop-color="#8100ff"/><stop offset=".216" stop-color="#9c00ff"/><stop offset=".284" stop-color="#7700ff"/><stop offset=".392" stop-color="#8700ff"/><stop offset=".451" stop-color="#6100ff"/><stop offset=".52" stop-color="#0002ff"/><stop offset=".569" stop-color="#0047ff"/><stop offset=".667" stop-color="#00b3ff"/><stop offset=".696" stop-color="#00fff8"/><stop offset=".735" stop-color="#00ff5f"/><stop offset=".794" stop-color="#00ff00"/><stop offset=".853" stop-color="#57ff00"/><stop offset=".902" stop-color="#87ff00"/><stop offset=".951" stop-color="#d8ff00"/><stop offset="1" stop-color="#e3ff00"/></linearGradient>
<linearGradient id="G19" x2="0" y2="1"><stop offset="0" stop-color="#8100ff"/><stop offset=".069" stop-color="#9800ff"/><stop offset=".137" stop-color="#7700ff"/><stop offset=".216" stop-color="#b300ff"/><stop offset=".255" stop-color="#9300ff"/><stop offset=".294" stop-color="#7400ff"/><stop offset=".422" stop-color="#9700ff"/><stop offset=".451" stop-color="#7800ff"/><stop offset=".52" stop-color="#0100ff"/><stop offset=".559" stop-color="#003bff"/><stop offset=".657" stop-color="#00a4ff"/><stop offset=".686" stop-color="#00ecff"/><stop offset=".696" stop-color="#00ffef"/><stop offset=".735" stop-color="#00ff62"/><stop offset=".784" stop-color="#06ff00"/><stop offset=".843" stop-color="#a4ff00"/><stop offset=".931" stop-color="#d4ff00"/><stop offset="1" stop-color="#ceff00"/></linearGradient>
<linearGradient id="G20" x2="0" y2="1"><stop offset="0" stop-color="#7100ff"/><stop offset=".069" stop-color="#7200ff"/><stop offset=".127" stop-color="#5900ff"/><stop offset=".206" stop-color="#b300ff"/><stop offset=".235" stop-color="#b000ff"/><stop offset=".294" stop-color="#7800ff"/><stop offset=".431" stop-color="#7700ff"/><stop offset=".52" stop-color="#0a00ff"/><stop offset=".569" stop-color="#003eff"/><stop offset=".627" stop-color="#0084ff"/><stop offset=".667" stop-color="#00ccff"/><stop offset=".686" stop-color="#00fff4"/><stop offset=".725" stop-color="#00ff6c"/><stop offset=".784" stop-color="#00ff0a"/><stop offset=".804" stop-color="#21ff00"/><stop offset=".853" stop-color="#9aff00"/><stop offset=".902" stop-color="#dbff00"/><stop offset=".951" stop-color="#c8ff00"/><stop offset="1" stop-color="#b7ff00"/></linearGradient>
<linearGradient id="G21" x2="0" y2="1"><stop offset="0" stop-color="#5e00ff"/><stop offset=".078" stop-color="#5e00ff"/><stop offset=".127" stop-color="#5900ff"/><stop offset=".206" stop-color="#a000ff"/><stop offset=".265" stop-color="#8b00ff"/><stop offset=".402" stop-color="#5b00ff"/><stop offset=".461" stop-color="#4300ff"/><stop offset=".51" stop-color="#2300ff"/><stop offset=".529" stop-color="#0003ff"/><stop offset=".569" stop-color="#003dff"/><stop offset=".608" stop-color="#0079ff"/><stop offset=".667" stop-color="#00fff6"/><stop offset=".716" stop-color="#00ff5c"/><stop offset=".784" stop-color="#00ff1f"/><stop offset=".804" stop-color="#02ff00"/><stop offset=".892" stop-color="#beff00"/><stop offset=".941" stop-color="#beff00"/><stop offset="1" stop-color="#b2ff00"/></linearGradient>
<linearGradient id="G22" x2="0" y2="1"><stop offset="0" stop-color="#5d00ff"/><stop offset=".098" stop-color="#6a00ff"/><stop offset=".167" stop-color="#7400ff"/><stop offset=".255" stop-color="#9100ff"/><stop offset=".324" stop-color="#7200ff"/><stop offset=".402" stop-color="#3600ff"/><stop offset=".52" stop-color="#0003ff"/><stop offset=".559" stop-color="#0040ff"/><stop offset=".598" stop-color="#007cff"/><stop offset=".647" stop-color="#00fff7"/><stop offset=".716" stop-color="#00ff3d"/><stop offset=".775" stop-color="#00ff26"/><stop offset=".804" stop-color="#01ff00"/><stop offset=".882" stop-color="#a5ff00"/><stop offset=".912" stop-color="#b0ff00"/><stop offset="1" stop-color="#afff00"/></linearGradient>
<linearGradient id="G23" x2="0" y2="1"><stop offset="0" stop-color="#7300ff"/><stop offset=".098" stop-color="#7800ff"/><stop offset=".167" stop-color="#7a00ff"/><stop offset=".265" stop-color="#a600ff"/><stop offset=".314" stop-color="#8b00ff"/><stop offset=".402" stop-color="#2900ff"/><stop offset=".5" stop-color="#0100ff"/><stop offset=".588" stop-color="#007dff"/><stop offset=".627" stop-color="#00edff"/><stop offset=".637" stop-color="#00ffef"/><stop offset=".706" stop-color="#00ff4a"/><stop offset=".735" stop-color="#00ff29"/><stop offset=".784" stop-color="#02ff00"/><stop offset=".814" stop-color="#2fff00"/><stop offset=".863" stop-color="#9cff00"/><stop offset=".892" stop-color="#c2ff00"/><stop offset=".961" stop-color="#b8ff00"/><stop offset="1" stop-color="#c1ff00"/></linearGradient>
<linearGradient id="G24" x2="0" y2="1"><stop offset="0" stop-color="#8a00ff"/><stop offset=".078" stop-color="#8100ff"/><stop offset=".147" stop-color="#7700ff"/><stop offset=".265" stop-color="#b600ff"/><stop offset=".314" stop-color="#9500ff"/><stop offset=".392" stop-color="#3700ff"/><stop offset=".471" stop-color="#3300ff"/><stop offset=".51" stop-color="#0300ff"/><stop offset=".578" stop-color="#007aff"/><stop offset=".618" stop-color="#00f2ff"/><stop offset=".637" stop-color="#00ffc0"/><stop offset=".657" stop-color="#00ff8f"/><stop offset=".765" stop-color="#01ff00"/><stop offset=".824" stop-color="#63ff00"/><stop offset=".853" stop-color="#9fff00"/><stop offset=".892" stop-color="#c5ff00"/><stop offset="1" stop-color="#b4ff00"/></linearGradient>
<linearGradient id="G25" x2="0" y2="1"><stop offset="0" stop-color="#a400ff"/><stop offset=".059" stop-color="#9600ff"/><stop offset=".118" stop-color="#7700ff"/><stop offset=".186" stop-color="#8300ff"/><stop offset=".235" stop-color="#b200ff"/><stop offset=".284" stop-color="#a300ff"/><stop offset=".382" stop-color="#4500ff"/><stop offset=".422" stop-color="#4f00ff"/><stop offset=".461" stop-color="#5a00ff"/><stop offset=".49" stop-color="#3700ff"/><stop offset=".51" stop-color="#0600ff"/><stop offset=".549" stop-color="#0049ff"/><stop offset=".578" stop-color="#007dff"/><stop offset=".608" stop-color="#00e0ff"/><stop offset=".618" stop-color="#00fff3"/><stop offset=".647" stop-color="#00ff76"/><stop offset=".676" stop-color="#00ff53"/><stop offset=".755" stop-color="#00ff05"/><stop offset=".824" stop-color="#73ff00"/><stop offset=".853" stop-color="#acff00"/><stop offset=".902" stop-color="#c3ff00"/><stop offset=".99" stop-color="#8fff00"/><stop offset="1" stop-color="#8fff00"/></linearGradient>
<linearGradient id="G26" x2="0" y2="1"><stop offset="0" stop-color="#ae00ff"/><stop offset=".059" stop-color="#aa00ff"/><stop offset=".137" stop-color="#8000ff"/><stop offset=".196" stop-color="#8600ff"/><stop offset=".235" stop-color="#a100ff"/><stop offset=".284" stop-color="#8200ff"/><stop offset=".363" stop-color="#3d00ff"/><stop offset=".422" stop-color="#4000ff"/><stop offset=".461" stop-color="#4400ff"/><stop offset=".49" stop-color="#2200ff"/><stop offset=".51" stop-color="#000bff"/><stop offset=".539" stop-color="#0046ff"/><stop offset=".578" stop-color="#0079ff"/><stop offset=".608" stop-color="#00d0ff"/><stop offset=".618" stop-color="#00f8ff"/><stop offset=".647" stop-color="#00ff89"/><stop offset=".686" stop-color="#00ff43"/><stop offset=".745" stop-color="#00ff0e"/><stop offset=".775" stop-color="#0eff00"/><stop offset=".824" stop-color="#53ff00"/><stop offset=".853" stop-color="#82ff00"/><stop offset=".922" stop-color="#9aff00"/><stop offset="1" stop-color="#85ff00"/></linearGradient>
<linearGradient id="G27" x2="0" y2="1"><stop offset="0" stop-color="#ab00ff"/><stop offset=".098" stop-color="#a300ff"/><stop offset=".245" stop-color="#9800ff"/><stop offset=".363" stop-color="#2a00ff"/><stop offset=".422" stop-color="#1400ff"/><stop offset=".48" stop-color="#0f00ff"/><stop offset=".5" stop-color="#000bff"/><stop offset=".539" stop-color="#0051ff"/><stop offset=".578" stop-color="#007dff"/><stop offset=".608" stop-color="#00c2ff"/><stop offset=".627" stop-color="#00fff0"/><stop offset=".657" stop-color="#00ff89"/><stop offset=".706" stop-color="#00ff42"/><stop offset=".775" stop-color="#00ff0a"/><stop offset=".804" stop-color="#22ff00"/><stop offset=".843" stop-color="#5cff00"/><stop offset=".922" stop-color="#7cff00"/><stop offset=".961" stop-color="#8bff00"/><stop offset="1" stop-color="#86ff00"/></linearGradient>
<linearGradient id="G28" x2="0" y2="1"><stop offset="0" stop-color="#a900ff"/><stop offset=".108" stop-color="#af00ff"/><stop offset=".157" stop-color="#b900ff"/><stop offset=".294" stop-color="#6600ff"/><stop offset=".353" stop-color="#3e00ff"/><stop offset=".392" stop-color="#0001ff"/><stop offset=".422" stop-color="#0020ff"/><stop offset=".48" stop-color="#001dff"/><stop offset=".559" stop-color="#0085ff"/><stop offset=".598" stop-color="#00b1ff"/><stop offset=".627" stop-color="#00fffd"/><stop offset=".657" stop-color="#00ffa0"/><stop offset=".686" stop-color="#00ff74"/><stop offset=".755" stop-color="#00ff50"/><stop offset=".804" stop-color="#07ff00"/><stop offset=".843" stop-color="#40ff00"/><stop offset=".902" stop-color="#4eff00"/><stop offset=".951" stop-color="#82ff00"/><stop offset="1" stop-color="#79ff00"/></linearGradient>
<linearGradient id="G29" x2="0" y2="1"><stop offset="0" stop-color="#9e00ff"/><stop offset=".108" stop-color="#a900ff"/><stop offset=".157" stop-color="#a200ff"/><stop offset=".235" stop-color="#5300ff"/><stop offset=".294" stop-color="#5e00ff"/><stop offset=".324" stop-color="#6700ff"/><stop offset=".353" stop-color="#4700ff"/><stop offset=".382" stop-color="#0003ff"/><stop offset=".412" stop-color="#0057ff"/><stop offset=".441" stop-color="#0064ff"/><stop offset=".49" stop-color="#005aff"/><stop offset=".598" stop-color="#00d7ff"/><stop offset=".618" stop-color="#00f9ff"/><stop offset=".667" stop-color="#00ff8d"/><stop offset=".716" stop-color="#00ff71"/><stop offset=".765" stop-color="#00ff52"/><stop offset=".824" stop-color="#03ff00"/><stop offset=".873" stop-color="#26ff00"/><stop offset=".912" stop-color="#38ff00"/><stop offset=".951" stop-color="#60ff00"/><stop offset="1" stop-color="#5dff00"/></linearGradient>
<linearGradient id="G30" x2="0" y2="1"><stop offset="0" stop-color="#ab00ff"/><stop offset=".127" stop-color="#a800ff"/><stop offset=".216" stop-color="#5500ff"/><stop offset=".314" stop-color="#6600ff"/><stop offset=".353" stop-color="#3700ff"/><stop offset=".373" stop-color="#0700ff"/><stop offset=".412" stop-color="#0073ff"/><stop offset=".441" stop-color="#0088ff"/><stop offset=".5" stop-color="#006dff"/><stop offset=".539" stop-color="#008cff"/><stop offset=".598" stop-color="#00f8ff"/><stop offset=".627" stop-color="#00ffc5"/><stop offset=".667" stop-color="#00ff6f"/><stop offset=".794" stop-color="#00ff12"/><stop offset=".863" stop-color="#0aff00"/><stop offset=".912" stop-color="#20ff00"/><stop offset=".951" stop-color="#4cff00"/><stop offset="1" stop-color="#53ff00"/></linearGradient>
<linearGradient id="G31" x2="0" y2="1"><stop offset="0" stop-color="#d600ff"/><stop offset=".118" stop-color="#c000ff"/><stop offset=".196" stop-color="#6800ff"/><stop offset=".284" stop-color="#6900ff"/><stop offset=".333" stop-color="#4000ff"/><stop offset=".373" stop-color="#0009ff"/><stop offset=".402" stop-color="#005dff"/><stop offset=".431" stop-color="#007aff"/><stop offset=".5" stop-color="#0060ff"/><stop offset=".539" stop-color="#0088ff"/><stop offset=".598" stop-color="#00fffe"/><stop offset=".657" stop-color="#00ff61"/><stop offset=".745" stop-color="#00ff00"/><stop offset=".804" stop-color="#0eff00"/><stop offset=".892" stop-color="#00ff01"/><stop offset=".922" stop-color="#26ff00"/><stop offset=".951" stop-color="#53ff00"/><stop offset="1" stop-color="#63ff00"/></linearGradient>
<linearGradient id="G32" x2="0" y2="1"><stop offset="0" stop-color="#dc00ff"/><stop offset=".078" stop-color="#d200ff"/><stop offset=".186" stop-color="#7800ff"/><stop offset=".265" stop-color="#8600ff"/><stop offset=".324" stop-color="#4d00ff"/><stop offset=".373" stop-color="#0007ff"/><stop offset=".402" stop-color="#0049ff"/><stop offset=".441" stop-color="#0052ff"/><stop offset=".49" stop-color="#0049ff"/><stop offset=".529" stop-color="#0077ff"/><stop offset=".588" stop-color="#00f6ff"/><stop offset=".618" stop-color="#00ffb7"/><stop offset=".657" stop-color="#00ff4b"/><stop offset=".706" stop-color="#00ff1d"/><stop offset=".745" stop-color="#04ff00"/><stop offset=".824" stop-color="#1cff00"/><stop offset=".892" stop-color="#0aff00"/><stop offset=".931" stop-color="#46ff00"/><stop offset=".971" stop-color="#6eff00"/><stop offset="1" stop-color="#70ff00"/></linearGradient>
<linearGradient id="G33" x2="0" y2="1"><stop offset="0" stop-color="#c800ff"/><stop offset=".078" stop-color="#b400ff"/><stop offset=".157" stop-color="#8e00ff"/><stop offset=".265" stop-color="#8f00ff"/><stop offset=".314" stop-color="#6400ff"/><stop offset=".373" stop-color="#0002ff"/><stop offset=".402" stop-color="#0033ff"/><stop offset=".49" stop-color="#0041ff"/><stop offset=".529" stop-color="#007bff"/><stop offset=".588" stop-color="#00fff8"/><stop offset=".657" stop-color="#00ff47"/><stop offset=".745" stop-color="#02ff00"/><stop offset=".824" stop-color="#1cff00"/><stop offset=".892" stop-color="#0fff00"/><stop offset=".961" stop-color="#69ff00"/><stop offset="1" stop-color="#71ff00"/></linearGradient>
<linearGradient id="G34" x2="0" y2="1"><stop offset="0" stop-color="#ce00ff"/><stop offset=".069" stop-color="#b900ff"/><stop offset=".127" stop-color="#9b00ff"/><stop offset=".216" stop-color="#9700ff"/><stop offset=".304" stop-color="#5c00ff"/><stop offset=".373" stop-color="#0008ff"/><stop offset=".402" stop-color="#0038ff"/><stop offset=".49" stop-color="#0053ff"/><stop offset=".549" stop-color="#00a9ff"/><stop offset=".588" stop-color="#00f5ff"/><stop offset=".608" stop-color="#00ffda"/><stop offset=".657" stop-color="#00ff60"/><stop offset=".725" stop-color="#00ff05"/><stop offset=".775" stop-color="#2fff00"/><stop offset=".824" stop-color="#1aff00"/><stop offset=".873" stop-color="#00ff03"/><stop offset=".912" stop-color="#12ff00"/><stop offset=".971" stop-color="#49ff00"/><stop offset="1" stop-color="#4dff00"/></linearGradient>
<linearGradient id="G35" x2="0" y2="1"><stop offset="0" stop-color="#e800ff"/><stop offset=".069" stop-color="#e400ff"/><stop offset=".157" stop-color="#9900ff"/><stop offset=".275" stop-color="#6d00ff"/><stop offset=".363" stop-color="#0600ff"/><stop offset=".412" stop-color="#004eff"/><stop offset=".52" stop-color="#0087ff"/><stop offset=".588" stop-color="#00ddff"/><stop offset=".608" stop-color="#00fff2"/><stop offset=".667" stop-color="#00ff55"/><stop offset=".716" stop-color="#00ff01"/><stop offset=".765" stop-color="#43ff00"/><stop offset=".804" stop-color="#41ff00"/><stop offset=".863" stop-color="#00ff01"/><stop offset=".922" stop-color="#0cff00"/><stop offset="1" stop-color="#29ff00"/></linearGradient>
<linearGradient id="G36" x2="0" y2="1"><stop offset="0" stop-color="#e800ff"/><stop offset=".069" stop-color="#f500ff"/><stop offset=".108" stop-color="#c900ff"/><stop offset=".167" stop-color="#7500ff"/><stop offset=".225" stop-color="#5e00ff"/><stop offset=".284" stop-color="#5400ff"/><stop offset=".373" stop-color="#0000ff"/><stop offset=".412" stop-color="#004dff"/><stop offset=".471" stop-color="#007cff"/><stop offset=".549" stop-color="#00acff"/><stop offset=".588" stop-color="#00e7ff"/><stop offset=".598" stop-color="#00feff"/><stop offset=".657" stop-color="#00ff5b"/><stop offset=".725" stop-color="#03ff00"/><stop offset=".784" stop-color="#36ff00"/><stop offset=".824" stop-color="#2bff00"/><stop offset=".873" stop-color="#04ff00"/><stop offset=".922" stop-color="#1bff00"/><stop offset=".99" stop-color="#3cff00"/><stop offset="1" stop-color="#3cff00"/></linearGradient>
<linearGradient id="G37" x2="0" y2="1"><stop offset="0" stop-color="#c600ff"/><stop offset=".078" stop-color="#d800ff"/><stop offset=".118" stop-color="#b100ff"/><stop offset=".186" stop-color="#4b00ff"/><stop offset=".225" stop-color="#4400ff"/><stop offset=".284" stop-color="#4e00ff"/><stop offset=".373" stop-color="#0003ff"/><stop offset=".422" stop-color="#004dff"/><stop offset=".529" stop-color="#0098ff"/><stop offset=".569" stop-color="#00c0ff"/><stop offset=".598" stop-color="#00feff"/><stop offset=".657" stop-color="#00ff6a"/><stop offset=".794" stop-color="#00ff01"/><stop offset=".882" stop-color="#07ff00"/><stop offset=".951" stop-color="#4cff00"/><stop offset="1" stop-color="#52ff00"/></linearGradient>
<linearGradient id="G38" x2="0" y2="1"><stop offset="0" stop-color="#9d00ff"/><stop offset=".098" stop-color="#b100ff"/><stop offset=".157" stop-color="#7100ff"/><stop offset=".206" stop-color="#3e00ff"/><stop offset=".284" stop-color="#5100ff"/><stop offset=".314" stop-color="#3300ff"/><stop offset=".343" stop-color="#0001ff"/><stop offset=".422" stop-color="#0041ff"/><stop offset=".559" stop-color="#00a5ff"/><stop offset=".598" stop-color="#00f3ff"/><stop offset=".627" stop-color="#00ffc0"/><stop offset=".657" stop-color="#00ff8b"/><stop offset=".745" stop-color="#00ff59"/><stop offset=".814" stop-color="#00ff31"/><stop offset=".863" stop-color="#00ff22"/><stop offset=".892" stop-color="#09ff00"/><stop offset=".941" stop-color="#4eff00"/><stop offset="1" stop-color="#4dff00"/></linearGradient>
<linearGradient id="G39" x2="0" y2="1"><stop offset="0" stop-color="#8000ff"/><stop offset=".088" stop-color="#9600ff"/><stop offset=".206" stop-color="#4c00ff"/><stop offset=".284" stop-color="#4b00ff"/><stop offset=".314" stop-color="#2900ff"/><stop offset=".333" stop-color="#0002ff"/><stop offset=".373" stop-color="#0030ff"/><stop offset=".48" stop-color="#0062ff"/><stop offset=".569" stop-color="#00b2ff"/><stop offset=".608" stop-color="#00f9ff"/><stop offset=".657" stop-color="#00ffab"/><stop offset=".824" stop-color="#00ff39"/><stop offset=".873" stop-color="#00ff26"/><stop offset=".912" stop-color="#09ff00"/><stop offset=".951" stop-color="#25ff00"/><stop offset="1" stop-color="#20ff00"/></linearGradient>
<linearGradient id="G40" x2="0" y2="1"><stop offset="0" stop-color="#7600ff"/><stop offset=".078" stop-color="#8000ff"/><stop offset=".157" stop-color="#4400ff"/><stop offset=".265" stop-color="#5800ff"/><stop offset=".304" stop-color="#3a00ff"/><stop offset=".333" stop-color="#0005ff"/><stop offset=".363" stop-color="#002fff"/><stop offset=".412" stop-color="#0044ff"/><stop offset=".471" stop-color="#0050ff"/><stop offset=".578" stop-color="#00b2ff"/><stop offset=".627" stop-color="#00fff7"/><stop offset=".676" stop-color="#00ffa7"/><stop offset=".755" stop-color="#00ff68"/><stop offset=".912" stop-color="#00ff28"/><stop offset="1" stop-color="#00ff16"/></linearGradient>
<linearGradient id="G41" x2="0" y2="1"><stop offset="0" stop-color="#6300ff"/><stop offset=".078" stop-color="#6400ff"/><stop offset=".167" stop-color="#2400ff"/><stop offset=".206" stop-color="#3c00ff"/><stop offset=".255" stop-color="#6700ff"/><stop offset=".294" stop-color="#5800ff"/><stop offset=".324" stop-color="#2300ff"/><stop offset=".333" stop-color="#0800ff"/><stop offset=".373" stop-color="#0029ff"/><stop offset=".422" stop-color="#002aff"/><stop offset=".471" stop-color="#0020ff"/><stop offset=".529" stop-color="#0066ff"/><stop offset=".618" stop-color="#00f8ff"/><stop offset=".676" stop-color="#00ffa7"/><stop offset=".745" stop-color="#00ff7f"/><stop offset=".804" stop-color="#00ff7c"/><stop offset=".892" stop-color="#00ff3a"/><stop offset=".971" stop-color="#00ff30"/><stop offset="1" stop-color="#00ff2c"/></linearGradient>
<linearGradient id="G42" x2="0" y2="1"><stop offset="0" stop-color="#6300ff"/><stop offset=".176" stop-color="#2d00ff"/><stop offset=".265" stop-color="#6600ff"/><stop offset=".304" stop-color="#4e00ff"/><stop offset=".333" stop-color="#0200ff"/><stop offset=".363" stop-color="#002dff"/><stop offset=".431" stop-color="#0026ff"/><stop offset=".48" stop-color="#0026ff"/><stop offset=".549" stop-color="#0091ff"/><stop offset=".618" stop-color="#00fcff"/><stop offset=".676" stop-color="#00ffbc"/><stop offset=".765" stop-color="#00ff9c"/><stop offset=".814" stop-color="#00ff8c"/><stop offset=".902" stop-color="#00ff2c"/><stop offset="1" stop-color="#00ff27"/></linearGradient>
<linearGradient id="G43" x2="0" y2="1"><stop offset="0" stop-color="#7000ff"/><stop offset=".029" stop-color="#6700ff"/><stop offset=".078" stop-color="#3100ff"/><stop offset=".147" stop-color="#3a00ff"/><stop offset=".265" stop-color="#5a00ff"/><stop offset=".304" stop-color="#4000ff"/><stop offset=".333" stop-color="#0009ff"/><stop offset=".353" stop-color="#002fff"/><stop offset=".471" stop-color="#0032ff"/><stop offset=".52" stop-color="#0075ff"/><stop offset=".578" stop-color="#00c9ff"/><stop offset=".637" stop-color="#00fffa"/><stop offset=".706" stop-color="#00ffc3"/><stop offset=".824" stop-color="#00ff88"/><stop offset=".912" stop-color="#00ff24"/><stop offset="1" stop-color="#00ff22"/></linearGradient>
<linearGradient id="G44" x2="0" y2="1"><stop offset="0" stop-color="#6200ff"/><stop offset=".029" stop-color="#5900ff"/><stop offset=".088" stop-color="#1800ff"/><stop offset=".127" stop-color="#1b00ff"/><stop offset=".196" stop-color="#5400ff"/><stop offset=".265" stop-color="#4900ff"/><stop offset=".314" stop-color="#1800ff"/><stop offset=".324" stop-color="#0400ff"/><stop offset=".353" stop-color="#002fff"/><stop offset=".49" stop-color="#004cff"/><stop offset=".578" stop-color="#00d5ff"/><stop offset=".637" stop-color="#00fffa"/><stop offset=".775" stop-color="#00ff90"/><stop offset=".863" stop-color="#00ff64"/><stop offset=".931" stop-color="#00ff2c"/><stop offset="1" stop-color="#00ff2c"/></linearGradient>
<linearGradient id="G45" x2="0" y2="1"><stop offset="0" stop-color="#4600ff"/><stop offset=".049" stop-color="#3500ff"/><stop offset=".108" stop-color="#1000ff"/><stop offset=".196" stop-color="#5000ff"/><stop offset=".245" stop-color="#3100ff"/><stop offset=".294" stop-color="#0007ff"/><stop offset=".353" stop-color="#004aff"/><stop offset=".461" stop-color="#0071ff"/><stop offset=".51" stop-color="#0081ff"/><stop offset=".578" stop-color="#00edff"/><stop offset=".647" stop-color="#00fffa"/><stop offset=".755" stop-color="#00ffa2"/><stop offset=".843" stop-color="#00ff7b"/><stop offset=".941" stop-color="#00ff2a"/><stop offset="1" stop-color="#00ff2e"/></linearGradient>
<linearGradient id="G46" x2="0" y2="1"><stop offset="0" stop-color="#3100ff"/><stop offset=".088" stop-color="#2e00ff"/><stop offset=".147" stop-color="#3900ff"/><stop offset=".206" stop-color="#4500ff"/><stop offset=".275" stop-color="#0007ff"/><stop offset=".333" stop-color="#0057ff"/><stop offset=".382" stop-color="#0067ff"/><stop offset=".48" stop-color="#0098ff"/><stop offset=".529" stop-color="#00d0ff"/><stop offset=".559" stop-color="#00fffc"/><stop offset=".588" stop-color="#00ffe2"/><stop offset=".657" stop-color="#00fbff"/><stop offset=".696" stop-color="#00ffdf"/><stop offset=".745" stop-color="#00ffb6"/><stop offset=".814" stop-color="#00ffb2"/><stop offset=".951" stop-color="#00ff0e"/><stop offset="1" stop-color="#00ff11"/></linearGradient>
<linearGradient id="G47" x2="0" y2="1"><stop offset="0" stop-color="#2300ff"/><stop offset=".157" stop-color="#3300ff"/><stop offset=".216" stop-color="#2900ff"/><stop offset=".265" stop-color="#0004ff"/><stop offset=".324" stop-color="#0056ff"/><stop offset=".363" stop-color="#0067ff"/><stop offset=".431" stop-color="#0070ff"/><stop offset=".5" stop-color="#00b4ff"/><stop offset=".549" stop-color="#00fffe"/><stop offset=".588" stop-color="#00ffda"/><stop offset=".667" stop-color="#00ffff"/><stop offset=".745" stop-color="#00ffbd"/><stop offset=".814" stop-color="#00ffc6"/><stop offset=".873" stop-color="#00ff7e"/><stop offset=".941" stop-color="#00ff08"/><stop offset="1" stop-color="#00ff04"/></linearGradient>
<linearGradient id="G48" x2="0" y2="1"><stop offset="0" stop-color="#3500ff"/><stop offset=".235" stop-color="#1300ff"/><stop offset=".275" stop-color="#0200ff"/><stop offset=".333" stop-color="#0053ff"/><stop offset=".441" stop-color="#007bff"/><stop offset=".5" stop-color="#00afff"/><stop offset=".559" stop-color="#00faff"/><stop offset=".618" stop-color="#00fff2"/><stop offset=".676" stop-color="#00fffe"/><stop offset=".755" stop-color="#00ffc9"/><stop offset=".824" stop-color="#00ffc5"/><stop offset=".882" stop-color="#00ff79"/><stop offset=".941" stop-color="#00ff0d"/><stop offset="1" stop-color="#00ff09"/></linearGradient>
<linearGradient id="G49" x2="0" y2="1"><stop offset="0" stop-color="#5d00ff"/><stop offset=".147" stop-color="#2e00ff"/><stop offset=".216" stop-color="#2100ff"/><stop offset=".265" stop-color="#3200ff"/><stop offset=".284" stop-color="#1800ff"/><stop offset=".294" stop-color="#0100ff"/><stop offset=".333" stop-color="#003fff"/><stop offset=".422" stop-color="#006aff"/><stop offset=".549" stop-color="#00ddff"/><stop offset=".686" stop-color="#00f0ff"/><stop offset=".716" stop-color="#00fff2"/><stop offset=".765" stop-color="#00ffcc"/><stop offset=".833" stop-color="#00ffb2"/><stop offset=".892" stop-color="#00ff70"/><stop offset=".951" stop-color="#00ff0d"/><stop offset="1" stop-color="#00ff04"/></linearGradient>
<linearGradient id="G50" x2="0" y2="1"><stop offset="0" stop-color="#6e00ff"/><stop offset=".069" stop-color="#5f00ff"/><stop offset=".167" stop-color="#1a00ff"/><stop offset=".225" stop-color="#2b00ff"/><stop offset=".265" stop-color="#4400ff"/><stop offset=".284" stop-color="#2700ff"/><stop offset=".304" stop-color="#000cff"/><stop offset=".343" stop-color="#003eff"/><stop offset=".422" stop-color="#004fff"/><stop offset=".529" stop-color="#00c4ff"/><stop offset=".657" stop-color="#00e0ff"/><stop offset=".686" stop-color="#00fdff"/><stop offset=".755" stop-color="#00ffb1"/><stop offset=".902" stop-color="#00ff6e"/><stop offset=".971" stop-color="#00ff19"/><stop offset="1" stop-color="#00ff15"/></linearGradient>
<linearGradient id="G51" x2="0" y2="1"><stop offset="0" stop-color="#5b00ff"/><stop offset=".069" stop-color="#5400ff"/><stop offset=".157" stop-color="#1400ff"/><stop offset=".216" stop-color="#2200ff"/><stop offset=".265" stop-color="#3d00ff"/><stop offset=".284" stop-color="#2600ff"/><stop offset=".304" stop-color="#0005ff"/><stop offset=".353" stop-color="#003bff"/><stop offset=".441" stop-color="#0053ff"/><stop offset=".529" stop-color="#00c4ff"/><stop offset=".627" stop-color="#00ddff"/><stop offset=".667" stop-color="#00fff8"/><stop offset=".735" stop-color="#00ff9e"/><stop offset=".922" stop-color="#00ff69"/><stop offset=".98" stop-color="#00ff3b"/><stop offset="1" stop-color="#00ff3b"/></linearGradient>
<linearGradient id="G52" x2="0" y2="1"><stop offset="0" stop-color="#4200ff"/><stop offset=".088" stop-color="#3000ff"/><stop offset=".176" stop-color="#0600ff"/><stop offset=".265" stop-color="#2600ff"/><stop offset=".304" stop-color="#0009ff"/><stop offset=".412" stop-color="#0060ff"/><stop offset=".461" stop-color="#0081ff"/><stop offset=".529" stop-color="#00d9ff"/><stop offset=".618" stop-color="#00f6ff"/><stop offset=".686" stop-color="#00ffce"/><stop offset=".735" stop-color="#00ffac"/><stop offset=".794" stop-color="#00ffb1"/><stop offset=".873" stop-color="#00ff82"/><stop offset=".99" stop-color="#00ff46"/><stop offset="1" stop-color="#00ff46"/></linearGradient>
<linearGradient id="G53" x2="0" y2="1"><stop offset="0" stop-color="#2b00ff"/><stop offset=".176" stop-color="#0005ff"/><stop offset=".216" stop-color="#1200ff"/><stop offset=".255" stop-color="#2800ff"/><stop offset=".284" stop-color="#1400ff"/><stop offset=".304" stop-color="#000aff"/><stop offset=".382" stop-color="#0056ff"/><stop offset=".49" stop-color="#00b7ff"/><stop offset=".549" stop-color="#00e8ff"/><stop offset=".618" stop-color="#00fff4"/><stop offset=".706" stop-color="#00ffd7"/><stop offset=".814" stop-color="#00ffae"/><stop offset=".912" stop-color="#00ff77"/><stop offset=".971" stop-color="#00ff3f"/><stop offset="1" stop-color="#00ff3c"/></linearGradient>
<linearGradient id="G54" x2="0" y2="1"><stop offset="0" stop-color="#1c00ff"/><stop offset=".147" stop-color="#1300ff"/><stop offset=".216" stop-color="#2b00ff"/><stop offset=".255" stop-color="#3400ff"/><stop offset=".284" stop-color="#1d00ff"/><stop offset=".304" stop-color="#0001ff"/><stop offset=".412" stop-color="#0081ff"/><stop offset=".49" stop-color="#00a6ff"/><stop offset=".608" stop-color="#00fffe"/><stop offset=".882" stop-color="#00ff8b"/><stop offset=".971" stop-color="#00ff37"/><stop offset="1" stop-color="#00ff35"/></linearGradient>
<linearGradient id="G55" x2="0" y2="1"><stop offset="0" stop-color="#1a00ff"/><stop offset=".147" stop-color="#1500ff"/><stop offset=".235" stop-color="#4000ff"/><stop offset=".304" stop-color="#0000ff"/><stop offset=".402" stop-color="#0080ff"/><stop offset=".51" stop-color="#00a7ff"/><stop offset=".608" stop-color="#00fff8"/><stop offset=".676" stop-color="#00ffe0"/><stop offset=".745" stop-color="#00ffd2"/><stop offset=".833" stop-color="#00ff92"/><stop offset=".892" stop-color="#00ff7d"/><stop offset=".971" stop-color="#00ff2c"/><stop offset="1" stop-color="#00ff28"/></linearGradient>
<linearGradient id="G56" x2="0" y2="1"><stop offset="0" stop-color="#3300ff"/><stop offset=".078" stop-color="#2f00ff"/><stop offset=".137" stop-color="#0008ff"/><stop offset=".186" stop-color="#0900ff"/><stop offset=".225" stop-color="#2400ff"/><stop offset=".265" stop-color="#0008ff"/><stop offset=".343" stop-color="#0048ff"/><stop offset=".392" stop-color="#007fff"/><stop offset=".49" stop-color="#0090ff"/><stop offset=".549" stop-color="#00c6ff"/><stop offset=".588" stop-color="#00ffff"/><stop offset=".637" stop-color="#00ffda"/><stop offset=".686" stop-color="#00fff3"/><stop offset=".735" stop-color="#00f5ff"/><stop offset=".765" stop-color="#00ffe7"/><stop offset=".814" stop-color="#00ff98"/><stop offset=".863" stop-color="#00ff8d"/><stop offset=".912" stop-color="#00ff7a"/><stop offset=".98" stop-color="#00ff33"/><stop offset="1" stop-color="#00ff33"/></linearGradient>
<linearGradient id="G57" x2="0" y2="1"><stop offset="0" stop-color="#5300ff"/><stop offset=".069" stop-color="#4e00ff"/><stop offset=".127" stop-color="#0000ff"/><stop offset=".167" stop-color="#0027ff"/><stop offset=".225" stop-color="#0008ff"/><stop offset=".255" stop-color="#002eff"/><stop offset=".294" stop-color="#004cff"/><stop offset=".353" stop-color="#0066ff"/><stop offset=".392" stop-color="#0077ff"/><stop offset=".461" stop-color="#005fff"/><stop offset=".529" stop-color="#00a0ff"/><stop offset=".598" stop-color="#00fffc"/><stop offset=".647" stop-color="#00ffde"/><stop offset=".696" stop-color="#00feff"/><stop offset=".735" stop-color="#00eaff"/><stop offset=".765" stop-color="#00fff4"/><stop offset=".814" stop-color="#00ffa6"/><stop offset=".873" stop-color="#00ff99"/><stop offset=".922" stop-color="#00ff81"/><stop offset=".98" stop-color="#00ff41"/><stop offset="1" stop-color="#00ff41"/></linearGradient>
<linearGradient id="G58" x2="0" y2="1"><stop offset="0" stop-color="#5200ff"/><stop offset=".069" stop-color="#4f00ff"/><stop offset=".147" stop-color="#0009ff"/><stop offset=".186" stop-color="#001fff"/><stop offset=".225" stop-color="#000aff"/><stop offset=".245" stop-color="#0021ff"/><stop offset=".275" stop-color="#0052ff"/><stop offset=".392" stop-color="#0067ff"/><stop offset=".451" stop-color="#004bff"/><stop offset=".51" stop-color="#007bff"/><stop offset=".608" stop-color="#00fffb"/><stop offset=".657" stop-color="#00ffdb"/><stop offset=".735" stop-color="#00fff7"/><stop offset=".824" stop-color="#00ffab"/><stop offset=".902" stop-color="#00ff94"/><stop offset=".98" stop-color="#00ff45"/><stop offset="1" stop-color="#00ff45"/></linearGradient>
<linearGradient id="G59" x2="0" y2="1"><stop offset="0" stop-color="#5200ff"/><stop offset=".069" stop-color="#4f00ff"/><stop offset=".147" stop-color="#0009ff"/><stop offset=".186" stop-color="#001fff"/><stop offset=".225" stop-color="#000aff"/><stop offset=".245" stop-color="#0021ff"/><stop offset=".275" stop-color="#0052ff"/><stop offset=".392" stop-color="#0067ff"/><stop offset=".451" stop-color="#004bff"/><stop offset=".51" stop-color="#007bff"/><stop offset=".608" stop-color="#00fffb"/><stop offset=".657" stop-color="#00ffdb"/><stop offset=".735" stop-color="#00fff7"/><stop offset=".824" stop-color="#00ffab"/><stop offset=".902" stop-color="#00ff94"/><stop offset=".98" stop-color="#00ff45"/><stop offset="1" stop-color="#00ff45"/></linearGradient>
<linearGradient id="G60" x2="0" y2="1"><stop offset="0" stop-color="#5200ff"/><stop offset=".069" stop-color="#4f00ff"/><stop offset=".147" stop-color="#0009ff"/><stop offset=".186" stop-color="#001fff"/><stop offset=".225" stop-color="#000aff"/><stop offset=".245" stop-color="#0021ff"/><stop offset=".275" stop-color="#0052ff"/><stop offset=".392" stop-color="#0067ff"/><stop offset=".451" stop-color="#004bff"/><stop offset=".51" stop-color="#007bff"/><stop offset=".608" stop-color="#00fffb"/><stop offset=".657" stop-color="#00ffdb"/><stop offset=".735" stop-color="#00fff7"/><stop offset=".824" stop-color="#00ffab"/><stop offset=".902" stop-color="#00ff94"/><stop offset=".98" stop-color="#00ff45"/><stop offset="1" stop-color="#00ff45"/></linearGradient>
<clipPath id="clipH"><rect x="305" y="396" width="225" height="98"/></clipPath>
<linearGradient id="H0" x2="0" y2="1"><stop offset="0" stop-color="#0c00ff"/><stop offset=".039" stop-color="#1a00ff"/><stop offset=".108" stop-color="#4300ff"/><stop offset=".167" stop-color="#2c00ff"/><stop offset=".225" stop-color="#1500ff"/><stop offset=".265" stop-color="#1b00ff"/><stop offset=".284" stop-color="#0000ff"/><stop offset=".324" stop-color="#003cff"/><stop offset=".471" stop-color="#004aff"/><stop offset=".529" stop-color="#0054ff"/><stop offset=".598" stop-color="#0050ff"/><stop offset=".647" stop-color="#0053ff"/><stop offset=".676" stop-color="#0047ff"/><stop offset=".696" stop-color="#0064ff"/><stop offset=".716" stop-color="#00aaff"/><stop offset=".725" stop-color="#00ddff"/><stop offset=".735" stop-color="#00ffdd"/><stop offset=".755" stop-color="#00ff45"/><stop offset=".765" stop-color="#00ff06"/><stop offset=".794" stop-color="#9bff00"/><stop offset=".804" stop-color="#c2ff00"/><stop offset=".833" stop-color="#ebff00"/><stop offset=".902" stop-color="#fff900"/><stop offset="1" stop-color="#ecff00"/></linearGradient>
<linearGradient id="H1" x2="0" y2="1"><stop offset="0" stop-color="#0c00ff"/><stop offset=".039" stop-color="#1a00ff"/><stop offset=".108" stop-color="#4300ff"/><stop offset=".167" stop-color="#2c00ff"/><stop offset=".225" stop-color="#1500ff"/><stop offset=".265" stop-color="#1b00ff"/><stop offset=".284" stop-color="#0000ff"/><stop offset=".324" stop-color="#003cff"/><stop offset=".471" stop-color="#004aff"/><stop offset=".529" stop-color="#0054ff"/><stop offset=".598" stop-color="#0050ff"/><stop offset=".647" stop-color="#0053ff"/><stop offset=".676" stop-color="#0047ff"/><stop offset=".696" stop-color="#0064ff"/><stop offset=".716" stop-color="#00aaff"/><stop offset=".725" stop-color="#00ddff"/><stop offset=".735" stop-color="#00ffdd"/><stop offset=".755" stop-color="#00ff45"/><stop offset=".765" stop-color="#00ff06"/><stop offset=".794" stop-color="#9bff00"/><stop offset=".804" stop-color="#c2ff00"/><stop offset=".833" stop-color="#ebff00"/><stop offset=".902" stop-color="#fff900"/><stop offset="1" stop-color="#ecff00"/></linearGradient>
<linearGradient id="H2" x2="0" y2="1"><stop offset="0" stop-color="#1c00ff"/><stop offset=".049" stop-color="#2f00ff"/><stop offset=".118" stop-color="#5200ff"/><stop offset=".176" stop-color="#2a00ff"/><stop offset=".225" stop-color="#1600ff"/><stop offset=".265" stop-color="#1f00ff"/><stop offset=".294" stop-color="#0003ff"/><stop offset=".333" stop-color="#002fff"/><stop offset=".392" stop-color="#0030ff"/><stop offset=".451" stop-color="#0027ff"/><stop offset=".529" stop-color="#0041ff"/><stop offset=".637" stop-color="#0061ff"/><stop offset=".676" stop-color="#004dff"/><stop offset=".696" stop-color="#0067ff"/><stop offset=".716" stop-color="#00afff"/><stop offset=".725" stop-color="#00e4ff"/><stop offset=".735" stop-color="#00ffd0"/><stop offset=".755" stop-color="#00ff2c"/><stop offset=".765" stop-color="#19ff00"/><stop offset=".794" stop-color="#aaff00"/><stop offset=".814" stop-color="#deff00"/><stop offset=".853" stop-color="#fffc00"/><stop offset=".902" stop-color="#fff200"/><stop offset=".961" stop-color="#eeff00"/><stop offset="1" stop-color="#e7ff00"/></linearGradient>
<linearGradient id="H3" x2="0" y2="1"><stop offset="0" stop-color="#2b00ff"/><stop offset=".059" stop-color="#3800ff"/><stop offset=".118" stop-color="#6200ff"/><stop offset=".167" stop-color="#3f00ff"/><stop offset=".206" stop-color="#2200ff"/><stop offset=".294" stop-color="#3600ff"/><stop offset=".382" stop-color="#0400ff"/><stop offset=".461" stop-color="#0b00ff"/><stop offset=".529" stop-color="#001bff"/><stop offset=".598" stop-color="#006eff"/><stop offset=".637" stop-color="#006dff"/><stop offset=".686" stop-color="#004fff"/><stop offset=".696" stop-color="#005dff"/><stop offset=".716" stop-color="#00a8ff"/><stop offset=".725" stop-color="#00e6ff"/><stop offset=".735" stop-color="#00ffc0"/><stop offset=".755" stop-color="#0dff00"/><stop offset=".765" stop-color="#62ff00"/><stop offset=".775" stop-color="#9fff00"/><stop offset=".794" stop-color="#d6ff00"/><stop offset=".833" stop-color="#fffa00"/><stop offset=".882" stop-color="#ffd700"/><stop offset=".941" stop-color="#f6ff00"/><stop offset="1" stop-color="#e2ff00"/></linearGradient>
<linearGradient id="H4" x2="0" y2="1"><stop offset="0" stop-color="#1f00ff"/><stop offset=".059" stop-color="#2300ff"/><stop offset=".118" stop-color="#5b00ff"/><stop offset=".157" stop-color="#4c00ff"/><stop offset=".216" stop-color="#2100ff"/><stop offset=".275" stop-color="#3d00ff"/><stop offset=".324" stop-color="#5f00ff"/><stop offset=".402" stop-color="#2400ff"/><stop offset=".48" stop-color="#1e00ff"/><stop offset=".529" stop-color="#0006ff"/><stop offset=".588" stop-color="#0065ff"/><stop offset=".627" stop-color="#006fff"/><stop offset=".686" stop-color="#0054ff"/><stop offset=".696" stop-color="#0060ff"/><stop offset=".716" stop-color="#00abff"/><stop offset=".725" stop-color="#00eeff"/><stop offset=".735" stop-color="#00ffb1"/><stop offset=".745" stop-color="#00ff40"/><stop offset=".755" stop-color="#2fff00"/><stop offset=".765" stop-color="#8fff00"/><stop offset=".775" stop-color="#d5ff00"/><stop offset=".784" stop-color="#f8ff00"/><stop offset=".873" stop-color="#ffae00"/><stop offset=".902" stop-color="#ffc100"/><stop offset=".931" stop-color="#fff900"/><stop offset=".971" stop-color="#d8ff00"/><stop offset="1" stop-color="#d6ff00"/></linearGradient>
<linearGradient id="H5" x2="0" y2="1"><stop offset="0" stop-color="#0800ff"/><stop offset=".059" stop-color="#0c00ff"/><stop offset=".127" stop-color="#4f00ff"/><stop offset=".186" stop-color="#3500ff"/><stop offset=".255" stop-color="#2500ff"/><stop offset=".333" stop-color="#6c00ff"/><stop offset=".373" stop-color="#5e00ff"/><stop offset=".431" stop-color="#3f00ff"/><stop offset=".49" stop-color="#2500ff"/><stop offset=".539" stop-color="#0002ff"/><stop offset=".578" stop-color="#003fff"/><stop offset=".657" stop-color="#0065ff"/><stop offset=".696" stop-color="#007bff"/><stop offset=".706" stop-color="#0093ff"/><stop offset=".716" stop-color="#00bcff"/><stop offset=".725" stop-color="#00f8ff"/><stop offset=".735" stop-color="#00ffb1"/><stop offset=".745" stop-color="#00ff4a"/><stop offset=".755" stop-color="#20ff00"/><stop offset=".765" stop-color="#80ff00"/><stop offset=".775" stop-color="#ccff00"/><stop offset=".784" stop-color="#f9ff00"/><stop offset=".853" stop-color="#ffa200"/><stop offset=".882" stop-color="#ff9c00"/><stop offset=".922" stop-color="#ffe200"/><stop offset=".941" stop-color="#f5ff00"/><stop offset=".971" stop-color="#dcff00"/><stop offset="1" stop-color="#dcff00"/></linearGradient>
<linearGradient id="H6" x2="0" y2="1"><stop offset="0" stop-color="#0600ff"/><stop offset=".069" stop-color="#0f00ff"/><stop offset=".147" stop-color="#4000ff"/><stop offset=".294" stop-color="#3500ff"/><stop offset=".373" stop-color="#6600ff"/><stop offset=".431" stop-color="#4e00ff"/><stop offset=".5" stop-color="#1700ff"/><stop offset=".539" stop-color="#0a00ff"/><stop offset=".588" stop-color="#0038ff"/><stop offset=".706" stop-color="#00a4ff"/><stop offset=".716" stop-color="#00c3ff"/><stop offset=".725" stop-color="#00f4ff"/><stop offset=".735" stop-color="#00ffc5"/><stop offset=".755" stop-color="#00ff10"/><stop offset=".775" stop-color="#96ff00"/><stop offset=".784" stop-color="#cbff00"/><stop offset=".804" stop-color="#f8ff00"/><stop offset=".863" stop-color="#ffc000"/><stop offset=".902" stop-color="#ffcb00"/><stop offset=".951" stop-color="#feff00"/><stop offset="1" stop-color="#f3ff00"/></linearGradient>
<linearGradient id="H7" x2="0" y2="1"><stop offset="0" stop-color="#1d00ff"/><stop offset=".176" stop-color="#4400ff"/><stop offset=".333" stop-color="#3100ff"/><stop offset=".402" stop-color="#4e00ff"/><stop offset=".48" stop-color="#0800ff"/><stop offset=".529" stop-color="#1200ff"/><stop offset=".549" stop-color="#0000ff"/><stop offset=".637" stop-color="#0077ff"/><stop offset=".706" stop-color="#009dff"/><stop offset=".716" stop-color="#00b6ff"/><stop offset=".725" stop-color="#00e1ff"/><stop offset=".735" stop-color="#00ffdf"/><stop offset=".755" stop-color="#00ff41"/><stop offset=".765" stop-color="#14ff00"/><stop offset=".784" stop-color="#a2ff00"/><stop offset=".794" stop-color="#caff00"/><stop offset=".824" stop-color="#f5ff00"/><stop offset=".902" stop-color="#fff700"/><stop offset="1" stop-color="#ecff00"/></linearGradient>
<linearGradient id="H8" x2="0" y2="1"><stop offset="0" stop-color="#2500ff"/><stop offset=".069" stop-color="#3a00ff"/><stop offset=".147" stop-color="#6000ff"/><stop offset=".235" stop-color="#3600ff"/><stop offset=".343" stop-color="#2e00ff"/><stop offset=".402" stop-color="#4700ff"/><stop offset=".48" stop-color="#0d00ff"/><stop offset=".52" stop-color="#1200ff"/><stop offset=".549" stop-color="#0015ff"/><stop offset=".608" stop-color="#0071ff"/><stop offset=".657" stop-color="#007eff"/><stop offset=".696" stop-color="#0086ff"/><stop offset=".716" stop-color="#00a9ff"/><stop offset=".725" stop-color="#00d9ff"/><stop offset=".735" stop-color="#00ffe6"/><stop offset=".755" stop-color="#00ff49"/><stop offset=".765" stop-color="#0eff00"/><stop offset=".784" stop-color="#afff00"/><stop offset=".794" stop-color="#e3ff00"/><stop offset=".804" stop-color="#faff00"/><stop offset=".873" stop-color="#f6ff00"/><stop offset=".941" stop-color="#deff00"/><stop offset="1" stop-color="#edff00"/></linearGradient>
<linearGradient id="H9" x2="0" y2="1"><stop offset="0" stop-color="#1b00ff"/><stop offset=".059" stop-color="#2c00ff"/><stop offset=".127" stop-color="#7b00ff"/><stop offset=".167" stop-color="#6d00ff"/><stop offset=".225" stop-color="#3d00ff"/><stop offset=".343" stop-color="#4c00ff"/><stop offset=".402" stop-color="#6600ff"/><stop offset=".51" stop-color="#1700ff"/><stop offset=".529" stop-color="#0010ff"/><stop offset=".578" stop-color="#006bff"/><stop offset=".627" stop-color="#0084ff"/><stop offset=".686" stop-color="#0084ff"/><stop offset=".706" stop-color="#009eff"/><stop offset=".716" stop-color="#00beff"/><stop offset=".725" stop-color="#00f2ff"/><stop offset=".735" stop-color="#00ffcb"/><stop offset=".755" stop-color="#00ff31"/><stop offset=".765" stop-color="#28ff00"/><stop offset=".784" stop-color="#ceff00"/><stop offset=".794" stop-color="#fffd00"/><stop offset=".804" stop-color="#ffe900"/><stop offset=".892" stop-color="#f4ff00"/><stop offset=".941" stop-color="#edff00"/><stop offset=".99" stop-color="#fff000"/><stop offset="1" stop-color="#fff000"/></linearGradient>
<linearGradient id="H10" x2="0" y2="1"><stop offset="0" stop-color="#2400ff"/><stop offset=".059" stop-color="#2f00ff"/><stop offset=".118" stop-color="#7200ff"/><stop offset=".176" stop-color="#6900ff"/><stop offset=".245" stop-color="#5700ff"/><stop offset=".353" stop-color="#6a00ff"/><stop offset=".412" stop-color="#6f00ff"/><stop offset=".49" stop-color="#2f00ff"/><stop offset=".51" stop-color="#0c00ff"/><stop offset=".539" stop-color="#003cff"/><stop offset=".588" stop-color="#0067ff"/><stop offset=".686" stop-color="#00a6ff"/><stop offset=".706" stop-color="#00d0ff"/><stop offset=".716" stop-color="#00f9ff"/><stop offset=".735" stop-color="#00ff93"/><stop offset=".755" stop-color="#00ff05"/><stop offset=".775" stop-color="#afff00"/><stop offset=".784" stop-color="#f3ff00"/><stop offset=".804" stop-color="#ffd500"/><stop offset=".863" stop-color="#f8ff00"/><stop offset=".941" stop-color="#e3ff00"/><stop offset=".98" stop-color="#fff800"/><stop offset="1" stop-color="#fff800"/></linearGradient>
<linearGradient id="H11" x2="0" y2="1"><stop offset="0" stop-color="#4900ff"/><stop offset=".078" stop-color="#5a00ff"/><stop offset=".157" stop-color="#6c00ff"/><stop offset=".304" stop-color="#5700ff"/><stop offset=".392" stop-color="#6900ff"/><stop offset=".48" stop-color="#4500ff"/><stop offset=".51" stop-color="#0900ff"/><stop offset=".539" stop-color="#003aff"/><stop offset=".598" stop-color="#0047ff"/><stop offset=".696" stop-color="#00f0ff"/><stop offset=".706" stop-color="#00ffe7"/><stop offset=".745" stop-color="#00ff07"/><stop offset=".755" stop-color="#42ff00"/><stop offset=".775" stop-color="#feff00"/><stop offset=".784" stop-color="#ffc100"/><stop offset=".794" stop-color="#ffa200"/><stop offset=".814" stop-color="#ff9e00"/><stop offset=".882" stop-color="#fffd00"/><stop offset=".951" stop-color="#e9ff00"/><stop offset="1" stop-color="#fbff00"/></linearGradient>
<linearGradient id="H12" x2="0" y2="1"><stop offset="0" stop-color="#6800ff"/><stop offset=".216" stop-color="#6700ff"/><stop offset=".294" stop-color="#4000ff"/><stop offset=".382" stop-color="#5800ff"/><stop offset=".48" stop-color="#2d00ff"/><stop offset=".51" stop-color="#0009ff"/><stop offset=".529" stop-color="#003aff"/><stop offset=".559" stop-color="#004bff"/><stop offset=".598" stop-color="#004bff"/><stop offset=".637" stop-color="#0091ff"/><stop offset=".686" stop-color="#00fff9"/><stop offset=".706" stop-color="#00ffb0"/><stop offset=".735" stop-color="#00ff21"/><stop offset=".745" stop-color="#0eff00"/><stop offset=".755" stop-color="#4aff00"/><stop offset=".775" stop-color="#f1ff00"/><stop offset=".794" stop-color="#ffb900"/><stop offset=".814" stop-color="#ffa900"/><stop offset=".912" stop-color="#ffe900"/><stop offset="1" stop-color="#fff200"/></linearGradient>
<linearGradient id="H13" x2="0" y2="1"><stop offset="0" stop-color="#6600ff"/><stop offset=".098" stop-color="#5900ff"/><stop offset=".206" stop-color="#8100ff"/><stop offset=".255" stop-color="#5d00ff"/><stop offset=".304" stop-color="#2c00ff"/><stop offset=".343" stop-color="#4100ff"/><stop offset=".382" stop-color="#5e00ff"/><stop offset=".431" stop-color="#3500ff"/><stop offset=".48" stop-color="#0005ff"/><stop offset=".539" stop-color="#0047ff"/><stop offset=".598" stop-color="#0053ff"/><stop offset=".647" stop-color="#00a3ff"/><stop offset=".676" stop-color="#00f3ff"/><stop offset=".696" stop-color="#00ffc9"/><stop offset=".735" stop-color="#00ff3a"/><stop offset=".755" stop-color="#09ff00"/><stop offset=".775" stop-color="#7bff00"/><stop offset=".794" stop-color="#c1ff00"/><stop offset=".833" stop-color="#fff900"/><stop offset=".882" stop-color="#ffdc00"/><stop offset="1" stop-color="#ffec00"/></linearGradient>
<linearGradient id="H14" x2="0" y2="1"><stop offset="0" stop-color="#5300ff"/><stop offset=".147" stop-color="#6b00ff"/><stop offset=".216" stop-color="#8b00ff"/><stop offset=".255" stop-color="#7200ff"/><stop offset=".304" stop-color="#3d00ff"/><stop offset=".333" stop-color="#4e00ff"/><stop offset=".373" stop-color="#8500ff"/><stop offset=".402" stop-color="#7900ff"/><stop offset=".461" stop-color="#0800ff"/><stop offset=".52" stop-color="#0036ff"/><stop offset=".588" stop-color="#004bff"/><stop offset=".637" stop-color="#008fff"/><stop offset=".667" stop-color="#00d4ff"/><stop offset=".676" stop-color="#00f6ff"/><stop offset=".725" stop-color="#00ff5d"/><stop offset=".755" stop-color="#00ff23"/><stop offset=".765" stop-color="#00ff03"/><stop offset=".794" stop-color="#56ff00"/><stop offset=".853" stop-color="#e3ff00"/><stop offset=".892" stop-color="#fff700"/><stop offset="1" stop-color="#fff900"/></linearGradient>
<linearGradient id="H15" x2="0" y2="1"><stop offset="0" stop-color="#4600ff"/><stop offset=".059" stop-color="#5600ff"/><stop offset=".118" stop-color="#6600ff"/><stop offset=".225" stop-color="#8900ff"/><stop offset=".314" stop-color="#6f00ff"/><stop offset=".373" stop-color="#a600ff"/><stop offset=".392" stop-color="#9b00ff"/><stop offset=".461" stop-color="#0006ff"/><stop offset=".49" stop-color="#003eff"/><stop offset=".569" stop-color="#004eff"/><stop offset=".627" stop-color="#008eff"/><stop offset=".657" stop-color="#00c7ff"/><stop offset=".667" stop-color="#00e9ff"/><stop offset=".676" stop-color="#00ffed"/><stop offset=".706" stop-color="#00ff73"/><stop offset=".735" stop-color="#00ff43"/><stop offset=".775" stop-color="#00ff1d"/><stop offset=".794" stop-color="#07ff00"/><stop offset=".824" stop-color="#5dff00"/><stop offset=".843" stop-color="#a1ff00"/><stop offset=".892" stop-color="#dfff00"/><stop offset=".951" stop-color="#feff00"/><stop offset="1" stop-color="#f3ff00"/></linearGradient>
<linearGradient id="H16" x2="0" y2="1"><stop offset="0" stop-color="#4d00ff"/><stop offset=".059" stop-color="#5a00ff"/><stop offset=".216" stop-color="#9200ff"/><stop offset=".353" stop-color="#9800ff"/><stop offset=".382" stop-color="#9a00ff"/><stop offset=".422" stop-color="#5600ff"/><stop offset=".451" stop-color="#0d00ff"/><stop offset=".471" stop-color="#0026ff"/><stop offset=".5" stop-color="#0042ff"/><stop offset=".559" stop-color="#0043ff"/><stop offset=".618" stop-color="#009cff"/><stop offset=".657" stop-color="#00f6ff"/><stop offset=".676" stop-color="#00ffbb"/><stop offset=".706" stop-color="#00ff48"/><stop offset=".735" stop-color="#00ff26"/><stop offset=".775" stop-color="#00ff17"/><stop offset=".794" stop-color="#03ff00"/><stop offset=".824" stop-color="#51ff00"/><stop offset=".843" stop-color="#90ff00"/><stop offset=".882" stop-color="#ccff00"/><stop offset=".951" stop-color="#f8ff00"/><stop offset="1" stop-color="#f0ff00"/></linearGradient>
<linearGradient id="H17" x2="0" y2="1"><stop offset="0" stop-color="#7100ff"/><stop offset=".137" stop-color="#7d00ff"/><stop offset=".196" stop-color="#8800ff"/><stop offset=".255" stop-color="#8900ff"/><stop offset=".314" stop-color="#8d00ff"/><stop offset=".392" stop-color="#6f00ff"/><stop offset=".451" stop-color="#1300ff"/><stop offset=".461" stop-color="#0100ff"/><stop offset=".5" stop-color="#001bff"/><stop offset=".549" stop-color="#0027ff"/><stop offset=".588" stop-color="#006cff"/><stop offset=".647" stop-color="#00fffb"/><stop offset=".696" stop-color="#00ff43"/><stop offset=".716" stop-color="#00ff1e"/><stop offset=".775" stop-color="#06ff00"/><stop offset=".814" stop-color="#40ff00"/><stop offset=".873" stop-color="#c0ff00"/><stop offset=".941" stop-color="#ebff00"/><stop offset="1" stop-color="#f1ff00"/></linearGradient>
<linearGradient id="H18" x2="0" y2="1"><stop offset="0" stop-color="#8400ff"/><stop offset=".069" stop-color="#8100ff"/><stop offset=".118" stop-color="#7b00ff"/><stop offset=".167" stop-color="#8500ff"/><stop offset=".225" stop-color="#5c00ff"/><stop offset=".324" stop-color="#8b00ff"/><stop offset=".431" stop-color="#5000ff"/><stop offset=".51" stop-color="#0100ff"/><stop offset=".588" stop-color="#0080ff"/><stop offset=".637" stop-color="#00edff"/><stop offset=".647" stop-color="#00fff0"/><stop offset=".696" stop-color="#00ff38"/><stop offset=".725" stop-color="#00ff18"/><stop offset=".775" stop-color="#0dff00"/><stop offset=".853" stop-color="#87ff00"/><stop offset=".882" stop-color="#c4ff00"/><stop offset="1" stop-color="#ebff00"/></linearGradient>
<linearGradient id="H19" x2="0" y2="1"><stop offset="0" stop-color="#7200ff"/><stop offset=".167" stop-color="#7d00ff"/><stop offset=".235" stop-color="#5c00ff"/><stop offset=".333" stop-color="#9c00ff"/><stop offset=".471" stop-color="#5000ff"/><stop offset=".5" stop-color="#2000ff"/><stop offset=".51" stop-color="#0500ff"/><stop offset=".559" stop-color="#006dff"/><stop offset=".627" stop-color="#00c8ff"/><stop offset=".647" stop-color="#00fff8"/><stop offset=".686" stop-color="#00ff50"/><stop offset=".706" stop-color="#00ff21"/><stop offset=".765" stop-color="#0cff00"/><stop offset=".853" stop-color="#80ff00"/><stop offset=".882" stop-color="#c3ff00"/><stop offset="1" stop-color="#d4ff00"/></linearGradient>
<linearGradient id="H20" x2="0" y2="1"><stop offset="0" stop-color="#5600ff"/><stop offset=".059" stop-color="#6400ff"/><stop offset=".118" stop-color="#8400ff"/><stop offset=".216" stop-color="#8600ff"/><stop offset=".333" stop-color="#8800ff"/><stop offset=".412" stop-color="#5300ff"/><stop offset=".471" stop-color="#4a00ff"/><stop offset=".5" stop-color="#1e00ff"/><stop offset=".51" stop-color="#0400ff"/><stop offset=".549" stop-color="#005dff"/><stop offset=".618" stop-color="#0095ff"/><stop offset=".637" stop-color="#00c3ff"/><stop offset=".647" stop-color="#00e8ff"/><stop offset=".657" stop-color="#00ffe9"/><stop offset=".686" stop-color="#00ff5e"/><stop offset=".706" stop-color="#00ff2c"/><stop offset=".755" stop-color="#05ff00"/><stop offset=".853" stop-color="#76ff00"/><stop offset=".882" stop-color="#a8ff00"/><stop offset="1" stop-color="#b7ff00"/></linearGradient>
<linearGradient id="H21" x2="0" y2="1"><stop offset="0" stop-color="#5d00ff"/><stop offset=".049" stop-color="#6700ff"/><stop offset=".098" stop-color="#8e00ff"/><stop offset=".167" stop-color="#7d00ff"/><stop offset=".245" stop-color="#af00ff"/><stop offset=".294" stop-color="#9100ff"/><stop offset=".402" stop-color="#4a00ff"/><stop offset=".48" stop-color="#3700ff"/><stop offset=".51" stop-color="#0a00ff"/><stop offset=".549" stop-color="#0056ff"/><stop offset=".618" stop-color="#0090ff"/><stop offset=".637" stop-color="#00bdff"/><stop offset=".657" stop-color="#00fff4"/><stop offset=".686" stop-color="#00ff72"/><stop offset=".725" stop-color="#00ff28"/><stop offset=".755" stop-color="#00ff01"/><stop offset=".833" stop-color="#3cff00"/><stop offset=".882" stop-color="#71ff00"/><stop offset=".922" stop-color="#91ff00"/><stop offset="1" stop-color="#aeff00"/></linearGradient>
<linearGradient id="H22" x2="0" y2="1"><stop offset="0" stop-color="#8200ff"/><stop offset=".098" stop-color="#9b00ff"/><stop offset=".167" stop-color="#7d00ff"/><stop offset=".245" stop-color="#b000ff"/><stop offset=".284" stop-color="#9500ff"/><stop offset=".343" stop-color="#6200ff"/><stop offset=".461" stop-color="#2c00ff"/><stop offset=".52" stop-color="#0007ff"/><stop offset=".549" stop-color="#0049ff"/><stop offset=".618" stop-color="#00a1ff"/><stop offset=".647" stop-color="#00f2ff"/><stop offset=".667" stop-color="#00ffbc"/><stop offset=".686" stop-color="#00ff75"/><stop offset=".775" stop-color="#00ff08"/><stop offset=".824" stop-color="#18ff00"/><stop offset=".951" stop-color="#8dff00"/><stop offset="1" stop-color="#9fff00"/></linearGradient>
<linearGradient id="H23" x2="0" y2="1"><stop offset="0" stop-color="#8500ff"/><stop offset=".098" stop-color="#9f00ff"/><stop offset=".196" stop-color="#8f00ff"/><stop offset=".255" stop-color="#a600ff"/><stop offset=".373" stop-color="#4500ff"/><stop offset=".5" stop-color="#0003ff"/><stop offset=".539" stop-color="#0032ff"/><stop offset=".608" stop-color="#009cff"/><stop offset=".647" stop-color="#00fdff"/><stop offset=".686" stop-color="#00ff7d"/><stop offset=".745" stop-color="#00ff53"/><stop offset=".814" stop-color="#07ff00"/><stop offset=".892" stop-color="#6aff00"/><stop offset="1" stop-color="#89ff00"/></linearGradient>
<linearGradient id="H24" x2="0" y2="1"><stop offset="0" stop-color="#7500ff"/><stop offset=".049" stop-color="#8900ff"/><stop offset=".147" stop-color="#a500ff"/><stop offset=".206" stop-color="#8f00ff"/><stop offset=".275" stop-color="#9b00ff"/><stop offset=".343" stop-color="#5400ff"/><stop offset=".402" stop-color="#1300ff"/><stop offset=".461" stop-color="#0f00ff"/><stop offset=".5" stop-color="#001fff"/><stop offset=".608" stop-color="#00b9ff"/><stop offset=".647" stop-color="#00fff7"/><stop offset=".686" stop-color="#00ff7c"/><stop offset=".755" stop-color="#00ff52"/><stop offset=".814" stop-color="#06ff00"/><stop offset=".892" stop-color="#87ff00"/><stop offset=".961" stop-color="#8aff00"/><stop offset="1" stop-color="#9aff00"/></linearGradient>
<linearGradient id="H25" x2="0" y2="1"><stop offset="0" stop-color="#6800ff"/><stop offset=".098" stop-color="#8f00ff"/><stop offset=".157" stop-color="#a500ff"/><stop offset=".235" stop-color="#9400ff"/><stop offset=".314" stop-color="#8500ff"/><stop offset=".353" stop-color="#5800ff"/><stop offset=".402" stop-color="#1600ff"/><stop offset=".451" stop-color="#1600ff"/><stop offset=".471" stop-color="#0006ff"/><stop offset=".529" stop-color="#0064ff"/><stop offset=".637" stop-color="#00f7ff"/><stop offset=".657" stop-color="#00ffcd"/><stop offset=".686" stop-color="#00ff65"/><stop offset=".735" stop-color="#00ff40"/><stop offset=".794" stop-color="#00ff16"/><stop offset=".814" stop-color="#09ff00"/><stop offset=".892" stop-color="#98ff00"/><stop offset=".961" stop-color="#9eff00"/><stop offset="1" stop-color="#adff00"/></linearGradient>
<linearGradient id="H26" x2="0" y2="1"><stop offset="0" stop-color="#6e00ff"/><stop offset=".108" stop-color="#8600ff"/><stop offset=".167" stop-color="#9d00ff"/><stop offset=".333" stop-color="#7d00ff"/><stop offset=".402" stop-color="#1400ff"/><stop offset=".451" stop-color="#0004ff"/><stop offset=".5" stop-color="#0042ff"/><stop offset=".559" stop-color="#0074ff"/><stop offset=".627" stop-color="#00d8ff"/><stop offset=".647" stop-color="#00fff3"/><stop offset=".686" stop-color="#00ff5e"/><stop offset=".725" stop-color="#00ff39"/><stop offset=".794" stop-color="#00ff10"/><stop offset=".833" stop-color="#18ff00"/><stop offset=".873" stop-color="#4aff00"/><stop offset=".902" stop-color="#7cff00"/><stop offset="1" stop-color="#94ff00"/></linearGradient>
<linearGradient id="H27" x2="0" y2="1"><stop offset="0" stop-color="#8900ff"/><stop offset=".059" stop-color="#7700ff"/><stop offset=".108" stop-color="#6300ff"/><stop offset=".206" stop-color="#9200ff"/><stop offset=".294" stop-color="#8400ff"/><stop offset=".333" stop-color="#7b00ff"/><stop offset=".382" stop-color="#2300ff"/><stop offset=".402" stop-color="#0005ff"/><stop offset=".48" stop-color="#003cff"/><stop offset=".539" stop-color="#0046ff"/><stop offset=".598" stop-color="#00a3ff"/><stop offset=".637" stop-color="#00f8ff"/><stop offset=".676" stop-color="#00ff75"/><stop offset=".696" stop-color="#00ff52"/><stop offset=".784" stop-color="#00ff21"/><stop offset=".843" stop-color="#00ff03"/><stop offset=".873" stop-color="#16ff00"/><stop offset=".931" stop-color="#78ff00"/><stop offset="1" stop-color="#8bff00"/></linearGradient>
<linearGradient id="H28" x2="0" y2="1"><stop offset="0" stop-color="#a700ff"/><stop offset=".049" stop-color="#9e00ff"/><stop offset=".108" stop-color="#5b00ff"/><stop offset=".147" stop-color="#6a00ff"/><stop offset=".206" stop-color="#9600ff"/><stop offset=".284" stop-color="#7c00ff"/><stop offset=".324" stop-color="#7400ff"/><stop offset=".373" stop-color="#2000ff"/><stop offset=".382" stop-color="#0600ff"/><stop offset=".412" stop-color="#0037ff"/><stop offset=".529" stop-color="#004fff"/><stop offset=".569" stop-color="#0084ff"/><stop offset=".627" stop-color="#00fff8"/><stop offset=".676" stop-color="#00ff48"/><stop offset=".696" stop-color="#00ff35"/><stop offset=".755" stop-color="#00ff2b"/><stop offset=".824" stop-color="#00ff06"/><stop offset=".873" stop-color="#0dff00"/><stop offset=".941" stop-color="#81ff00"/><stop offset="1" stop-color="#91ff00"/></linearGradient>
<linearGradient id="H29" x2="0" y2="1"><stop offset="0" stop-color="#be00ff"/><stop offset=".049" stop-color="#b000ff"/><stop offset=".108" stop-color="#6500ff"/><stop offset=".147" stop-color="#6900ff"/><stop offset=".206" stop-color="#9600ff"/><stop offset=".314" stop-color="#6b00ff"/><stop offset=".363" stop-color="#0e00ff"/><stop offset=".373" stop-color="#000aff"/><stop offset=".402" stop-color="#0055ff"/><stop offset=".441" stop-color="#005eff"/><stop offset=".5" stop-color="#0064ff"/><stop offset=".559" stop-color="#00a0ff"/><stop offset=".608" stop-color="#00f6ff"/><stop offset=".618" stop-color="#00fff2"/><stop offset=".667" stop-color="#00ff31"/><stop offset=".686" stop-color="#00ff0b"/><stop offset=".755" stop-color="#00ff1c"/><stop offset=".833" stop-color="#09ff00"/><stop offset=".902" stop-color="#41ff00"/><stop offset=".941" stop-color="#7cff00"/><stop offset="1" stop-color="#91ff00"/></linearGradient>
<linearGradient id="H30" x2="0" y2="1"><stop offset="0" stop-color="#b700ff"/><stop offset=".059" stop-color="#a000ff"/><stop offset=".137" stop-color="#6300ff"/><stop offset=".255" stop-color="#7500ff"/><stop offset=".304" stop-color="#6600ff"/><stop offset=".363" stop-color="#0200ff"/><stop offset=".402" stop-color="#004bff"/><stop offset=".471" stop-color="#005cff"/><stop offset=".598" stop-color="#00f7ff"/><stop offset=".618" stop-color="#00ffe1"/><stop offset=".667" stop-color="#00ff25"/><stop offset=".676" stop-color="#00ff09"/><stop offset=".716" stop-color="#00ff03"/><stop offset=".765" stop-color="#00ff26"/><stop offset=".804" stop-color="#00ff0c"/><stop offset=".833" stop-color="#1bff00"/><stop offset=".882" stop-color="#48ff00"/><stop offset=".98" stop-color="#92ff00"/><stop offset="1" stop-color="#92ff00"/></linearGradient>
<linearGradient id="H31" x2="0" y2="1"><stop offset="0" stop-color="#9c00ff"/><stop offset=".098" stop-color="#9100ff"/><stop offset=".186" stop-color="#6100ff"/><stop offset=".284" stop-color="#6c00ff"/><stop offset=".314" stop-color="#5500ff"/><stop offset=".363" stop-color="#0400ff"/><stop offset=".402" stop-color="#002eff"/><stop offset=".451" stop-color="#0039ff"/><stop offset=".539" stop-color="#00c8ff"/><stop offset=".598" stop-color="#00feff"/><stop offset=".627" stop-color="#00ffc4"/><stop offset=".676" stop-color="#00ff17"/><stop offset=".706" stop-color="#00ff01"/><stop offset=".775" stop-color="#00ff23"/><stop offset=".814" stop-color="#02ff00"/><stop offset=".882" stop-color="#5eff00"/><stop offset=".971" stop-color="#99ff00"/><stop offset="1" stop-color="#9cff00"/></linearGradient>
<linearGradient id="H32" x2="0" y2="1"><stop offset="0" stop-color="#b000ff"/><stop offset=".078" stop-color="#b800ff"/><stop offset=".176" stop-color="#7500ff"/><stop offset=".275" stop-color="#8100ff"/><stop offset=".304" stop-color="#6c00ff"/><stop offset=".353" stop-color="#0100ff"/><stop offset=".402" stop-color="#0027ff"/><stop offset=".441" stop-color="#002eff"/><stop offset=".49" stop-color="#0077ff"/><stop offset=".569" stop-color="#00e9ff"/><stop offset=".598" stop-color="#00fff4"/><stop offset=".627" stop-color="#00ffb8"/><stop offset=".667" stop-color="#00ff3d"/><stop offset=".686" stop-color="#00ff1e"/><stop offset=".784" stop-color="#00ff15"/><stop offset=".814" stop-color="#03ff00"/><stop offset=".912" stop-color="#7bff00"/><stop offset=".951" stop-color="#89ff00"/><stop offset="1" stop-color="#82ff00"/></linearGradient>
<linearGradient id="H33" x2="0" y2="1"><stop offset="0" stop-color="#d800ff"/><stop offset=".078" stop-color="#d900ff"/><stop offset=".167" stop-color="#7f00ff"/><stop offset=".225" stop-color="#8000ff"/><stop offset=".275" stop-color="#7900ff"/><stop offset=".304" stop-color="#5a00ff"/><stop offset=".343" stop-color="#0003ff"/><stop offset=".382" stop-color="#0022ff"/><stop offset=".441" stop-color="#0033ff"/><stop offset=".549" stop-color="#00b9ff"/><stop offset=".588" stop-color="#00fdff"/><stop offset=".627" stop-color="#00ffa5"/><stop offset=".667" stop-color="#00ff37"/><stop offset=".696" stop-color="#00ff26"/><stop offset=".765" stop-color="#00ff10"/><stop offset=".794" stop-color="#0bff00"/><stop offset=".873" stop-color="#55ff00"/><stop offset=".99" stop-color="#64ff00"/><stop offset="1" stop-color="#64ff00"/></linearGradient>
<linearGradient id="H34" x2="0" y2="1"><stop offset="0" stop-color="#dd00ff"/><stop offset=".088" stop-color="#cf00ff"/><stop offset=".186" stop-color="#7800ff"/><stop offset=".255" stop-color="#6e00ff"/><stop offset=".304" stop-color="#3c00ff"/><stop offset=".333" stop-color="#0500ff"/><stop offset=".431" stop-color="#002fff"/><stop offset=".51" stop-color="#0072ff"/><stop offset=".549" stop-color="#0095ff"/><stop offset=".598" stop-color="#00ffff"/><stop offset=".657" stop-color="#00ff35"/><stop offset=".676" stop-color="#00ff17"/><stop offset=".735" stop-color="#00ff0f"/><stop offset=".765" stop-color="#09ff00"/><stop offset=".853" stop-color="#47ff00"/><stop offset=".941" stop-color="#4bff00"/><stop offset="1" stop-color="#5eff00"/></linearGradient>
<linearGradient id="H35" x2="0" y2="1"><stop offset="0" stop-color="#bc00ff"/><stop offset=".127" stop-color="#af00ff"/><stop offset=".196" stop-color="#8400ff"/><stop offset=".245" stop-color="#8100ff"/><stop offset=".314" stop-color="#1d00ff"/><stop offset=".333" stop-color="#0005ff"/><stop offset=".422" stop-color="#0036ff"/><stop offset=".529" stop-color="#0079ff"/><stop offset=".569" stop-color="#009eff"/><stop offset=".598" stop-color="#00e0ff"/><stop offset=".608" stop-color="#00fff9"/><stop offset=".657" stop-color="#00ff3a"/><stop offset=".676" stop-color="#00ff18"/><stop offset=".755" stop-color="#0aff00"/><stop offset=".931" stop-color="#3aff00"/><stop offset=".98" stop-color="#6bff00"/><stop offset="1" stop-color="#6bff00"/></linearGradient>
<linearGradient id="H36" x2="0" y2="1"><stop offset="0" stop-color="#a300ff"/><stop offset=".137" stop-color="#9e00ff"/><stop offset=".216" stop-color="#7f00ff"/><stop offset=".245" stop-color="#7500ff"/><stop offset=".314" stop-color="#0400ff"/><stop offset=".343" stop-color="#0020ff"/><stop offset=".441" stop-color="#004cff"/><stop offset=".5" stop-color="#006fff"/><stop offset=".588" stop-color="#00beff"/><stop offset=".608" stop-color="#00edff"/><stop offset=".618" stop-color="#00ffee"/><stop offset=".657" stop-color="#00ff60"/><stop offset=".676" stop-color="#00ff36"/><stop offset=".745" stop-color="#00ff06"/><stop offset=".824" stop-color="#00ff12"/><stop offset=".873" stop-color="#0eff00"/><stop offset=".931" stop-color="#2fff00"/><stop offset=".98" stop-color="#66ff00"/><stop offset="1" stop-color="#66ff00"/></linearGradient>
<linearGradient id="H37" x2="0" y2="1"><stop offset="0" stop-color="#9f00ff"/><stop offset=".059" stop-color="#9300ff"/><stop offset=".127" stop-color="#7d00ff"/><stop offset=".245" stop-color="#4d00ff"/><stop offset=".304" stop-color="#0800ff"/><stop offset=".422" stop-color="#003dff"/><stop offset=".49" stop-color="#0058ff"/><stop offset=".598" stop-color="#00d0ff"/><stop offset=".618" stop-color="#00fffb"/><stop offset=".667" stop-color="#00ff57"/><stop offset=".716" stop-color="#00ff11"/><stop offset=".755" stop-color="#00ff04"/><stop offset=".824" stop-color="#00ff13"/><stop offset=".863" stop-color="#0eff00"/><stop offset=".951" stop-color="#4dff00"/><stop offset=".99" stop-color="#60ff00"/><stop offset="1" stop-color="#60ff00"/></linearGradient>
<linearGradient id="H38" x2="0" y2="1"><stop offset="0" stop-color="#9f00ff"/><stop offset=".059" stop-color="#9200ff"/><stop offset=".118" stop-color="#6e00ff"/><stop offset=".196" stop-color="#5700ff"/><stop offset=".294" stop-color="#1000ff"/><stop offset=".333" stop-color="#000aff"/><stop offset=".49" stop-color="#004dff"/><stop offset=".529" stop-color="#0070ff"/><stop offset=".588" stop-color="#00c5ff"/><stop offset=".618" stop-color="#00fdff"/><stop offset=".676" stop-color="#00ff41"/><stop offset=".716" stop-color="#00ff00"/><stop offset=".755" stop-color="#16ff00"/><stop offset=".824" stop-color="#0aff00"/><stop offset=".941" stop-color="#45ff00"/><stop offset=".99" stop-color="#5dff00"/><stop offset="1" stop-color="#5dff00"/></linearGradient>
<linearGradient id="H39" x2="0" y2="1"><stop offset="0" stop-color="#a600ff"/><stop offset=".059" stop-color="#a500ff"/><stop offset=".137" stop-color="#7100ff"/><stop offset=".216" stop-color="#4f00ff"/><stop offset=".294" stop-color="#0002ff"/><stop offset=".382" stop-color="#0054ff"/><stop offset=".51" stop-color="#005aff"/><stop offset=".549" stop-color="#0087ff"/><stop offset=".608" stop-color="#00e0ff"/><stop offset=".618" stop-color="#00fbff"/><stop offset=".676" stop-color="#00ff3e"/><stop offset=".716" stop-color="#06ff00"/><stop offset=".755" stop-color="#19ff00"/><stop offset=".814" stop-color="#07ff00"/><stop offset=".873" stop-color="#1fff00"/><stop offset=".931" stop-color="#20ff00"/><stop offset=".99" stop-color="#3dff00"/><stop offset="1" stop-color="#3dff00"/></linearGradient>
<linearGradient id="H40" x2="0" y2="1"><stop offset="0" stop-color="#9300ff"/><stop offset=".078" stop-color="#9800ff"/><stop offset=".157" stop-color="#6c00ff"/><stop offset=".225" stop-color="#6500ff"/><stop offset=".255" stop-color="#4600ff"/><stop offset=".284" stop-color="#0700ff"/><stop offset=".353" stop-color="#0063ff"/><stop offset=".412" stop-color="#006dff"/><stop offset=".549" stop-color="#007cff"/><stop offset=".598" stop-color="#00beff"/><stop offset=".618" stop-color="#00f5ff"/><stop offset=".667" stop-color="#00ff60"/><stop offset=".696" stop-color="#00ff28"/><stop offset=".735" stop-color="#00ff00"/><stop offset=".814" stop-color="#00ff07"/><stop offset=".882" stop-color="#15ff00"/><stop offset="1" stop-color="#15ff00"/></linearGradient>
<linearGradient id="H41" x2="0" y2="1"><stop offset="0" stop-color="#7400ff"/><stop offset=".098" stop-color="#7a00ff"/><stop offset=".176" stop-color="#6000ff"/><stop offset=".235" stop-color="#5f00ff"/><stop offset=".265" stop-color="#3700ff"/><stop offset=".284" stop-color="#0800ff"/><stop offset=".353" stop-color="#0057ff"/><stop offset=".49" stop-color="#008fff"/><stop offset=".549" stop-color="#0076ff"/><stop offset=".578" stop-color="#0091ff"/><stop offset=".608" stop-color="#00d2ff"/><stop offset=".618" stop-color="#00f1ff"/><stop offset=".637" stop-color="#00ffca"/><stop offset=".676" stop-color="#00ff58"/><stop offset=".735" stop-color="#00ff12"/><stop offset="1" stop-color="#00ff0f"/></linearGradient>
<linearGradient id="H42" x2="0" y2="1"><stop offset="0" stop-color="#6a00ff"/><stop offset=".118" stop-color="#5800ff"/><stop offset=".186" stop-color="#4000ff"/><stop offset=".245" stop-color="#3a00ff"/><stop offset=".275" stop-color="#0700ff"/><stop offset=".373" stop-color="#005cff"/><stop offset=".51" stop-color="#0091ff"/><stop offset=".549" stop-color="#008eff"/><stop offset=".588" stop-color="#00bfff"/><stop offset=".618" stop-color="#00fff5"/><stop offset=".676" stop-color="#00ff57"/><stop offset=".745" stop-color="#00ff13"/><stop offset=".853" stop-color="#00ff14"/><stop offset="1" stop-color="#00ff08"/></linearGradient>
<linearGradient id="H43" x2="0" y2="1"><stop offset="0" stop-color="#6000ff"/><stop offset=".235" stop-color="#3600ff"/><stop offset=".275" stop-color="#0009ff"/><stop offset=".304" stop-color="#0031ff"/><stop offset=".382" stop-color="#0069ff"/><stop offset=".451" stop-color="#006eff"/><stop offset=".569" stop-color="#00bfff"/><stop offset=".608" stop-color="#00fdff"/><stop offset=".676" stop-color="#00ff63"/><stop offset=".784" stop-color="#01ff00"/><stop offset=".843" stop-color="#0bff00"/><stop offset=".892" stop-color="#03ff00"/><stop offset=".98" stop-color="#1bff00"/><stop offset="1" stop-color="#1bff00"/></linearGradient>
<linearGradient id="H44" x2="0" y2="1"><stop offset="0" stop-color="#6b00ff"/><stop offset=".108" stop-color="#4f00ff"/><stop offset=".206" stop-color="#5700ff"/><stop offset=".245" stop-color="#3e00ff"/><stop offset=".275" stop-color="#0500ff"/><stop offset=".353" stop-color="#005cff"/><stop offset=".402" stop-color="#005eff"/><stop offset=".451" stop-color="#005cff"/><stop offset=".559" stop-color="#00b3ff"/><stop offset=".608" stop-color="#00f6ff"/><stop offset=".637" stop-color="#00ffc4"/><stop offset=".676" stop-color="#00ff76"/><stop offset=".755" stop-color="#00ff22"/><stop offset=".794" stop-color="#04ff00"/><stop offset=".853" stop-color="#10ff00"/><stop offset=".902" stop-color="#06ff00"/><stop offset="1" stop-color="#26ff00"/></linearGradient>
<linearGradient id="H45" x2="0" y2="1"><stop offset="0" stop-color="#7b00ff"/><stop offset=".147" stop-color="#5500ff"/><stop offset=".216" stop-color="#3c00ff"/><stop offset=".245" stop-color="#2e00ff"/><stop offset=".275" stop-color="#0002ff"/><stop offset=".314" stop-color="#002cff"/><stop offset=".382" stop-color="#0048ff"/><stop offset=".451" stop-color="#004aff"/><stop offset=".529" stop-color="#0089ff"/><stop offset=".618" stop-color="#00fff6"/><stop offset=".667" stop-color="#00ff90"/><stop offset=".735" stop-color="#00ff54"/><stop offset=".794" stop-color="#00ff03"/><stop offset=".853" stop-color="#0aff00"/><stop offset=".931" stop-color="#04ff00"/><stop offset="1" stop-color="#19ff00"/></linearGradient>
<linearGradient id="H46" x2="0" y2="1"><stop offset="0" stop-color="#6c00ff"/><stop offset=".088" stop-color="#6900ff"/><stop offset=".225" stop-color="#0400ff"/><stop offset=".294" stop-color="#0035ff"/><stop offset=".49" stop-color="#006fff"/><stop offset=".618" stop-color="#00fffc"/><stop offset=".667" stop-color="#00ff93"/><stop offset=".725" stop-color="#00ff74"/><stop offset=".794" stop-color="#00ff04"/><stop offset=".863" stop-color="#0fff00"/><stop offset="1" stop-color="#23ff00"/></linearGradient>
<linearGradient id="H47" x2="0" y2="1"><stop offset="0" stop-color="#4e00ff"/><stop offset=".078" stop-color="#5300ff"/><stop offset=".196" stop-color="#1000ff"/><stop offset=".225" stop-color="#000aff"/><stop offset=".275" stop-color="#0042ff"/><stop offset=".353" stop-color="#0061ff"/><stop offset=".422" stop-color="#0084ff"/><stop offset=".5" stop-color="#008dff"/><stop offset=".598" stop-color="#00dbff"/><stop offset=".618" stop-color="#00fffc"/><stop offset=".667" stop-color="#00ff7f"/><stop offset=".696" stop-color="#00ff6b"/><stop offset=".735" stop-color="#00ff67"/><stop offset=".814" stop-color="#00ff03"/><stop offset=".931" stop-color="#3cff00"/><stop offset="1" stop-color="#3dff00"/></linearGradient>
<linearGradient id="H48" x2="0" y2="1"><stop offset="0" stop-color="#5f00ff"/><stop offset=".127" stop-color="#4900ff"/><stop offset=".206" stop-color="#1d00ff"/><stop offset=".235" stop-color="#0007ff"/><stop offset=".275" stop-color="#004eff"/><stop offset=".382" stop-color="#0081ff"/><stop offset=".471" stop-color="#0089ff"/><stop offset=".598" stop-color="#00e7ff"/><stop offset=".618" stop-color="#00fff6"/><stop offset=".676" stop-color="#00ff6f"/><stop offset=".706" stop-color="#00ff55"/><stop offset=".765" stop-color="#00ff43"/><stop offset=".824" stop-color="#02ff00"/><stop offset=".882" stop-color="#2dff00"/><stop offset=".971" stop-color="#38ff00"/><stop offset="1" stop-color="#36ff00"/></linearGradient>
<linearGradient id="H49" x2="0" y2="1"><stop offset="0" stop-color="#7100ff"/><stop offset=".127" stop-color="#5500ff"/><stop offset=".225" stop-color="#1d00ff"/><stop offset=".245" stop-color="#0008ff"/><stop offset=".275" stop-color="#0046ff"/><stop offset=".324" stop-color="#006fff"/><stop offset=".451" stop-color="#007cff"/><stop offset=".627" stop-color="#00fff7"/><stop offset=".706" stop-color="#00ff64"/><stop offset=".784" stop-color="#00ff34"/><stop offset=".843" stop-color="#01ff00"/><stop offset=".941" stop-color="#16ff00"/><stop offset="1" stop-color="#0aff00"/></linearGradient>
<linearGradient id="H50" x2="0" y2="1"><stop offset="0" stop-color="#5f00ff"/><stop offset=".137" stop-color="#4e00ff"/><stop offset=".235" stop-color="#1800ff"/><stop offset=".245" stop-color="#0200ff"/><stop offset=".275" stop-color="#0040ff"/><stop offset=".324" stop-color="#006eff"/><stop offset=".451" stop-color="#007dff"/><stop offset=".559" stop-color="#00c9ff"/><stop offset=".618" stop-color="#00fffe"/><stop offset=".706" stop-color="#00ff63"/><stop offset=".784" stop-color="#00ff44"/><stop offset=".853" stop-color="#00ff0f"/><stop offset=".941" stop-color="#00ff01"/><stop offset="1" stop-color="#00ff12"/></linearGradient>
<linearGradient id="H51" x2="0" y2="1"><stop offset="0" stop-color="#4d00ff"/><stop offset=".118" stop-color="#3b00ff"/><stop offset=".225" stop-color="#1500ff"/><stop offset=".235" stop-color="#0600ff"/><stop offset=".275" stop-color="#004eff"/><stop offset=".343" stop-color="#007fff"/><stop offset=".471" stop-color="#0089ff"/><stop offset=".618" stop-color="#00fff8"/><stop offset=".696" stop-color="#00ff49"/><stop offset=".735" stop-color="#00ff48"/><stop offset=".775" stop-color="#00ff49"/><stop offset=".853" stop-color="#01ff00"/><stop offset=".922" stop-color="#0fff00"/><stop offset=".98" stop-color="#00ff0f"/><stop offset="1" stop-color="#00ff0f"/></linearGradient>
<linearGradient id="H52" x2="0" y2="1"><stop offset="0" stop-color="#3400ff"/><stop offset=".039" stop-color="#2600ff"/><stop offset=".088" stop-color="#0300ff"/><stop offset=".186" stop-color="#2600ff"/><stop offset=".225" stop-color="#0c00ff"/><stop offset=".245" stop-color="#0019ff"/><stop offset=".275" stop-color="#0044ff"/><stop offset=".382" stop-color="#0081ff"/><stop offset=".5" stop-color="#009fff"/><stop offset=".578" stop-color="#00e0ff"/><stop offset=".618" stop-color="#00edff"/><stop offset=".627" stop-color="#00fbff"/><stop offset=".667" stop-color="#00ff9d"/><stop offset=".696" stop-color="#00ff53"/><stop offset=".725" stop-color="#00ff47"/><stop offset=".775" stop-color="#00ff4d"/><stop offset=".843" stop-color="#04ff00"/><stop offset=".882" stop-color="#1fff00"/><stop offset=".941" stop-color="#00ff08"/><stop offset=".99" stop-color="#00ff1f"/><stop offset="1" stop-color="#00ff1f"/></linearGradient>
<linearGradient id="H53" x2="0" y2="1"><stop offset="0" stop-color="#2900ff"/><stop offset=".039" stop-color="#1c00ff"/><stop offset=".078" stop-color="#000aff"/><stop offset=".118" stop-color="#000dff"/><stop offset=".167" stop-color="#1300ff"/><stop offset=".206" stop-color="#1100ff"/><stop offset=".225" stop-color="#0001ff"/><stop offset=".265" stop-color="#0032ff"/><stop offset=".324" stop-color="#004aff"/><stop offset=".382" stop-color="#0071ff"/><stop offset=".51" stop-color="#009aff"/><stop offset=".569" stop-color="#00e4ff"/><stop offset=".627" stop-color="#00edff"/><stop offset=".647" stop-color="#00fff2"/><stop offset=".696" stop-color="#00ff80"/><stop offset=".735" stop-color="#00ff72"/><stop offset=".775" stop-color="#00ff72"/><stop offset=".833" stop-color="#00ff21"/><stop offset=".863" stop-color="#02ff00"/><stop offset=".912" stop-color="#00ff08"/><stop offset=".971" stop-color="#00ff2a"/><stop offset="1" stop-color="#00ff2a"/></linearGradient>
<linearGradient id="H54" x2="0" y2="1"><stop offset="0" stop-color="#2c00ff"/><stop offset=".059" stop-color="#1700ff"/><stop offset=".118" stop-color="#0002ff"/><stop offset=".216" stop-color="#000eff"/><stop offset=".265" stop-color="#002dff"/><stop offset=".304" stop-color="#0033ff"/><stop offset=".363" stop-color="#006fff"/><stop offset=".49" stop-color="#007fff"/><stop offset=".539" stop-color="#00baff"/><stop offset=".578" stop-color="#00edff"/><stop offset=".637" stop-color="#00fffd"/><stop offset=".706" stop-color="#00ff94"/><stop offset=".765" stop-color="#00ff97"/><stop offset=".804" stop-color="#00ff67"/><stop offset=".863" stop-color="#00ff1a"/><stop offset=".922" stop-color="#00ff26"/><stop offset="1" stop-color="#00ff36"/></linearGradient>
<linearGradient id="H55" x2="0" y2="1"><stop offset="0" stop-color="#1c00ff"/><stop offset=".196" stop-color="#0100ff"/><stop offset=".235" stop-color="#0010ff"/><stop offset=".314" stop-color="#003dff"/><stop offset=".373" stop-color="#0066ff"/><stop offset=".471" stop-color="#0078ff"/><stop offset=".578" stop-color="#00deff"/><stop offset=".627" stop-color="#00ecff"/><stop offset=".647" stop-color="#00fffa"/><stop offset=".706" stop-color="#00ff94"/><stop offset=".775" stop-color="#00ff95"/><stop offset=".863" stop-color="#00ff27"/><stop offset=".912" stop-color="#00ff33"/><stop offset=".98" stop-color="#00ff49"/><stop offset="1" stop-color="#00ff49"/></linearGradient>
<linearGradient id="H56" x2="0" y2="1"><stop offset="0" stop-color="#1400ff"/><stop offset=".078" stop-color="#0900ff"/><stop offset=".206" stop-color="#1500ff"/><stop offset=".225" stop-color="#0000ff"/><stop offset=".265" stop-color="#0029ff"/><stop offset=".333" stop-color="#003eff"/><stop offset=".412" stop-color="#004bff"/><stop offset=".471" stop-color="#006cff"/><stop offset=".549" stop-color="#00d6ff"/><stop offset=".627" stop-color="#00e5ff"/><stop offset=".647" stop-color="#00fffd"/><stop offset=".696" stop-color="#00ff99"/><stop offset=".735" stop-color="#00ff8a"/><stop offset=".784" stop-color="#00ff87"/><stop offset=".853" stop-color="#00ff39"/><stop offset=".912" stop-color="#00ff4e"/><stop offset="1" stop-color="#00ff4f"/></linearGradient>
<linearGradient id="H57" x2="0" y2="1"><stop offset="0" stop-color="#2200ff"/><stop offset=".078" stop-color="#1700ff"/><stop offset=".147" stop-color="#2700ff"/><stop offset=".206" stop-color="#0c00ff"/><stop offset=".216" stop-color="#0004ff"/><stop offset=".245" stop-color="#003fff"/><stop offset=".284" stop-color="#0047ff"/><stop offset=".363" stop-color="#0026ff"/><stop offset=".461" stop-color="#005dff"/><stop offset=".539" stop-color="#00d8ff"/><stop offset=".627" stop-color="#00edff"/><stop offset=".647" stop-color="#00fff3"/><stop offset=".696" stop-color="#00ff9c"/><stop offset=".775" stop-color="#00ff8e"/><stop offset=".843" stop-color="#00ff37"/><stop offset=".882" stop-color="#00ff41"/><stop offset=".922" stop-color="#00ff52"/><stop offset="1" stop-color="#00ff37"/></linearGradient>
<linearGradient id="H58" x2="0" y2="1"><stop offset="0" stop-color="#2b00ff"/><stop offset=".078" stop-color="#1700ff"/><stop offset=".137" stop-color="#2c00ff"/><stop offset=".206" stop-color="#0200ff"/><stop offset=".245" stop-color="#0050ff"/><stop offset=".284" stop-color="#0050ff"/><stop offset=".343" stop-color="#002cff"/><stop offset=".451" stop-color="#0060ff"/><stop offset=".529" stop-color="#00d6ff"/><stop offset=".627" stop-color="#00f2ff"/><stop offset=".637" stop-color="#00fffe"/><stop offset=".696" stop-color="#00ff9c"/><stop offset=".775" stop-color="#00ffa0"/><stop offset=".843" stop-color="#00ff35"/><stop offset=".882" stop-color="#00ff35"/><stop offset=".922" stop-color="#00ff40"/><stop offset=".99" stop-color="#00ff1b"/><stop offset="1" stop-color="#00ff1b"/></linearGradient>
<linearGradient id="H59" x2="0" y2="1"><stop offset="0" stop-color="#2b00ff"/><stop offset=".078" stop-color="#1700ff"/><stop offset=".137" stop-color="#2c00ff"/><stop offset=".206" stop-color="#0200ff"/><stop offset=".245" stop-color="#0050ff"/><stop offset=".284" stop-color="#0050ff"/><stop offset=".343" stop-color="#002cff"/><stop offset=".451" stop-color="#0060ff"/><stop offset=".529" stop-color="#00d6ff"/><stop offset=".627" stop-color="#00f2ff"/><stop offset=".637" stop-color="#00fffe"/><stop offset=".696" stop-color="#00ff9c"/><stop offset=".775" stop-color="#00ffa0"/><stop offset=".843" stop-color="#00ff35"/><stop offset=".882" stop-color="#00ff35"/><stop offset=".922" stop-color="#00ff40"/><stop offset=".99" stop-color="#00ff1b"/><stop offset="1" stop-color="#00ff1b"/></linearGradient>
<linearGradient id="H60" x2="0" y2="1"><stop offset="0" stop-color="#2b00ff"/><stop offset=".078" stop-color="#1700ff"/><stop offset=".137" stop-color="#2c00ff"/><stop offset=".206" stop-color="#0200ff"/><stop offset=".245" stop-color="#0050ff"/><stop offset=".284" stop-color="#0050ff"/><stop offset=".343" stop-color="#002cff"/><stop offset=".451" stop-color="#0060ff"/><stop offset=".529" stop-color="#00d6ff"/><stop offset=".627" stop-color="#00f2ff"/><stop offset=".637" stop-color="#00fffe"/><stop offset=".696" stop-color="#00ff9c"/><stop offset=".775" stop-color="#00ffa0"/><stop offset=".843" stop-color="#00ff35"/><stop offset=".882" stop-color="#00ff35"/><stop offset=".922" stop-color="#00ff40"/><stop offset=".99" stop-color="#00ff1b"/><stop offset="1" stop-color="#00ff1b"/></linearGradient>
</defs>
<rect width="545" height="550" fill="#fff"/>
<path d="M45.8 112.5L47.3 112.5 48.8 112.5 50.3 112.5 51.8 112.5 53.3 112.5 54.8 112.5 56.3 112.5 57.8 112.5 59.3 112.5 60.8 112.5 62.3 112.5 63.8 112.5 65.3 112.5 66.8 112.5 68.3 112.5 69.8 112.5 71.3 112.5 72.8 112.5 74.3 112.5 75.8 112.5 77.3 112.5 78.8 112.5 80.3 112.5 81.8 112.5 83.3 112.4 84.8 112.4 86.3 112.3 87.8 112.2 89.3 112 90.8 111.7 92.3 111.1 93.8 110.2 95.3 109.2 96.8 107.9 98.3 106.5 99.8 104.9 101.3 103.1 102.8 100.9 104.3 98.4 105.8 95.5 107.3 92.3 108.8 88.9 110.3 85.4 111.8 81.8 113.3 78.1 114.8 74.2 116.3 70.4 117.8 66.5 119.3 62.6 120.8 58.7 122.3 54.8 123.8 50.9 125.3 47 126.8 43.2 128.3 39.4 129.8 35.8 131.3 32.5 132.8 29.3 134.3 26.3 135.8 23.6 137.3 21.3 138.8 19.4 140.3 17.8 141.8 16.4 143.3 15.2 144.8 14.3 146.3 13.6 147.8 13.1 149.3 12.7 150.8 12.3 152.3 12 153.8 11.8 155.3 11.6 156.8 11.5 158.3 11.4 159.8 11.3 161.3 11.2 162.8 11.1 164.3 11.1 165.8 11.1 167.3 11.1 168.8 11.1 170.3 11.3 171.8 11.4 173.3 11.8 174.8 12.4 176.3 13.2 177.8 14.2 179.3 15.1 180.8 16.1 182.3 17.2 183.8 18.7 185.3 20.8 186.8 23.4 188.3 26.3 189.8 29.2 191.3 32.2 192.8 35.4 194.3 38.7 195.8 42.1 197.3 45.8 198.8 49.5 200.3 53.5 201.8 57.5 203.3 61.8 204.8 66.3 206.3 70.8 207.8 75.3 209.3 79.7 210.8 84.1 212.3 88.5 213.8 92.7 215.3 96.8 216.8 100.6 218.3 104.2 219.8 107.3 221.3 109.8 222.8 111.8 224.3 113.4 225.8 114.7 227.3 115.7 228.8 116.5 230.3 117.2 231.8 117.7 233.3 118.1 234.8 118.4 236.3 118.6 237.8 118.8 239.3 118.9 240.8 119 242.3 119 243.8 119 245.3 119 246.8 119 248.3 119.1 249.8 119.1 251.3 119.1 252.8 119.1 254.3 119.1 255.8 119.1 257.3 119.1 258.8 119.2 260.3 119.2 261.8 119.2 263.3 119.2 264.8 119.2 266.3 119.2 267.8 119.2 269.3 119.2 270.8 119.2 270.8 121.8 269.3 121.8 267.8 121.8 266.3 121.8 264.8 121.8 263.3 121.8 261.8 121.8 260.3 121.8 258.8 121.8 257.3 121.8 255.8 121.8 254.3 121.8 252.8 121.8 251.3 121.8 249.8 121.8 248.3 121.8 246.8 121.8 245.3 121.8 243.8 121.8 242.3 121.8 240.8 121.8 239.3 121.8 237.8 121.8 236.3 121.8 234.8 121.8 233.3 121.8 231.8 121.7 230.3 121.7 228.8 121.7 227.3 121.6 225.8 121.4 224.3 121.3 222.8 121.1 221.3 120.9 219.8 120.7 218.3 120.3 216.8 119.8 215.3 119.2 213.8 118.3 212.3 117.1 210.8 115.6 209.3 114 207.8 112 206.3 109.6 204.8 106.9 203.3 103.9 201.8 100.9 200.3 97.8 198.8 94.7 197.3 91.5 195.8 88.2 194.3 84.8 192.8 81.2 191.3 77.6 189.8 74 188.3 70.4 186.8 66.9 185.3 63.4 183.8 60.1 182.3 56.9 180.8 54 179.3 51.3 177.8 48.8 176.3 46.5 174.8 44.4 173.3 42.6 171.8 40.9 170.3 39.3 168.8 37.9 167.3 36.8 165.8 36 164.3 35.3 162.8 34.9 161.3 34.5 159.8 34.3 158.3 34.4 156.8 34.7 155.3 35.3 153.8 36.1 152.3 37.1 150.8 38.3 149.3 40 147.8 42 146.3 44.2 144.8 46.6 143.3 49.2 141.8 52 140.3 55 138.8 58.2 137.3 61.5 135.8 64.9 134.3 68.5 132.8 72.2 131.3 75.9 129.8 79.7 128.3 83.5 126.8 87.4 125.3 91.1 123.8 94.6 122.3 97.8 120.8 100.8 119.3 103.6 117.8 106.1 116.3 108.3 114.8 110.1 113.3 111.8 111.8 113.4 110.3 114.8 108.8 116.1 107.3 117.4 105.8 118.6 104.3 119.6 102.8 120.4 101.3 120.7 99.8 120.9 98.3 120.9 96.8 121 95.3 121 93.8 121.1 92.3 121.1 90.8 121.2 89.3 121.2 87.8 121.2 86.3 121.2 84.8 121.2 83.3 121.2 81.8 121.2 80.3 121.2 78.8 121.2 77.3 121.2 75.8 121.2 74.3 121.2 72.8 121.2 71.3 121.2 69.8 121.2 68.3 121.2 66.8 121.2 65.3 121.2 63.8 121.2 62.3 121.2 60.8 121.2 59.3 121.2 57.8 121.2 56.3 121.2 54.8 121.2 53.3 121.2 51.8 121.2 50.3 121.2 48.8 121.2 47.3 121.2 45.8 121.2Z" fill="#c1c1c1"/>
<path d="M45.8 117.6L47.3 117.6 48.8 117.6 50.3 117.6 51.8 117.6 53.3 117.6 54.8 117.6 56.3 117.6 57.8 117.6 59.3 117.6 60.8 117.6 62.3 117.6 63.8 117.6 65.3 117.6 66.8 117.6 68.3 117.6 69.8 117.6 71.3 117.6 72.8 117.6 74.3 117.6 75.8 117.6 77.3 117.6 78.8 117.6 80.3 117.6 81.8 117.6 83.3 117.5 84.8 117.4 86.3 117.3 87.8 117.2 89.3 116.9 90.8 116.6 92.3 116.2 93.8 115.7 95.3 115.1 96.8 114.4 98.3 113.7 99.8 112.8 101.3 111.8 102.8 110.6 104.3 109.2 105.8 107.6 107.3 105.7 108.8 103.7 110.3 101.6 111.8 99.3 113.3 97 114.8 94.5 116.3 91.8 117.8 89.1 119.3 86.1 120.8 83.1 122.3 79.9 123.8 76.6 125.3 73.3 126.8 69.8 128.3 66.3 129.8 62.8 131.3 59.3 132.8 55.8 134.3 52.4 135.8 49.1 137.3 46 138.8 42.9 140.3 40 141.8 37.2 143.3 34.7 144.8 32.5 146.3 30.5 147.8 28.8 149.3 27.3 150.8 26 152.3 25 153.8 24.2 155.3 23.6 156.8 23.1 158.3 22.8 159.8 22.7 161.3 22.7 162.8 22.8 164.3 22.9 165.8 23.2 167.3 23.5 168.8 24 170.3 24.7 171.8 25.4 173.3 26.3 174.8 27.3 176.3 28.5 177.8 29.8 179.3 31.3 180.8 32.9 182.3 34.8 183.8 36.9 185.3 39.1 186.8 41.6 188.3 44.3 189.8 47.2 191.3 50.4 192.8 53.7 194.3 57.1 195.8 60.6 197.3 64.2 198.8 67.9 200.3 71.6 201.8 75.4 203.3 79.3 204.8 83.2 206.3 87.2 207.8 90.9 209.3 94.6 210.8 98.1 212.3 101.5 213.8 104.5 215.3 107.2 216.8 109.4 218.3 111.2 219.8 112.8 221.3 114.1 222.8 115.3 224.3 116.3 225.8 117.2 227.3 117.8 228.8 118.4 230.3 118.9 231.8 119.2 233.3 119.4 234.8 119.6 236.3 119.8 237.8 119.9 239.3 119.9 240.8 120 242.3 120 243.8 120 245.3 120.1 246.8 120.1 248.3 120.1 249.8 120.1 251.3 120.1 252.8 120.1 254.3 120.2 255.8 120.2 257.3 120.2 258.8 120.2 260.3 120.2 261.8 120.2 263.3 120.2 264.8 120.2 266.3 120.2 267.8 120.2 269.3 120.2 270.8 120.2" fill="none" stroke="#0c0c0c" stroke-width="1.9" stroke-linejoin="round"/>
<path d="M46 9.5V122.8M45.5 122.3H271.6" fill="none" stroke="#1a1a1a" stroke-width="1"/>
<path d="M46 122.3h2.2" stroke="#1a1a1a" stroke-width="0.9"/>
<text x="41.2" y="125.4" font-size="8.7" text-anchor="end" fill="#1a1a1a" letter-spacing="-0.3">0.0</text>
<path d="M46 99.8h2.2" stroke="#1a1a1a" stroke-width="0.9"/>
<text x="41.2" y="102.9" font-size="8.7" text-anchor="end" fill="#1a1a1a" letter-spacing="-0.3">0.2</text>
<path d="M46 77.4h2.2" stroke="#1a1a1a" stroke-width="0.9"/>
<text x="41.2" y="80.5" font-size="8.7" text-anchor="end" fill="#1a1a1a" letter-spacing="-0.3">0.4</text>
<path d="M46 54.9h2.2" stroke="#1a1a1a" stroke-width="0.9"/>
<text x="41.2" y="58" font-size="8.7" text-anchor="end" fill="#1a1a1a" letter-spacing="-0.3">0.6</text>
<path d="M46 32.5h2.2" stroke="#1a1a1a" stroke-width="0.9"/>
<text x="41.2" y="35.6" font-size="8.7" text-anchor="end" fill="#1a1a1a" letter-spacing="-0.3">0.8</text>
<path d="M46 10h2.2" stroke="#1a1a1a" stroke-width="0.9"/>
<text x="41.2" y="13.1" font-size="8.7" text-anchor="end" fill="#1a1a1a" letter-spacing="-0.3">1.0</text>
<path d="M46 122.3v-2.2" stroke="#1a1a1a" stroke-width="0.9"/>
<text x="46" y="133.5" font-size="8.7" text-anchor="middle" fill="#1a1a1a" letter-spacing="-0.3">6</text>
<path d="M60.1 122.3v-1.3" stroke="#1a1a1a" stroke-width="0.7"/>
<path d="M74.2 122.3v-2.2" stroke="#1a1a1a" stroke-width="0.9"/>
<text x="74.2" y="133.5" font-size="8.7" text-anchor="middle" fill="#1a1a1a" letter-spacing="-0.3">8</text>
<path d="M88.3 122.3v-1.3" stroke="#1a1a1a" stroke-width="0.7"/>
<path d="M102.4 122.3v-2.2" stroke="#1a1a1a" stroke-width="0.9"/>
<text x="102.4" y="133.5" font-size="8.7" text-anchor="middle" fill="#1a1a1a" letter-spacing="-0.3">10</text>
<path d="M116.5 122.3v-1.3" stroke="#1a1a1a" stroke-width="0.7"/>
<path d="M130.6 122.3v-2.2" stroke="#1a1a1a" stroke-width="0.9"/>
<text x="130.6" y="133.5" font-size="8.7" text-anchor="middle" fill="#1a1a1a" letter-spacing="-0.3">12</text>
<path d="M144.7 122.3v-1.3" stroke="#1a1a1a" stroke-width="0.7"/>
<path d="M158.8 122.3v-2.2" stroke="#1a1a1a" stroke-width="0.9"/>
<text x="158.8" y="133.5" font-size="8.7" text-anchor="middle" fill="#1a1a1a" letter-spacing="-0.3">14</text>
<path d="M172.9 122.3v-1.3" stroke="#1a1a1a" stroke-width="0.7"/>
<path d="M187 122.3v-2.2" stroke="#1a1a1a" stroke-width="0.9"/>
<text x="187" y="133.5" font-size="8.7" text-anchor="middle" fill="#1a1a1a" letter-spacing="-0.3">16</text>
<path d="M201.1 122.3v-1.3" stroke="#1a1a1a" stroke-width="0.7"/>
<path d="M215.2 122.3v-2.2" stroke="#1a1a1a" stroke-width="0.9"/>
<text x="215.2" y="133.5" font-size="8.7" text-anchor="middle" fill="#1a1a1a" letter-spacing="-0.3">18</text>
<path d="M229.3 122.3v-1.3" stroke="#1a1a1a" stroke-width="0.7"/>
<path d="M243.4 122.3v-2.2" stroke="#1a1a1a" stroke-width="0.9"/>
<text x="243.4" y="133.5" font-size="8.7" text-anchor="middle" fill="#1a1a1a" letter-spacing="-0.3">20</text>
<path d="M257.5 122.3v-1.3" stroke="#1a1a1a" stroke-width="0.7"/>
<path d="M271.6 122.3v-2.2" stroke="#1a1a1a" stroke-width="0.9"/>
<text x="271.6" y="133.5" font-size="8.7" text-anchor="middle" fill="#1a1a1a" letter-spacing="-0.3">22</text>
<text x="20.5" y="17.8" font-size="11" text-anchor="middle" fill="#1a1a1a">(A)</text>
<text x="56" y="25" font-size="12.4" text-anchor="start" fill="#1a1a1a">SST curve</text>
<text transform="translate(23.2 66.5) rotate(-90)" font-size="8.6" text-anchor="middle" fill="#1a1a1a">HSI</text>
<path d="M305.1 121.9L306.6 121.7 308.1 121.4 309.6 121 311.1 120.6 312.6 120.1 314.1 119.6 315.6 119.1 317.1 118.5 318.6 117.9 320.1 117.3 321.6 116.7 323.1 116.1 324.6 115.4 326.1 114.6 327.6 113.7 329.1 112.7 330.6 111.4 332.1 109.8 333.6 107.9 335.1 105.9 336.6 103.9 338.1 102 339.6 100.1 341.1 98.2 342.6 96.3 344.1 94.3 345.6 92.2 347.1 90 348.6 87.7 350.1 85.3 351.6 82.9 353.1 80.6 354.6 78.4 356.1 76.1 357.6 73.9 359.1 71.7 360.6 69.5 362.1 67.4 363.6 65.2 365.1 63 366.6 60.9 368.1 58.7 369.6 56.4 371.1 54.1 372.6 51.8 374.1 49.4 375.6 47.1 377.1 44.8 378.6 42.5 380.1 40.2 381.6 38 383.1 35.9 384.6 33.7 386.1 31.6 387.6 29.6 389.1 27.5 390.6 25.5 392.1 23.7 393.6 22 395.1 20.6 396.6 19.3 398.1 18 399.6 16.9 401.1 16 402.6 15.1 404.1 14.3 405.6 13.6 407.1 13.1 408.6 12.7 410.1 12.4 411.6 12.2 413.1 12 414.6 11.9 416.1 11.8 417.6 11.7 419.1 11.7 420.6 11.6 422.1 11.6 423.6 11.6 425.1 11.6 426.6 11.6 428.1 11.6 429.6 11.7 431.1 11.8 432.6 11.9 434.1 12 435.6 12.1 437.1 12.2 438.6 12.4 440.1 12.5 441.6 12.7 443.1 12.8 444.6 12.9 446.1 13.1 447.6 13.2 449.1 13.4 450.6 13.5 452.1 13.7 453.6 13.8 455.1 14 456.6 14.2 458.1 14.3 459.6 14.5 461.1 14.7 462.6 14.9 464.1 15 465.6 15.2 467.1 15.5 468.6 15.7 470.1 15.9 471.6 16.2 473.1 16.5 474.6 16.8 476.1 17.2 477.6 17.7 479.1 18.3 480.6 18.8 482.1 19.3 483.6 19.6 485.1 20 486.6 20.3 488.1 20.7 489.6 21 491.1 21.3 492.6 21.6 494.1 21.8 495.6 22.1 497.1 22.4 498.6 22.7 500.1 23 501.6 23.2 503.1 23.5 504.6 23.8 506.1 24 507.6 24.3 509.1 24.5 510.6 24.8 512.1 25 513.6 25.3 515.1 25.6 516.6 25.8 518.1 26.1 519.6 26.4 521.1 26.6 522.6 26.9 524.1 27.2 525.6 27.4 527.1 27.7 528.6 27.9 530.1 28.1 530.1 115 528.6 114.8 527.1 114.5 525.6 114.3 524.1 114.1 522.6 113.8 521.1 113.6 519.6 113.4 518.1 113.2 516.6 113 515.1 112.8 513.6 112.6 512.1 112.4 510.6 112.3 509.1 112.1 507.6 112 506.1 111.8 504.6 111.7 503.1 111.5 501.6 111.4 500.1 111.2 498.6 111 497.1 110.8 495.6 110.5 494.1 110.3 492.6 109.9 491.1 109.5 489.6 109.1 488.1 108.4 486.6 107.7 485.1 106.8 483.6 105.8 482.1 104.8 480.6 103.8 479.1 102.8 477.6 101.7 476.1 100.4 474.6 99.1 473.1 97.5 471.6 95.8 470.1 93.9 468.6 91.9 467.1 89.9 465.6 88.1 464.1 86.3 462.6 84.5 461.1 82.8 459.6 81 458.1 79.2 456.6 77.4 455.1 75.4 453.6 73.4 452.1 71.3 450.6 69.2 449.1 67 447.6 64.9 446.1 62.8 444.6 60.6 443.1 58.5 441.6 56.5 440.1 54.4 438.6 52.3 437.1 50.3 435.6 48.3 434.1 46.4 432.6 44.6 431.1 42.8 429.6 41.1 428.1 39.5 426.6 37.8 425.1 36.1 423.6 34.5 422.1 33.2 420.6 32.2 419.1 31.4 417.6 30.7 416.1 30.2 414.6 29.8 413.1 29.6 411.6 29.7 410.1 29.9 408.6 30.2 407.1 30.8 405.6 31.6 404.1 32.8 402.6 34.1 401.1 35.6 399.6 37.3 398.1 39.1 396.6 41.1 395.1 43.1 393.6 45.1 392.1 47.2 390.6 49.4 389.1 51.6 387.6 53.8 386.1 56 384.6 58.2 383.1 60.4 381.6 62.5 380.1 64.7 378.6 66.9 377.1 69.1 375.6 71.3 374.1 73.5 372.6 75.7 371.1 77.9 369.6 80.1 368.1 82.2 366.6 84.3 365.1 86.4 363.6 88.4 362.1 90.5 360.6 92.6 359.1 94.8 357.6 96.9 356.1 99 354.6 101.1 353.1 103.1 351.6 105.1 350.1 107.1 348.6 109 347.1 110.8 345.6 112.4 344.1 113.8 342.6 115.1 341.1 116.2 339.6 117.1 338.1 117.8 336.6 118.3 335.1 118.6 333.6 118.9 332.1 119.1 330.6 119.3 329.1 119.5 327.6 119.8 326.1 120 324.6 120.3 323.1 120.5 321.6 120.7 320.1 120.9 318.6 121 317.1 121.2 315.6 121.3 314.1 121.5 312.6 121.6 311.1 121.7 309.6 121.8 308.1 121.9 306.6 122 305.1 122Z" fill="#c1c1c1"/>
<path d="M305.1 121.9L306.6 121.6 308.1 121.3 309.6 120.9 311.1 120.6 312.6 120.3 314.1 120 315.6 119.7 317.1 119.5 318.6 119.2 320.1 118.9 321.6 118.6 323.1 118.2 324.6 117.8 326.1 117.3 327.6 116.8 329.1 116.2 330.6 115.5 332.1 114.7 333.6 113.8 335.1 112.7 336.6 111.6 338.1 110.4 339.6 109 341.1 107.5 342.6 105.9 344.1 104.2 345.6 102.5 347.1 100.7 348.6 98.8 350.1 96.9 351.6 94.9 353.1 92.9 354.6 90.8 356.1 88.7 357.6 86.6 359.1 84.5 360.6 82.4 362.1 80.2 363.6 78 365.1 75.9 366.6 73.7 368.1 71.5 369.6 69.3 371.1 67.2 372.6 65.1 374.1 63 375.6 60.9 377.1 58.8 378.6 56.6 380.1 54.5 381.6 52.3 383.1 50.1 384.6 47.9 386.1 45.7 387.6 43.5 389.1 41.2 390.6 39 392.1 36.9 393.6 34.9 395.1 33 396.6 31.2 398.1 29.5 399.6 27.9 401.1 26.5 402.6 25.2 404.1 24.1 405.6 23.2 407.1 22.5 408.6 22 410.1 21.6 411.6 21.4 413.1 21.4 414.6 21.5 416.1 21.6 417.6 21.8 419.1 22.1 420.6 22.6 422.1 23.2 423.6 24 425.1 24.8 426.6 25.7 428.1 26.6 429.6 27.6 431.1 28.7 432.6 29.8 434.1 30.9 435.6 31.9 437.1 33 438.6 34 440.1 35 441.6 36 443.1 37 444.6 37.9 446.1 38.8 447.6 39.7 449.1 40.6 450.6 41.6 452.1 42.6 453.6 43.7 455.1 44.9 456.6 46 458.1 47.1 459.6 48.3 461.1 49.4 462.6 50.6 464.1 51.7 465.6 52.8 467.1 53.9 468.6 54.9 470.1 55.9 471.6 56.9 473.1 57.8 474.6 58.7 476.1 59.5 477.6 60.2 479.1 60.9 480.6 61.6 482.1 62.2 483.6 62.8 485.1 63.3 486.6 63.8 488.1 64.3 489.6 64.7 491.1 65 492.6 65.3 494.1 65.6 495.6 65.8 497.1 66.1 498.6 66.4 500.1 66.6 501.6 66.9 503.1 67.2 504.6 67.5 506.1 67.8 507.6 68 509.1 68.3 510.6 68.6 512.1 68.8 513.6 69.1 515.1 69.3 516.6 69.6 518.1 69.9 519.6 70.2 521.1 70.5 522.6 70.8 524.1 71.1 525.6 71.4 527.1 71.7 528.6 72 530.1 72.3" fill="none" stroke="#0c0c0c" stroke-width="1.9" stroke-linejoin="round"/>
<path d="M305 9.5V122.8M304.5 122.3H530.8" fill="none" stroke="#1a1a1a" stroke-width="1"/>
<path d="M305 122.3h2.2" stroke="#1a1a1a" stroke-width="0.9"/>
<path d="M305 99.8h2.2" stroke="#1a1a1a" stroke-width="0.9"/>
<path d="M305 77.4h2.2" stroke="#1a1a1a" stroke-width="0.9"/>
<path d="M305 54.9h2.2" stroke="#1a1a1a" stroke-width="0.9"/>
<path d="M305 32.5h2.2" stroke="#1a1a1a" stroke-width="0.9"/>
<path d="M305 10h2.2" stroke="#1a1a1a" stroke-width="0.9"/>
<path d="M305 122.3v-2.2" stroke="#1a1a1a" stroke-width="0.9"/>
<text x="305" y="133.5" font-size="8.7" text-anchor="middle" fill="#1a1a1a" letter-spacing="-0.3">0</text>
<path d="M321.1 122.3v-1.3" stroke="#1a1a1a" stroke-width="0.7"/>
<path d="M337.2 122.3v-2.2" stroke="#1a1a1a" stroke-width="0.9"/>
<text x="337.2" y="133.5" font-size="8.7" text-anchor="middle" fill="#1a1a1a" letter-spacing="-0.3">20</text>
<path d="M353.4 122.3v-1.3" stroke="#1a1a1a" stroke-width="0.7"/>
<path d="M369.5 122.3v-2.2" stroke="#1a1a1a" stroke-width="0.9"/>
<text x="369.5" y="133.5" font-size="8.7" text-anchor="middle" fill="#1a1a1a" letter-spacing="-0.3">40</text>
<path d="M385.6 122.3v-1.3" stroke="#1a1a1a" stroke-width="0.7"/>
<path d="M401.8 122.3v-2.2" stroke="#1a1a1a" stroke-width="0.9"/>
<text x="401.8" y="133.5" font-size="8.7" text-anchor="middle" fill="#1a1a1a" letter-spacing="-0.3">60</text>
<path d="M417.9 122.3v-1.3" stroke="#1a1a1a" stroke-width="0.7"/>
<path d="M434 122.3v-2.2" stroke="#1a1a1a" stroke-width="0.9"/>
<text x="434" y="133.5" font-size="8.7" text-anchor="middle" fill="#1a1a1a" letter-spacing="-0.3">80</text>
<path d="M450.1 122.3v-1.3" stroke="#1a1a1a" stroke-width="0.7"/>
<path d="M466.2 122.3v-2.2" stroke="#1a1a1a" stroke-width="0.9"/>
<text x="466.2" y="133.5" font-size="8.7" text-anchor="middle" fill="#1a1a1a" letter-spacing="-0.3">100</text>
<path d="M482.4 122.3v-1.3" stroke="#1a1a1a" stroke-width="0.7"/>
<path d="M498.5 122.3v-2.2" stroke="#1a1a1a" stroke-width="0.9"/>
<text x="498.5" y="133.5" font-size="8.7" text-anchor="middle" fill="#1a1a1a" letter-spacing="-0.3">120</text>
<path d="M514.6 122.3v-1.3" stroke="#1a1a1a" stroke-width="0.7"/>
<path d="M530.8 122.3v-2.2" stroke="#1a1a1a" stroke-width="0.9"/>
<text x="530.8" y="133.5" font-size="8.7" text-anchor="middle" fill="#1a1a1a" letter-spacing="-0.3">140</text>
<text x="285.5" y="17.8" font-size="11" text-anchor="middle" fill="#1a1a1a">(B)</text>
<text x="316.5" y="25" font-size="12.4" text-anchor="start" fill="#1a1a1a">SSH curve</text>
<rect x="74.6" y="516.6" width="168.1" height="5.0" fill="url(#cbA)" stroke="#1a1a1a" stroke-width="0.7"/>
<path d="M74.6 516.6L63.2 519.1L74.6 521.6Z" fill="#ff00ff" stroke="#1a1a1a" stroke-width="0.6"/>
<path d="M242.7 516.6L254.4 519.1L242.7 521.6Z" fill="#ff0000" stroke="#1a1a1a" stroke-width="0.6"/>
<path d="M74.6 516.6V521.6" stroke="#1a1a1a" stroke-width="0.7"/>
<path d="M88.6 521.6v-1.8" stroke="#1a1a1a" stroke-width="0.6"/>
<text x="74.6" y="532.4" font-size="8.7" text-anchor="middle" fill="#1a1a1a" letter-spacing="-0.3">4</text>
<path d="M102.6 516.6V521.6" stroke="#1a1a1a" stroke-width="0.7"/>
<path d="M116.6 521.6v-1.8" stroke="#1a1a1a" stroke-width="0.6"/>
<text x="102.6" y="532.4" font-size="8.7" text-anchor="middle" fill="#1a1a1a" letter-spacing="-0.3">8</text>
<path d="M130.6 516.6V521.6" stroke="#1a1a1a" stroke-width="0.7"/>
<path d="M144.6 521.6v-1.8" stroke="#1a1a1a" stroke-width="0.6"/>
<text x="130.6" y="532.4" font-size="8.7" text-anchor="middle" fill="#1a1a1a" letter-spacing="-0.3">12</text>
<path d="M158.6 516.6V521.6" stroke="#1a1a1a" stroke-width="0.7"/>
<path d="M172.7 521.6v-1.8" stroke="#1a1a1a" stroke-width="0.6"/>
<text x="158.6" y="532.4" font-size="8.7" text-anchor="middle" fill="#1a1a1a" letter-spacing="-0.3">16</text>
<path d="M186.7 516.6V521.6" stroke="#1a1a1a" stroke-width="0.7"/>
<path d="M200.7 521.6v-1.8" stroke="#1a1a1a" stroke-width="0.6"/>
<text x="186.7" y="532.4" font-size="8.7" text-anchor="middle" fill="#1a1a1a" letter-spacing="-0.3">20</text>
<path d="M214.7 516.6V521.6" stroke="#1a1a1a" stroke-width="0.7"/>
<path d="M228.7 521.6v-1.8" stroke="#1a1a1a" stroke-width="0.6"/>
<text x="214.7" y="532.4" font-size="8.7" text-anchor="middle" fill="#1a1a1a" letter-spacing="-0.3">24</text>
<path d="M242.7 516.6V521.6" stroke="#1a1a1a" stroke-width="0.7"/>
<text x="242.7" y="532.4" font-size="8.7" text-anchor="middle" fill="#1a1a1a" letter-spacing="-0.3">28</text>
<text x="158.6" y="542.5" font-size="8.4" text-anchor="middle" fill="#1a1a1a" letter-spacing="-0.3">SST (°C)</text>
<rect x="333.4" y="516.6" width="168.6" height="5.0" fill="url(#cbB)" stroke="#1a1a1a" stroke-width="0.7"/>
<path d="M333.4 516.6L322 519.1L333.4 521.6Z" fill="#ff00ff" stroke="#1a1a1a" stroke-width="0.6"/>
<path d="M502 516.6L513.8 519.1L502 521.6Z" fill="#ff0000" stroke="#1a1a1a" stroke-width="0.6"/>
<path d="M333.4 516.6V521.6" stroke="#1a1a1a" stroke-width="0.7"/>
<path d="M347.4 521.6v-1.8" stroke="#1a1a1a" stroke-width="0.6"/>
<text x="333.4" y="532.4" font-size="8.7" text-anchor="middle" fill="#1a1a1a" letter-spacing="-0.3">0</text>
<path d="M361.5 516.6V521.6" stroke="#1a1a1a" stroke-width="0.7"/>
<path d="M375.6 521.6v-1.8" stroke="#1a1a1a" stroke-width="0.6"/>
<text x="361.5" y="532.4" font-size="8.7" text-anchor="middle" fill="#1a1a1a" letter-spacing="-0.3">30</text>
<path d="M389.6 516.6V521.6" stroke="#1a1a1a" stroke-width="0.7"/>
<path d="M403.6 521.6v-1.8" stroke="#1a1a1a" stroke-width="0.6"/>
<text x="389.6" y="532.4" font-size="8.7" text-anchor="middle" fill="#1a1a1a" letter-spacing="-0.3">60</text>
<path d="M417.7 516.6V521.6" stroke="#1a1a1a" stroke-width="0.7"/>
<path d="M431.8 521.6v-1.8" stroke="#1a1a1a" stroke-width="0.6"/>
<text x="417.7" y="532.4" font-size="8.7" text-anchor="middle" fill="#1a1a1a" letter-spacing="-0.3">90</text>
<path d="M445.8 516.6V521.6" stroke="#1a1a1a" stroke-width="0.7"/>
<path d="M459.9 521.6v-1.8" stroke="#1a1a1a" stroke-width="0.6"/>
<text x="445.8" y="532.4" font-size="8.7" text-anchor="middle" fill="#1a1a1a" letter-spacing="-0.3">120</text>
<path d="M473.9 516.6V521.6" stroke="#1a1a1a" stroke-width="0.7"/>
<path d="M487.9 521.6v-1.8" stroke="#1a1a1a" stroke-width="0.6"/>
<text x="473.9" y="532.4" font-size="8.7" text-anchor="middle" fill="#1a1a1a" letter-spacing="-0.3">150</text>
<path d="M502 516.6V521.6" stroke="#1a1a1a" stroke-width="0.7"/>
<text x="502" y="532.4" font-size="8.7" text-anchor="middle" fill="#1a1a1a" letter-spacing="-0.3">180</text>
<text x="417.7" y="542.5" font-size="8.4" text-anchor="middle" fill="#1a1a1a" letter-spacing="-0.3">SSH (cm)</text>
<g clip-path="url(#clipC)"><g filter="url(#hb2)">
<rect x="36" y="146" width="5.5" height="102" fill="url(#C0)"/>
<rect x="41" y="146" width="5.5" height="102" fill="url(#C1)"/>
<rect x="46" y="146" width="5.5" height="102" fill="url(#C2)"/>
<rect x="51" y="146" width="5.5" height="102" fill="url(#C3)"/>
<rect x="56" y="146" width="5.5" height="102" fill="url(#C4)"/>
<rect x="61" y="146" width="5.5" height="102" fill="url(#C5)"/>
<rect x="66" y="146" width="5.5" height="102" fill="url(#C6)"/>
<rect x="71" y="146" width="5.5" height="102" fill="url(#C7)"/>
<rect x="76" y="146" width="5.5" height="102" fill="url(#C8)"/>
<rect x="81" y="146" width="5.5" height="102" fill="url(#C9)"/>
<rect x="86" y="146" width="5.5" height="102" fill="url(#C10)"/>
<rect x="91" y="146" width="5.5" height="102" fill="url(#C11)"/>
<rect x="96" y="146" width="5.5" height="102" fill="url(#C12)"/>
<rect x="101" y="146" width="5.5" height="102" fill="url(#C13)"/>
<rect x="106" y="146" width="5.5" height="102" fill="url(#C14)"/>
<rect x="111" y="146" width="5.5" height="102" fill="url(#C15)"/>
<rect x="116" y="146" width="5.5" height="102" fill="url(#C16)"/>
<rect x="121" y="146" width="5.5" height="102" fill="url(#C17)"/>
<rect x="126" y="146" width="5.5" height="102" fill="url(#C18)"/>
<rect x="131" y="146" width="5.5" height="102" fill="url(#C19)"/>
<rect x="136" y="146" width="5.5" height="102" fill="url(#C20)"/>
<rect x="141" y="146" width="5.5" height="102" fill="url(#C21)"/>
<rect x="146" y="146" width="5.5" height="102" fill="url(#C22)"/>
<rect x="151" y="146" width="5.5" height="102" fill="url(#C23)"/>
<rect x="156" y="146" width="5.5" height="102" fill="url(#C24)"/>
<rect x="161" y="146" width="5.5" height="102" fill="url(#C25)"/>
<rect x="166" y="146" width="5.5" height="102" fill="url(#C26)"/>
<rect x="171" y="146" width="5.5" height="102" fill="url(#C27)"/>
<rect x="176" y="146" width="5.5" height="102" fill="url(#C28)"/>
<rect x="181" y="146" width="5.5" height="102" fill="url(#C29)"/>
<rect x="186" y="146" width="5.5" height="102" fill="url(#C30)"/>
<rect x="191" y="146" width="5.5" height="102" fill="url(#C31)"/>
<rect x="196" y="146" width="5.5" height="102" fill="url(#C32)"/>
<rect x="201" y="146" width="5.5" height="102" fill="url(#C33)"/>
<rect x="206" y="146" width="5.5" height="102" fill="url(#C34)"/>
<rect x="211" y="146" width="5.5" height="102" fill="url(#C35)"/>
<rect x="216" y="146" width="5.5" height="102" fill="url(#C36)"/>
<rect x="221" y="146" width="5.5" height="102" fill="url(#C37)"/>
<rect x="226" y="146" width="5.5" height="102" fill="url(#C38)"/>
<rect x="231" y="146" width="5.5" height="102" fill="url(#C39)"/>
<rect x="236" y="146" width="5.5" height="102" fill="url(#C40)"/>
<rect x="241" y="146" width="5.5" height="102" fill="url(#C41)"/>
<rect x="246" y="146" width="5.5" height="102" fill="url(#C42)"/>
<rect x="251" y="146" width="5.5" height="102" fill="url(#C43)"/>
<rect x="256" y="146" width="5.5" height="102" fill="url(#C44)"/>
<rect x="261" y="146" width="5.5" height="102" fill="url(#C45)"/>
<rect x="266" y="146" width="5.5" height="102" fill="url(#C46)"/>
<rect x="271" y="146" width="5.5" height="102" fill="url(#C47)"/>
<rect x="276" y="146" width="5.5" height="102" fill="url(#C48)"/>
</g></g>
<g clip-path="url(#clipC)">
<path d="M66.5 182L72 177 78 172.5 85 167 91 161.5 96 156 100 151 102.5 147" fill="none" stroke="#7a1030" stroke-width="0.9" stroke-dasharray="2.2 1.6"/>
<path d="M61.3 147L61.5 149.1 61.3 151.3 60.9 153.5 60.6 155.6 60.6 157.8 61 159.9 62 161.9 63.4 163.4 65.2 164.7 66.8 166.2 68.2 167.8 69.4 169.6 70.5 171.5 71.6 173.3 72.7 175.3 72.9 177.3 72 179.3 70.3 180.6 68.3 181.5 66.4 182.6" fill="none" stroke="#10101a" stroke-width="1.0" stroke-linejoin="round" stroke-linecap="round"/>
<path d="M67.5 181.9L69.6 182.1 71.6 182.2 73.6 182.3 75.6 182.3 77.7 182.3 79.7 182.2 81.7 182.2 83.7 182.1 85.8 182 87.8 181.8 89.9 181.7 91.9 181.5 93.9 181.3 96 181 98 180.7 99.9 180.2 101.8 179.6 103.7 178.9 105.6 178.1 107.5 177.3 109.4 176.6 111.4 176.1 113.4 175.9 115.5 175.8 117.5 175.9 119.6 176.2 121.6 176.7 123.6 177.4 125.4 178.2 127.2 179.2 129 180.2 130.8 181.1 132.6 181.9 134.6 182.6 136.5 183 138.5 183.4 140.5 183.7 142.6 184 144.6 184.2 146.7 184.4 148.7 184.6 150.7 184.8 152.7 185 154.7 185.2 156.7 185.3 158.8 185.5 160.8 185.6 162.8 185.6 164.9 185.6 166.9 185.5 168.9 185.3 170.9 185.1 173 184.8 175 184.4 177 184.1 179 183.7 180.9 183.2 182.9 182.8 184.9 182.4 186.9 182 188.9 181.7 190.9 181.5 192.9 181.3 195 181.2 197 181.1 199 181.1 201.1 181 203.1 181 205.1 180.9 207.2 180.9 209.2 180.8 211.2 180.7 213.3 180.5 215.3 180.3 217.3 180.1 219.3 179.8 221.3 179.6 223.3 179.3 225.3 179 227.3 178.7 229.4 178.3 231.4 178 233.4 177.7 235.4 177.4 237.4 177.1 239.4 176.7 241.4 176.4 243.4 176.1 245.4 175.7 247.4 175.4 249.4 175 251.4 174.7 253.4 174.3 255.4 173.9 257.4 173.5 259.3 173 261.3 172.5 263.3 172 265.2 171.5 267.2 171 269.1 170.4 271.1 169.7" fill="none" stroke="#10101a" stroke-width="1.0" stroke-linejoin="round" stroke-linecap="round"/>
<path d="M51 189.6L52.9 190.2 54.9 190.8 56.8 191.3 58.8 191.8 60.8 192.2 62.8 192.6 64.8 192.9 66.8 193.1 68.8 193.4 70.8 193.5 72.8 193.7 74.8 193.7 76.8 193.8 78.9 193.7 80.9 193.6 82.9 193.5 84.9 193.3 86.9 192.9 88.9 192.6 90.9 192.2 92.9 191.9 94.9 191.8 96.9 192 98.8 192.4 100.7 193 102.7 193.7 104.6 194.5 106.5 195.2 108.5 195.9 110.4 196.4 112.4 196.9 114.4 197.3 116.3 197.6 118.3 197.9 120.3 198.1 122.4 198.3 124.4 198.4 126.4 198.4 128.4 198.5 130.5 198.4 132.5 198.4 134.5 198.3 136.6 198.2 138.6 198.1 140.6 198.1 142.6 198.1 144.6 198.2 146.6 198.5 148.6 198.9 150.5 199.4 152.5 199.9 154.5 200.3 156.5 200.7 158.5 201.1 160.5 201.4 162.5 201.7 164.5 202 166.5 202.2 168.5 202.4 170.5 202.4 172.5 202.3 174.5 202.2 176.5 202 178.5 201.8 180.5 201.5 182.6 201.3 184.6 201 186.6 200.7 188.6 200.5 190.6 200.3 192.6 200.2 194.7 200 196.7 199.9 198.7 199.8 200.7 199.8 202.7 199.7 204.8 199.7 206.8 199.6 208.8 199.6 210.8 199.5 212.8 199.5 214.8 199.4 216.9 199.3 218.9 199.2 220.9 199 222.9 198.9 224.9 198.7 226.9 198.5 228.9 198.2 230.9 198 232.9 197.7 234.9 197.4 236.9 197.1 238.9 196.8 240.9 196.5 242.9 196.2 244.9 195.9 246.9 195.6 248.9 195.3 250.9 195 252.9 194.8 254.9 194.5 257 194.3 259 194.1 261 193.9 263 193.8 265 193.6 267 193.6 269.1 193.5 271.1 193.5" fill="none" stroke="#10101a" stroke-width="1.0" stroke-linejoin="round" stroke-linecap="round"/>
<path d="M54 147L53.5 154.3 53.8 159.8 53.4 164.2 53.2 168 53.8 169.3 54.6 169.2 55.7 167.5 56.8 166.9 58 167.8 57.6 163.6 56.3 160.3 57 158.7 56.7 154.8 57.5 152.3 59 151.3 61 151.6 62.4 153.4 63.4 155.8 63.3 153.2 62.4 150.6 61.8 147Z" fill="#fff" stroke="#111" stroke-width="0.9" stroke-linejoin="round"/>
<path d="M52.9 173L55.6 175.6 58.6 177.6 61.6 179.4 64.2 180.6 66.2 182 66.6 183.5 64.6 185 61.8 185.8 60.2 187.5 58.4 190 56.6 189.2 53.9 187.6 51.7 186.6 50.3 186.8 49.2 188.4 48 189.4 47 188 48.2 185.8 50.2 184.5 51.2 182.5 51.8 179.8 52.1 176.5Z" fill="#fff" stroke="#111" stroke-width="0.9" stroke-linejoin="round"/>
<path d="M45 189.8L47.6 190 49.6 190.6 51 193 52 197.2 53 200.5 52.8 203.5 52.2 205.8 50.9 207.6 50 210 49.8 213 49.6 216 49 219 49.1 222 48.2 225 47.4 227.5 45 228.5Z" fill="#fff" stroke="#111" stroke-width="0.9" stroke-linejoin="round"/>
<path d="M45 147L47.8 147 47.5 152 47.2 157 46.9 161 45 163Z" fill="#fff" stroke="#111" stroke-width="0.9" stroke-linejoin="round"/>
</g>
<rect x="78.9" y="179.4" width="8.8" height="6.4" fill="#fff"/>
<text x="83.3" y="184.9" font-size="6.5" text-anchor="middle" font-weight="bold" fill="#000" letter-spacing="-0.2">12</text>
<rect x="78.9" y="190.5" width="8.8" height="6.4" fill="#fff"/>
<text x="83.3" y="196" font-size="6.5" text-anchor="middle" font-weight="bold" fill="#000" letter-spacing="-0.2">17</text>
<text x="267.4" y="160" font-size="8.6" text-anchor="end" font-weight="bold" fill="#fff">P1 (1999–2001)</text>
<rect x="46" y="147.9" width="225.3" height="98.2" fill="none" stroke="#0a0a0a" stroke-width="1.3"/>
<path d="M46 148h-2.2" stroke="#111" stroke-width="0.7"/>
<text x="42.8" y="153.7" font-size="7.7" text-anchor="end" fill="#1a1a1a">50°N</text>
<path d="M46 175.5h-2.2" stroke="#111" stroke-width="0.7"/>
<text x="42.8" y="178.3" font-size="7.7" text-anchor="end" fill="#1a1a1a">45°</text>
<path d="M46 200.7h-2.2" stroke="#111" stroke-width="0.7"/>
<text x="42.8" y="203.5" font-size="7.7" text-anchor="end" fill="#1a1a1a">40°</text>
<path d="M46 224.1h-2.2" stroke="#111" stroke-width="0.7"/>
<text x="42.8" y="226.9" font-size="7.7" text-anchor="end" fill="#1a1a1a">35°</text>
<path d="M46 246h-2.2" stroke="#111" stroke-width="0.7"/>
<text x="42.8" y="248.8" font-size="7.7" text-anchor="end" fill="#1a1a1a">30°</text>
<path d="M46 246v2.2" stroke="#111" stroke-width="0.7"/>
<path d="M64.8 246v1.3" stroke="#111" stroke-width="0.6"/>
<text x="46.6" y="259.7" font-size="8.3" text-anchor="middle" fill="#1a1a1a" letter-spacing="-0.3">140°</text>
<path d="M83.5 246v2.2" stroke="#111" stroke-width="0.7"/>
<path d="M102.2 246v1.3" stroke="#111" stroke-width="0.6"/>
<text x="84.1" y="259.7" font-size="8.3" text-anchor="middle" fill="#1a1a1a" letter-spacing="-0.3">150°</text>
<path d="M121 246v2.2" stroke="#111" stroke-width="0.7"/>
<path d="M139.8 246v1.3" stroke="#111" stroke-width="0.6"/>
<text x="121.6" y="259.7" font-size="8.3" text-anchor="middle" fill="#1a1a1a" letter-spacing="-0.3">160°</text>
<path d="M158.5 246v2.2" stroke="#111" stroke-width="0.7"/>
<path d="M177.2 246v1.3" stroke="#111" stroke-width="0.6"/>
<text x="159.1" y="259.7" font-size="8.3" text-anchor="middle" fill="#1a1a1a" letter-spacing="-0.3">170°</text>
<path d="M196 246v2.2" stroke="#111" stroke-width="0.7"/>
<path d="M214.8 246v1.3" stroke="#111" stroke-width="0.6"/>
<text x="196.6" y="259.7" font-size="8.3" text-anchor="middle" fill="#1a1a1a" letter-spacing="-0.3">180°</text>
<path d="M233.5 246v2.2" stroke="#111" stroke-width="0.7"/>
<path d="M252.2 246v1.3" stroke="#111" stroke-width="0.6"/>
<text x="234.1" y="259.7" font-size="8.3" text-anchor="middle" fill="#1a1a1a" letter-spacing="-0.3">170°</text>
<path d="M271 246v2.2" stroke="#111" stroke-width="0.7"/>
<text x="271.6" y="259.7" font-size="8.3" text-anchor="middle" fill="#1a1a1a" letter-spacing="-0.3">160°</text>
<text x="16.2" y="155.7" font-size="11" text-anchor="middle" fill="#1a1a1a">(C)</text>
<g clip-path="url(#clipD)"><g filter="url(#hb2)">
<rect x="36" y="270" width="5.5" height="102" fill="url(#D0)"/>
<rect x="41" y="270" width="5.5" height="102" fill="url(#D1)"/>
<rect x="46" y="270" width="5.5" height="102" fill="url(#D2)"/>
<rect x="51" y="270" width="5.5" height="102" fill="url(#D3)"/>
<rect x="56" y="270" width="5.5" height="102" fill="url(#D4)"/>
<rect x="61" y="270" width="5.5" height="102" fill="url(#D5)"/>
<rect x="66" y="270" width="5.5" height="102" fill="url(#D6)"/>
<rect x="71" y="270" width="5.5" height="102" fill="url(#D7)"/>
<rect x="76" y="270" width="5.5" height="102" fill="url(#D8)"/>
<rect x="81" y="270" width="5.5" height="102" fill="url(#D9)"/>
<rect x="86" y="270" width="5.5" height="102" fill="url(#D10)"/>
<rect x="91" y="270" width="5.5" height="102" fill="url(#D11)"/>
<rect x="96" y="270" width="5.5" height="102" fill="url(#D12)"/>
<rect x="101" y="270" width="5.5" height="102" fill="url(#D13)"/>
<rect x="106" y="270" width="5.5" height="102" fill="url(#D14)"/>
<rect x="111" y="270" width="5.5" height="102" fill="url(#D15)"/>
<rect x="116" y="270" width="5.5" height="102" fill="url(#D16)"/>
<rect x="121" y="270" width="5.5" height="102" fill="url(#D17)"/>
<rect x="126" y="270" width="5.5" height="102" fill="url(#D18)"/>
<rect x="131" y="270" width="5.5" height="102" fill="url(#D19)"/>
<rect x="136" y="270" width="5.5" height="102" fill="url(#D20)"/>
<rect x="141" y="270" width="5.5" height="102" fill="url(#D21)"/>
<rect x="146" y="270" width="5.5" height="102" fill="url(#D22)"/>
<rect x="151" y="270" width="5.5" height="102" fill="url(#D23)"/>
<rect x="156" y="270" width="5.5" height="102" fill="url(#D24)"/>
<rect x="161" y="270" width="5.5" height="102" fill="url(#D25)"/>
<rect x="166" y="270" width="5.5" height="102" fill="url(#D26)"/>
<rect x="171" y="270" width="5.5" height="102" fill="url(#D27)"/>
<rect x="176" y="270" width="5.5" height="102" fill="url(#D28)"/>
<rect x="181" y="270" width="5.5" height="102" fill="url(#D29)"/>
<rect x="186" y="270" width="5.5" height="102" fill="url(#D30)"/>
<rect x="191" y="270" width="5.5" height="102" fill="url(#D31)"/>
<rect x="196" y="270" width="5.5" height="102" fill="url(#D32)"/>
<rect x="201" y="270" width="5.5" height="102" fill="url(#D33)"/>
<rect x="206" y="270" width="5.5" height="102" fill="url(#D34)"/>
<rect x="211" y="270" width="5.5" height="102" fill="url(#D35)"/>
<rect x="216" y="270" width="5.5" height="102" fill="url(#D36)"/>
<rect x="221" y="270" width="5.5" height="102" fill="url(#D37)"/>
<rect x="226" y="270" width="5.5" height="102" fill="url(#D38)"/>
<rect x="231" y="270" width="5.5" height="102" fill="url(#D39)"/>
<rect x="236" y="270" width="5.5" height="102" fill="url(#D40)"/>
<rect x="241" y="270" width="5.5" height="102" fill="url(#D41)"/>
<rect x="246" y="270" width="5.5" height="102" fill="url(#D42)"/>
<rect x="251" y="270" width="5.5" height="102" fill="url(#D43)"/>
<rect x="256" y="270" width="5.5" height="102" fill="url(#D44)"/>
<rect x="261" y="270" width="5.5" height="102" fill="url(#D45)"/>
<rect x="266" y="270" width="5.5" height="102" fill="url(#D46)"/>
<rect x="271" y="270" width="5.5" height="102" fill="url(#D47)"/>
<rect x="276" y="270" width="5.5" height="102" fill="url(#D48)"/>
</g></g>
<g clip-path="url(#clipD)">
<path d="M66.5 306L72 301 78 296.5 85 291 91 285.5 96 280 100 275 102.5 271" fill="none" stroke="#7a1030" stroke-width="0.9" stroke-dasharray="2.2 1.6"/>
<path d="M59.8 271L59.7 273.1 59.8 275.2 60 277.3 60.2 279.4 60.5 281.6 60.7 283.6 61 285.7 61.3 287.8 61.7 289.9 62.2 292 62.7 294.1 63.4 296.1 64.2 298 65 299.9 66.1 301.7 67.5 303.5 68.3 305.3 66.6 306.8" fill="none" stroke="#10101a" stroke-width="1.0" stroke-linejoin="round" stroke-linecap="round"/>
<path d="M67.5 305.9L69.5 306.3 71.4 306.8 73.3 307.4 75.3 308.1 77.3 308.7 79.3 309.2 81.3 309.5 83.3 309.6 85.2 309.4 87.2 309.1 89.2 308.5 91.2 307.9 93.1 307.3 95 306.6 96.9 306 98.8 305.4 100.7 304.8 102.7 304.3 104.8 303.9 106.9 303.6 109 303.5 111 303.6 113 304 114.8 304.7 116.5 305.8 118.1 307.1 119.7 308.3 121.5 309.3 123.3 310.1 125.3 310.7 127.3 311.2 129.3 311.6 131.3 311.9 133.3 312.1 135.3 312.3 137.3 312.4 139.4 312.5 141.4 312.5 143.5 312.4 145.5 312.1 147.5 311.7 149.4 311 151.2 310.1 153 309.1 154.7 308.2 156.6 307.6 158.6 307.2 160.6 307.1 162.6 307.2 164.7 307.2 166.8 307.1 168.8 306.9 170.8 306.4 172.7 305.8 174.7 305.3 176.6 304.8 178.6 304.6 180.6 304.5 182.6 304.7 184.7 304.9 186.7 305.2 188.7 305.5 190.8 305.8 192.8 306 194.8 306 196.8 305.9 198.8 305.4 200.7 304.9 202.7 304.3 204.6 303.8 206.6 303.5 208.6 303.3 210.6 303.2 212.7 303.1 214.7 303.2 216.7 303.2 218.8 303.2 220.8 303.2 222.8 303.2 224.9 303.1 226.9 303 228.9 302.8 230.9 302.7 232.9 302.6 235 302.5 237 302.5 239 302.6 241 302.7 243 302.8 245.1 303 247.1 303.1 249.1 303.2 251.1 303.2 253.1 303.1 255.1 302.8 257.1 302.6 259.1 302.2 261.1 301.8 263.1 301.4 265.1 301.1 267.1 301 269.1 301.2 271.1 301.9" fill="none" stroke="#10101a" stroke-width="1.0" stroke-linejoin="round" stroke-linecap="round"/>
<path d="M51 318L52.8 318.9 54.6 319.8 56.4 320.7 58.4 321.4 60.3 322 62.3 322.4 64.3 322.8 66.4 323 68.4 323 70.5 322.8 72.5 322.5 74.5 322 76.4 321.3 78.4 320.7 80.4 320.1 82.3 319.8 84.3 319.8 86.3 320 88.3 320.4 90.3 320.8 92.4 320.9 94.4 321 96.5 321.1 98.4 321.4 100.3 322.1 102.1 323.1 103.9 323.9 105.8 324.3 107.8 324.1 109.9 323.8 112 323.4 114 323.1 116.1 323.1 118.1 323.4 120.1 323.8 122 324.3 124 324.6 126 324.8 128 324.7 130.1 324.5 132.1 324.3 134.1 323.9 136.2 323.6 138.2 323.3 140.2 323 142.2 322.8 144.2 322.7 146.3 322.5 148.3 322.4 150.3 322.4 152.3 322.3 154.4 322.4 156.4 322.4 158.4 322.6 160.4 322.8 162.4 322.9 164.5 323.1 166.5 323.2 168.6 323.2 170.6 323.1 172.6 322.9 174.6 322.5 176.6 321.9 178.5 321.1 180.4 320.2 182.3 319.8 184.3 319.8 186.3 320.3 188.3 320.9 190.3 321.3 192.3 321.4 194.4 321.5 196.4 321.4 198.4 321.3 200.4 321.2 202.5 321 204.5 320.9 206.5 320.8 208.6 320.8 210.6 320.7 212.6 320.8 214.6 320.8 216.6 321 218.7 321.2 220.7 321.4 222.7 321.7 224.7 322 226.7 322.3 228.7 322.5 230.7 322.7 232.8 322.9 234.8 323.1 236.8 323.2 238.8 323.3 240.9 323.4 242.9 323.5 244.9 323.5 246.9 323.5 249 323.6 251 323.6 253 323.7 255.1 323.7 257.1 323.8 259.1 324 261.1 324.1 263.1 324.4 265.1 324.7 267.1 325.1 269.1 325.6 271.1 326.1" fill="none" stroke="#10101a" stroke-width="1.0" stroke-linejoin="round" stroke-linecap="round"/>
<path d="M54 271L53.5 278.3 53.8 283.8 53.4 288.2 53.2 292 53.8 293.3 54.6 293.2 55.7 291.5 56.8 290.9 58 291.8 57.6 287.6 56.3 284.3 57 282.7 56.7 278.8 57.5 276.3 59 275.3 61 275.6 62.4 277.4 63.4 279.8 63.3 277.2 62.4 274.6 61.8 271Z" fill="#fff" stroke="#111" stroke-width="0.9" stroke-linejoin="round"/>
<path d="M52.9 297L55.6 299.6 58.6 301.6 61.6 303.4 64.2 304.6 66.2 306 66.6 307.5 64.6 309 61.8 309.8 60.2 311.5 58.4 314 56.6 313.2 53.9 311.6 51.7 310.6 50.3 310.8 49.2 312.4 48 313.4 47 312 48.2 309.8 50.2 308.5 51.2 306.5 51.8 303.8 52.1 300.5Z" fill="#fff" stroke="#111" stroke-width="0.9" stroke-linejoin="round"/>
<path d="M45 313.8L47.6 314 49.6 314.6 51 317 52 321.2 53 324.5 52.8 327.5 52.2 329.8 50.9 331.6 50 334 49.8 337 49.6 340 49 343 49.1 346 48.2 349 47.4 351.5 45 352.5Z" fill="#fff" stroke="#111" stroke-width="0.9" stroke-linejoin="round"/>
<path d="M45 271L47.8 271 47.5 276 47.2 281 46.9 285 45 287Z" fill="#fff" stroke="#111" stroke-width="0.9" stroke-linejoin="round"/>
</g>
<rect x="78.9" y="306.9" width="8.8" height="6.4" fill="#fff"/>
<text x="83.3" y="312.4" font-size="6.5" text-anchor="middle" font-weight="bold" fill="#000" letter-spacing="-0.2">12</text>
<rect x="78.9" y="317.2" width="8.8" height="6.4" fill="#fff"/>
<text x="83.3" y="322.7" font-size="6.5" text-anchor="middle" font-weight="bold" fill="#000" letter-spacing="-0.2">17</text>
<text x="267.4" y="284" font-size="8.6" text-anchor="end" font-weight="bold" fill="#fff">P2 (2002–2006)</text>
<rect x="46" y="271.9" width="225.3" height="98.2" fill="none" stroke="#0a0a0a" stroke-width="1.3"/>
<path d="M46 272h-2.2" stroke="#111" stroke-width="0.7"/>
<text x="42.8" y="277.7" font-size="7.7" text-anchor="end" fill="#1a1a1a">50°N</text>
<path d="M46 299.5h-2.2" stroke="#111" stroke-width="0.7"/>
<text x="42.8" y="302.3" font-size="7.7" text-anchor="end" fill="#1a1a1a">45°</text>
<path d="M46 324.7h-2.2" stroke="#111" stroke-width="0.7"/>
<text x="42.8" y="327.5" font-size="7.7" text-anchor="end" fill="#1a1a1a">40°</text>
<path d="M46 348.1h-2.2" stroke="#111" stroke-width="0.7"/>
<text x="42.8" y="350.9" font-size="7.7" text-anchor="end" fill="#1a1a1a">35°</text>
<path d="M46 370h-2.2" stroke="#111" stroke-width="0.7"/>
<text x="42.8" y="372.8" font-size="7.7" text-anchor="end" fill="#1a1a1a">30°</text>
<path d="M46 370v2.2" stroke="#111" stroke-width="0.7"/>
<path d="M64.8 370v1.3" stroke="#111" stroke-width="0.6"/>
<text x="46.6" y="383.7" font-size="8.3" text-anchor="middle" fill="#1a1a1a" letter-spacing="-0.3">140°</text>
<path d="M83.5 370v2.2" stroke="#111" stroke-width="0.7"/>
<path d="M102.2 370v1.3" stroke="#111" stroke-width="0.6"/>
<text x="84.1" y="383.7" font-size="8.3" text-anchor="middle" fill="#1a1a1a" letter-spacing="-0.3">150°</text>
<path d="M121 370v2.2" stroke="#111" stroke-width="0.7"/>
<path d="M139.8 370v1.3" stroke="#111" stroke-width="0.6"/>
<text x="121.6" y="383.7" font-size="8.3" text-anchor="middle" fill="#1a1a1a" letter-spacing="-0.3">160°</text>
<path d="M158.5 370v2.2" stroke="#111" stroke-width="0.7"/>
<path d="M177.2 370v1.3" stroke="#111" stroke-width="0.6"/>
<text x="159.1" y="383.7" font-size="8.3" text-anchor="middle" fill="#1a1a1a" letter-spacing="-0.3">170°</text>
<path d="M196 370v2.2" stroke="#111" stroke-width="0.7"/>
<path d="M214.8 370v1.3" stroke="#111" stroke-width="0.6"/>
<text x="196.6" y="383.7" font-size="8.3" text-anchor="middle" fill="#1a1a1a" letter-spacing="-0.3">180°</text>
<path d="M233.5 370v2.2" stroke="#111" stroke-width="0.7"/>
<path d="M252.2 370v1.3" stroke="#111" stroke-width="0.6"/>
<text x="234.1" y="383.7" font-size="8.3" text-anchor="middle" fill="#1a1a1a" letter-spacing="-0.3">170°</text>
<path d="M271 370v2.2" stroke="#111" stroke-width="0.7"/>
<text x="271.6" y="383.7" font-size="8.3" text-anchor="middle" fill="#1a1a1a" letter-spacing="-0.3">160°</text>
<text x="16.2" y="279.7" font-size="11" text-anchor="middle" fill="#1a1a1a">(D)</text>
<g clip-path="url(#clipE)"><g filter="url(#hb2)">
<rect x="36" y="394" width="5.5" height="102" fill="url(#E0)"/>
<rect x="41" y="394" width="5.5" height="102" fill="url(#E1)"/>
<rect x="46" y="394" width="5.5" height="102" fill="url(#E2)"/>
<rect x="51" y="394" width="5.5" height="102" fill="url(#E3)"/>
<rect x="56" y="394" width="5.5" height="102" fill="url(#E4)"/>
<rect x="61" y="394" width="5.5" height="102" fill="url(#E5)"/>
<rect x="66" y="394" width="5.5" height="102" fill="url(#E6)"/>
<rect x="71" y="394" width="5.5" height="102" fill="url(#E7)"/>
<rect x="76" y="394" width="5.5" height="102" fill="url(#E8)"/>
<rect x="81" y="394" width="5.5" height="102" fill="url(#E9)"/>
<rect x="86" y="394" width="5.5" height="102" fill="url(#E10)"/>
<rect x="91" y="394" width="5.5" height="102" fill="url(#E11)"/>
<rect x="96" y="394" width="5.5" height="102" fill="url(#E12)"/>
<rect x="101" y="394" width="5.5" height="102" fill="url(#E13)"/>
<rect x="106" y="394" width="5.5" height="102" fill="url(#E14)"/>
<rect x="111" y="394" width="5.5" height="102" fill="url(#E15)"/>
<rect x="116" y="394" width="5.5" height="102" fill="url(#E16)"/>
<rect x="121" y="394" width="5.5" height="102" fill="url(#E17)"/>
<rect x="126" y="394" width="5.5" height="102" fill="url(#E18)"/>
<rect x="131" y="394" width="5.5" height="102" fill="url(#E19)"/>
<rect x="136" y="394" width="5.5" height="102" fill="url(#E20)"/>
<rect x="141" y="394" width="5.5" height="102" fill="url(#E21)"/>
<rect x="146" y="394" width="5.5" height="102" fill="url(#E22)"/>
<rect x="151" y="394" width="5.5" height="102" fill="url(#E23)"/>
<rect x="156" y="394" width="5.5" height="102" fill="url(#E24)"/>
<rect x="161" y="394" width="5.5" height="102" fill="url(#E25)"/>
<rect x="166" y="394" width="5.5" height="102" fill="url(#E26)"/>
<rect x="171" y="394" width="5.5" height="102" fill="url(#E27)"/>
<rect x="176" y="394" width="5.5" height="102" fill="url(#E28)"/>
<rect x="181" y="394" width="5.5" height="102" fill="url(#E29)"/>
<rect x="186" y="394" width="5.5" height="102" fill="url(#E30)"/>
<rect x="191" y="394" width="5.5" height="102" fill="url(#E31)"/>
<rect x="196" y="394" width="5.5" height="102" fill="url(#E32)"/>
<rect x="201" y="394" width="5.5" height="102" fill="url(#E33)"/>
<rect x="206" y="394" width="5.5" height="102" fill="url(#E34)"/>
<rect x="211" y="394" width="5.5" height="102" fill="url(#E35)"/>
<rect x="216" y="394" width="5.5" height="102" fill="url(#E36)"/>
<rect x="221" y="394" width="5.5" height="102" fill="url(#E37)"/>
<rect x="226" y="394" width="5.5" height="102" fill="url(#E38)"/>
<rect x="231" y="394" width="5.5" height="102" fill="url(#E39)"/>
<rect x="236" y="394" width="5.5" height="102" fill="url(#E40)"/>
<rect x="241" y="394" width="5.5" height="102" fill="url(#E41)"/>
<rect x="246" y="394" width="5.5" height="102" fill="url(#E42)"/>
<rect x="251" y="394" width="5.5" height="102" fill="url(#E43)"/>
<rect x="256" y="394" width="5.5" height="102" fill="url(#E44)"/>
<rect x="261" y="394" width="5.5" height="102" fill="url(#E45)"/>
<rect x="266" y="394" width="5.5" height="102" fill="url(#E46)"/>
<rect x="271" y="394" width="5.5" height="102" fill="url(#E47)"/>
<rect x="276" y="394" width="5.5" height="102" fill="url(#E48)"/>
</g></g>
<g clip-path="url(#clipE)">
<path d="M66.5 430L72 425 78 420.5 85 415 91 409.5 96 404 100 399 102.5 395" fill="none" stroke="#7a1030" stroke-width="0.9" stroke-dasharray="2.2 1.6"/>
<path d="M61.3 395L61.1 397.2 61.2 399.3 61.4 401.4 61.8 403.5 62.3 405.5 63 407.5 63.7 409.5 64.4 411.6 65.2 413.5 66 415.5 66.7 417.4 67.5 419.3 68.3 421.3 69.2 423.4 69.9 425.5 69.4 427.4 67.8 429 66.5 430.6" fill="none" stroke="#10101a" stroke-width="1.0" stroke-linejoin="round" stroke-linecap="round"/>
<path d="M67.5 429.9L69.5 430.4 71.5 430.8 73.5 431.1 75.5 431.2 77.5 431.2 79.5 431.1 81.6 431.1 83.6 430.9 85.6 430.8 87.6 430.7 89.7 430.5 91.6 430.1 93.6 429.6 95.6 429.1 97.5 428.5 99.5 428.1 101.5 427.8 103.5 427.5 105.5 427.4 107.5 427.3 109.6 427.2 111.6 427.2 113.6 427.1 115.7 427 117.7 427 119.7 427.1 121.7 427.2 123.7 427.5 125.7 427.9 127.7 428.3 129.6 428.8 131.6 429.2 133.6 429.6 135.6 430 137.5 430.4 139.5 430.8 141.5 431.2 143.5 431.6 145.5 432.1 147.5 432.5 149.5 432.7 151.5 432.8 153.5 432.5 155.5 431.9 157.3 430.9 159.1 430 161 429.4 162.9 429.1 165 429 167 428.9 169.1 428.6 171 428.1 172.9 427.5 174.8 426.7 176.7 426 178.7 425.3 180.6 424.8 182.6 424.4 184.6 424.3 186.7 424.4 188.7 424.6 190.7 424.9 192.8 425.1 194.8 425.3 196.8 425.3 198.8 425.1 200.7 424.5 202.6 423.8 204.5 423.1 206.5 422.6 208.4 422.3 210.4 422.3 212.5 422.3 214.5 422.5 216.5 422.7 218.6 423 220.7 423.2 222.7 423.3 224.7 423.4 226.8 423.3 228.8 423.2 230.8 423.1 232.8 422.9 234.8 422.6 236.8 422.4 238.8 422.1 240.8 421.9 242.8 421.6 244.9 421.4 246.9 421.2 248.9 421.1 250.9 421 252.9 421 255 421 257 421 259 421 261 421 263 421 265.1 420.9 267.1 420.7 269.1 420.4 271.1 419.9" fill="none" stroke="#10101a" stroke-width="1.0" stroke-linejoin="round" stroke-linecap="round"/>
<path d="M51 439.1L52.7 440.1 54.7 440.6 56.8 440.8 58.9 441 61 441.2 62.9 441.8 64.6 442.9 65.9 444.6 67.3 446.2 68.9 447.1 70.8 447.1 72.9 446.4 74.9 445.7 76.9 445 78.8 444.3 80.6 443.7 82.5 443.2 84.5 442.9 86.5 442.7 88.5 442.4 90.5 442 92.4 441.4 94.4 440.9 96.3 440.9 98.3 441.4 100.2 442.1 102.2 442.8 104.1 443.4 106.1 443.9 108.1 444.3 110 444.7 112 445.2 114 445.6 116 446.1 118 446.4 120 446.8 122 447 124 447 126 447 128 446.8 130 446.5 132 446.2 134 445.8 136 445.5 138 445.2 140 445 142 444.7 144 444.4 146 444.1 147.9 443.8 149.9 443.5 151.9 443.1 154 442.9 155.9 443.5 157.4 444.8 159 446.2 160.7 446.7 162.7 446.4 164.8 445.8 166.9 445.3 168.9 445.4 170.9 446 172.8 446.8 174.7 447.1 176.6 447 178.6 446.5 180.7 445.9 182.7 445.4 184.7 445.1 186.7 444.9 188.7 444.8 190.8 444.8 192.8 444.8 194.8 444.9 196.8 444.9 198.8 444.8 200.8 444.7 202.8 444.5 204.8 444.3 206.8 444 208.8 443.7 210.8 443.4 212.8 443.2 214.8 443 216.9 443 218.9 442.9 220.9 442.9 222.9 442.9 224.9 442.8 227 442.7 229 442.5 231 442.2 233 441.9 235 441.6 237 441.3 239 441 241 440.9 243 440.8 245 440.9 247 441 249 441.1 251 441.3 253.1 441.3 255.1 441.4 257.1 441.4 259.1 441.4 261.1 441.4 263.1 441.5 265.1 441.7 267.1 442 269.1 442.5 271.1 443.1" fill="none" stroke="#10101a" stroke-width="1.0" stroke-linejoin="round" stroke-linecap="round"/>
<path d="M54 395L53.5 402.3 53.8 407.8 53.4 412.2 53.2 416 53.8 417.3 54.6 417.2 55.7 415.5 56.8 414.9 58 415.8 57.6 411.6 56.3 408.3 57 406.7 56.7 402.8 57.5 400.3 59 399.3 61 399.6 62.4 401.4 63.4 403.8 63.3 401.2 62.4 398.6 61.8 395Z" fill="#fff" stroke="#111" stroke-width="0.9" stroke-linejoin="round"/>
<path d="M52.9 421L55.6 423.6 58.6 425.6 61.6 427.4 64.2 428.6 66.2 430 66.6 431.5 64.6 433 61.8 433.8 60.2 435.5 58.4 438 56.6 437.2 53.9 435.6 51.7 434.6 50.3 434.8 49.2 436.4 48 437.4 47 436 48.2 433.8 50.2 432.5 51.2 430.5 51.8 427.8 52.1 424.5Z" fill="#fff" stroke="#111" stroke-width="0.9" stroke-linejoin="round"/>
<path d="M45 437.8L47.6 438 49.6 438.6 51 441 52 445.2 53 448.5 52.8 451.5 52.2 453.8 50.9 455.6 50 458 49.8 461 49.6 464 49 467 49.1 470 48.2 473 47.4 475.5 45 476.5Z" fill="#fff" stroke="#111" stroke-width="0.9" stroke-linejoin="round"/>
<path d="M45 395L47.8 395 47.5 400 47.2 405 46.9 409 45 411Z" fill="#fff" stroke="#111" stroke-width="0.9" stroke-linejoin="round"/>
</g>
<rect x="78.9" y="428.3" width="8.8" height="6.4" fill="#fff"/>
<text x="83.3" y="433.8" font-size="6.5" text-anchor="middle" font-weight="bold" fill="#000" letter-spacing="-0.2">12</text>
<rect x="78.9" y="440.4" width="8.8" height="6.4" fill="#fff"/>
<text x="83.3" y="445.9" font-size="6.5" text-anchor="middle" font-weight="bold" fill="#000" letter-spacing="-0.2">17</text>
<text x="267.4" y="408" font-size="8.6" text-anchor="end" font-weight="bold" fill="#fff">P3 (2007–2013)</text>
<rect x="46" y="395.9" width="225.3" height="98.2" fill="none" stroke="#0a0a0a" stroke-width="1.3"/>
<path d="M46 396h-2.2" stroke="#111" stroke-width="0.7"/>
<text x="42.8" y="401.7" font-size="7.7" text-anchor="end" fill="#1a1a1a">50°N</text>
<path d="M46 423.5h-2.2" stroke="#111" stroke-width="0.7"/>
<text x="42.8" y="426.3" font-size="7.7" text-anchor="end" fill="#1a1a1a">45°</text>
<path d="M46 448.7h-2.2" stroke="#111" stroke-width="0.7"/>
<text x="42.8" y="451.5" font-size="7.7" text-anchor="end" fill="#1a1a1a">40°</text>
<path d="M46 472.1h-2.2" stroke="#111" stroke-width="0.7"/>
<text x="42.8" y="474.9" font-size="7.7" text-anchor="end" fill="#1a1a1a">35°</text>
<path d="M46 494h-2.2" stroke="#111" stroke-width="0.7"/>
<text x="42.8" y="496.8" font-size="7.7" text-anchor="end" fill="#1a1a1a">30°</text>
<path d="M46 494v2.2" stroke="#111" stroke-width="0.7"/>
<path d="M64.8 494v1.3" stroke="#111" stroke-width="0.6"/>
<text x="46.6" y="507.7" font-size="8.3" text-anchor="middle" fill="#1a1a1a" letter-spacing="-0.3">140°</text>
<path d="M83.5 494v2.2" stroke="#111" stroke-width="0.7"/>
<path d="M102.2 494v1.3" stroke="#111" stroke-width="0.6"/>
<text x="84.1" y="507.7" font-size="8.3" text-anchor="middle" fill="#1a1a1a" letter-spacing="-0.3">150°</text>
<path d="M121 494v2.2" stroke="#111" stroke-width="0.7"/>
<path d="M139.8 494v1.3" stroke="#111" stroke-width="0.6"/>
<text x="121.6" y="507.7" font-size="8.3" text-anchor="middle" fill="#1a1a1a" letter-spacing="-0.3">160°</text>
<path d="M158.5 494v2.2" stroke="#111" stroke-width="0.7"/>
<path d="M177.2 494v1.3" stroke="#111" stroke-width="0.6"/>
<text x="159.1" y="507.7" font-size="8.3" text-anchor="middle" fill="#1a1a1a" letter-spacing="-0.3">170°</text>
<path d="M196 494v2.2" stroke="#111" stroke-width="0.7"/>
<path d="M214.8 494v1.3" stroke="#111" stroke-width="0.6"/>
<text x="196.6" y="507.7" font-size="8.3" text-anchor="middle" fill="#1a1a1a" letter-spacing="-0.3">180°</text>
<path d="M233.5 494v2.2" stroke="#111" stroke-width="0.7"/>
<path d="M252.2 494v1.3" stroke="#111" stroke-width="0.6"/>
<text x="234.1" y="507.7" font-size="8.3" text-anchor="middle" fill="#1a1a1a" letter-spacing="-0.3">170°</text>
<path d="M271 494v2.2" stroke="#111" stroke-width="0.7"/>
<text x="271.6" y="507.7" font-size="8.3" text-anchor="middle" fill="#1a1a1a" letter-spacing="-0.3">160°</text>
<text x="16.2" y="403.7" font-size="11" text-anchor="middle" fill="#1a1a1a">(E)</text>
<g clip-path="url(#clipF)"><g filter="url(#hb1.6)">
<rect x="297" y="146" width="4.5" height="102" fill="url(#F0)"/>
<rect x="301" y="146" width="4.5" height="102" fill="url(#F1)"/>
<rect x="305" y="146" width="4.5" height="102" fill="url(#F2)"/>
<rect x="309" y="146" width="4.5" height="102" fill="url(#F3)"/>
<rect x="313" y="146" width="4.5" height="102" fill="url(#F4)"/>
<rect x="317" y="146" width="4.5" height="102" fill="url(#F5)"/>
<rect x="321" y="146" width="4.5" height="102" fill="url(#F6)"/>
<rect x="325" y="146" width="4.5" height="102" fill="url(#F7)"/>
<rect x="329" y="146" width="4.5" height="102" fill="url(#F8)"/>
<rect x="333" y="146" width="4.5" height="102" fill="url(#F9)"/>
<rect x="337" y="146" width="4.5" height="102" fill="url(#F10)"/>
<rect x="341" y="146" width="4.5" height="102" fill="url(#F11)"/>
<rect x="345" y="146" width="4.5" height="102" fill="url(#F12)"/>
<rect x="349" y="146" width="4.5" height="102" fill="url(#F13)"/>
<rect x="353" y="146" width="4.5" height="102" fill="url(#F14)"/>
<rect x="357" y="146" width="4.5" height="102" fill="url(#F15)"/>
<rect x="361" y="146" width="4.5" height="102" fill="url(#F16)"/>
<rect x="365" y="146" width="4.5" height="102" fill="url(#F17)"/>
<rect x="369" y="146" width="4.5" height="102" fill="url(#F18)"/>
<rect x="373" y="146" width="4.5" height="102" fill="url(#F19)"/>
<rect x="377" y="146" width="4.5" height="102" fill="url(#F20)"/>
<rect x="381" y="146" width="4.5" height="102" fill="url(#F21)"/>
<rect x="385" y="146" width="4.5" height="102" fill="url(#F22)"/>
<rect x="389" y="146" width="4.5" height="102" fill="url(#F23)"/>
<rect x="393" y="146" width="4.5" height="102" fill="url(#F24)"/>
<rect x="397" y="146" width="4.5" height="102" fill="url(#F25)"/>
<rect x="401" y="146" width="4.5" height="102" fill="url(#F26)"/>
<rect x="405" y="146" width="4.5" height="102" fill="url(#F27)"/>
<rect x="409" y="146" width="4.5" height="102" fill="url(#F28)"/>
<rect x="413" y="146" width="4.5" height="102" fill="url(#F29)"/>
<rect x="417" y="146" width="4.5" height="102" fill="url(#F30)"/>
<rect x="421" y="146" width="4.5" height="102" fill="url(#F31)"/>
<rect x="425" y="146" width="4.5" height="102" fill="url(#F32)"/>
<rect x="429" y="146" width="4.5" height="102" fill="url(#F33)"/>
<rect x="433" y="146" width="4.5" height="102" fill="url(#F34)"/>
<rect x="437" y="146" width="4.5" height="102" fill="url(#F35)"/>
<rect x="441" y="146" width="4.5" height="102" fill="url(#F36)"/>
<rect x="445" y="146" width="4.5" height="102" fill="url(#F37)"/>
<rect x="449" y="146" width="4.5" height="102" fill="url(#F38)"/>
<rect x="453" y="146" width="4.5" height="102" fill="url(#F39)"/>
<rect x="457" y="146" width="4.5" height="102" fill="url(#F40)"/>
<rect x="461" y="146" width="4.5" height="102" fill="url(#F41)"/>
<rect x="465" y="146" width="4.5" height="102" fill="url(#F42)"/>
<rect x="469" y="146" width="4.5" height="102" fill="url(#F43)"/>
<rect x="473" y="146" width="4.5" height="102" fill="url(#F44)"/>
<rect x="477" y="146" width="4.5" height="102" fill="url(#F45)"/>
<rect x="481" y="146" width="4.5" height="102" fill="url(#F46)"/>
<rect x="485" y="146" width="4.5" height="102" fill="url(#F47)"/>
<rect x="489" y="146" width="4.5" height="102" fill="url(#F48)"/>
<rect x="493" y="146" width="4.5" height="102" fill="url(#F49)"/>
<rect x="497" y="146" width="4.5" height="102" fill="url(#F50)"/>
<rect x="501" y="146" width="4.5" height="102" fill="url(#F51)"/>
<rect x="505" y="146" width="4.5" height="102" fill="url(#F52)"/>
<rect x="509" y="146" width="4.5" height="102" fill="url(#F53)"/>
<rect x="513" y="146" width="4.5" height="102" fill="url(#F54)"/>
<rect x="517" y="146" width="4.5" height="102" fill="url(#F55)"/>
<rect x="521" y="146" width="4.5" height="102" fill="url(#F56)"/>
<rect x="525" y="146" width="4.5" height="102" fill="url(#F57)"/>
<rect x="529" y="146" width="4.5" height="102" fill="url(#F58)"/>
<rect x="533" y="146" width="4.5" height="102" fill="url(#F59)"/>
<rect x="537" y="146" width="4.5" height="102" fill="url(#F60)"/>
</g></g>
<g clip-path="url(#clipF)">
<ellipse cx="321.4" cy="230.4" rx="2.4" ry="3.8" fill="#08ff00" opacity="1" filter="url(#sb)"/>
<ellipse cx="329.9" cy="214.2" rx="2.2" ry="2.4" fill="#0008ff" opacity="1" filter="url(#sb)"/>
<ellipse cx="335" cy="187" rx="2.3" ry="2.2" fill="#0040ff" opacity="0.8" filter="url(#sb)"/>
<ellipse cx="322" cy="198" rx="2.8" ry="2.6" fill="#006aff" opacity="0.9" filter="url(#sb)"/>
<ellipse cx="358.8" cy="207.6" rx="2.6" ry="2.6" fill="#006aff" opacity="0.5" filter="url(#sb)"/>
<ellipse cx="362.5" cy="224.5" rx="2.6" ry="2.6" fill="#0095ff" opacity="0.55" filter="url(#sb)"/>
<ellipse cx="371.3" cy="224.5" rx="2.6" ry="2.6" fill="#0095ff" opacity="0.55" filter="url(#sb)"/>
<ellipse cx="430.9" cy="223.8" rx="3" ry="4" fill="#00bfff" opacity="0.6" filter="url(#sb)"/>
<ellipse cx="307.5" cy="178" rx="2.5" ry="6" fill="#006aff" opacity="0.9" filter="url(#sb)"/>
<path d="M325.5 182L331 177 337 172.5 344 167 350 161.5 355 156 359 151 361.5 147" fill="none" stroke="#4a0a3a" stroke-width="1" stroke-dasharray="2.2 1.6"/>
<path d="M311 203.9L312.9 204.6 314.8 205.2 316.8 205.7 318.8 206 320.8 206.1 322.8 206 324.8 205.7 326.8 205.3 328.8 205 330.9 204.7 332.7 204.1 334.3 202.8 335.6 201.1 336.9 199.5 338.5 198.4 340.4 198 342.4 197.7 344.3 197 346 195.9 347.7 194.7 349.3 193.5 351.2 192.7 353.1 192.2 355.1 191.8 356.9 191 358.5 190 360.1 188.7 361.8 187.2 363.6 185.7 365.4 185 367.1 185.9 367.9 187.7 367 189.3 365 190.6 362.4 191.7 359.9 192.6 358.1 193.6 357.7 194.7 359.2 195.8 361.3 196.6 363.4 196.6 365.3 196.3 367.3 196.1 369.3 196.2 371.2 196.5 373.2 197.1 375.2 197.7 377.2 198.4 379.2 199.1 381.2 199.8 383.1 200.3 385.1 200.7 387.1 200.7 389.1 200.4 391 199.6 392.7 198.5 394.2 197.1 395.4 195.4 396.8 194 398.5 193.2 400.5 192.8 402.6 192.5 404.7 192.1 406.5 191.4 408 190.2 409.5 188.7 410.9 187.2 412.4 185.8 414 184.6 415.7 183.4 417 181.9 418 180 419.3 178.6 421.3 178.3 423.3 179.2 424.3 180.7 424.4 182.8 424 185.5 423.5 188.3 422.9 191.1 422.4 193.3 422 194.6 422.1 194.5 422.5 193.1 423.3 190.9 424.4 188.7 425.6 187.1 427.2 185.9 429.1 185.2 431.2 185 433.4 185.3 435.5 186 437.5 186.9 439.4 187.4 441.2 187.4 442.8 186.6 444.4 185.3 446 183.9 447.8 182.9 449.7 182.3 451.7 181.9 453.7 181.8 455.8 181.8 458 181.8 460.1 181.9 462.1 181.9 464.2 181.9 466.2 181.9 468.2 181.8 470.2 181.7 472.2 181.6 474.2 181.4 476.2 181.3 478.2 181.1 480.2 180.9 482.2 180.6 484.1 180.4 486.1 180.1 488.1 179.8 490.1 179.5 492.1 179.2 494.1 178.9 496.1 178.6 498.1 178.3 500.1 177.9 502.1 177.6 504.1 177.3 506.1 176.9 508.1 176.6 510.1 176.3 512.1 176 514.1 175.6 516 175.3 518 175 520 174.6 522 174.3 524 174 526 173.7 528 173.4 530 173" fill="none" stroke="#10101a" stroke-width="1.0" stroke-linejoin="round" stroke-linecap="round"/>
<path d="M305.2 230.4L306.8 229.2 308.3 227.7 309.6 226.1 310.9 224.5 312.2 222.9 313.7 221.5 315.4 220.4 317.3 219.6 319.4 219.4 321.3 219.8 323.2 220.6 325.1 221.6 327 222.8 328.9 223.8 330.8 224.4 332.7 224.5 334.6 224 336.6 223.3 338.6 222.8 340.7 222.9 342.7 223.3 344.7 224 346.5 225 348.2 226.2 349.9 227.3 351.7 228.3 353.6 229.1 355.5 229.7 357.4 230.4 359.3 231.3 361.1 232.2 363 233.1 364.8 234 366.6 234.8 368.4 235.6 370.4 236.3 372.3 237.1 374.4 238 376.4 238.5 378.2 238.4 379.9 237.5 381.5 236 383.1 234.6 384.8 233.5 386.8 233 388.8 232.7 390.9 232.4 393.1 232.2 395.2 232 397.1 232.2 399 232.8 400.7 233.8 402.4 235.1 404.1 236.2 405.9 237.2 407.9 237.8 409.9 238.3 411.9 238.7 413.7 239.5 415.4 240.6 416.9 242.1 418.2 243.7 419.5 245.4 420.6 247" fill="none" stroke="#10101a" stroke-width="1.0" stroke-linejoin="round" stroke-linecap="round"/>
<path d="M337.9 186.9L337.6 188 336.9 188.8 335.8 189.3 334.7 189.3 333.6 188.8 332.9 188 332.6 186.9 332.9 185.9 333.6 185 334.7 184.6 335.8 184.6 336.9 185 337.6 185.9 337.9 186.9Z" fill="none" stroke="#10101a" stroke-width="1.0" stroke-linejoin="round" stroke-linecap="round"/>
<path d="M325.3 198.4L325 199.7 324.1 200.8 322.8 201.4 321.3 201.4 320 200.8 319 199.7 318.7 198.4 319 197 320 196 321.3 195.4 322.8 195.4 324.1 196 325 197 325.3 198.4Z" fill="none" stroke="#10101a" stroke-width="1.0" stroke-linejoin="round" stroke-linecap="round"/>
<path d="M331.7 214.2L331.5 215.3 331 216.1 330.2 216.6 329.3 216.6 328.5 216.1 327.9 215.3 327.8 214.2 327.9 213.2 328.5 212.3 329.3 211.9 330.2 211.9 331 212.3 331.5 213.2 331.7 214.2Z" fill="none" stroke="#10101a" stroke-width="1.0" stroke-linejoin="round" stroke-linecap="round"/>
<path d="M323.5 231.3L322.9 232.8 322 233.9 320.9 234.4 320 234.2 319.3 233.3 319 231.8 319.2 230.2 319.8 228.7 320.8 227.6 321.8 227.1 322.7 227.3 323.4 228.3 323.7 229.7 323.5 231.3Z" fill="none" stroke="#10101a" stroke-width="1.0" stroke-linejoin="round" stroke-linecap="round"/>
<path d="M431.3 237.8L430.4 239.3 429.1 240.2 427.9 240.2 427.1 239.3 426.9 237.8 427.3 236.1 428.2 234.6 429.5 233.7 430.7 233.7 431.5 234.5 431.8 236 431.3 237.8Z" fill="none" stroke="#10101a" stroke-width="1.0" stroke-linejoin="round" stroke-linecap="round"/>
<path d="M447.7 235.7L447 237.1 446 238 444.9 238.1 444.1 237.4 443.7 236.1 443.9 234.6 444.7 233.2 445.7 232.3 446.7 232.2 447.6 232.9 447.9 234.2 447.7 235.7Z" fill="none" stroke="#10101a" stroke-width="1.0" stroke-linejoin="round" stroke-linecap="round"/>
<path d="M313 147L312.5 154.3 312.8 159.8 312.4 164.2 312.2 168 312.8 169.3 313.6 169.2 314.7 167.5 315.8 166.9 317 167.8 316.6 163.6 315.3 160.3 316 158.7 315.7 154.8 316.5 152.3 318 151.3 320 151.6 321.4 153.4 322.4 155.8 322.3 153.2 321.4 150.6 320.8 147Z" fill="#fff" stroke="#111" stroke-width="0.9" stroke-linejoin="round"/>
<path d="M311.9 173L314.6 175.6 317.6 177.6 320.6 179.4 323.2 180.6 325.2 182 325.6 183.5 323.6 185 320.8 185.8 319.2 187.5 317.4 190 315.6 189.2 312.9 187.6 310.7 186.6 309.3 186.8 308.2 188.4 307 189.4 306 188 307.2 185.8 309.2 184.5 310.2 182.5 310.8 179.8 311.1 176.5Z" fill="#fff" stroke="#111" stroke-width="0.9" stroke-linejoin="round"/>
<path d="M304 189.8L306.6 190 308.6 190.6 310 193 311 197.2 312 200.5 311.8 203.5 311.2 205.8 309.9 207.6 309 210 308.8 213 308.6 216 308 219 308.1 222 307.2 225 306.4 227.5 304 228.5Z" fill="#fff" stroke="#111" stroke-width="0.9" stroke-linejoin="round"/>
<path d="M304 147L306.8 147 306.5 152 306.2 157 305.9 161 304 163Z" fill="#fff" stroke="#111" stroke-width="0.9" stroke-linejoin="round"/>
</g>
<rect x="338.2" y="194.5" width="8.8" height="6.4" fill="#fff"/>
<text x="342.6" y="200" font-size="6.5" text-anchor="middle" font-weight="bold" fill="#000" letter-spacing="-0.2">40</text>
<rect x="337" y="219.3" width="12" height="6.4" fill="#fff"/>
<text x="343" y="224.8" font-size="6.5" text-anchor="middle" font-weight="bold" fill="#000" letter-spacing="-0.2">120</text>
<text x="526.4" y="160" font-size="8.6" text-anchor="end" font-weight="bold" fill="#fff">P1 (1999–2001)</text>
<rect x="305" y="147.9" width="225.3" height="98.2" fill="none" stroke="#0a0a0a" stroke-width="1.3"/>
<path d="M305 148h2.2" stroke="#111" stroke-width="0.7"/>
<path d="M305 175.5h2.2" stroke="#111" stroke-width="0.7"/>
<path d="M305 200.7h2.2" stroke="#111" stroke-width="0.7"/>
<path d="M305 224.1h2.2" stroke="#111" stroke-width="0.7"/>
<path d="M305 246h2.2" stroke="#111" stroke-width="0.7"/>
<path d="M305 246v-2.2" stroke="#111" stroke-width="0.7"/>
<path d="M323.8 246v-1.3" stroke="#111" stroke-width="0.6"/>
<text x="306" y="256.4" font-size="8.3" text-anchor="middle" fill="#1a1a1a" letter-spacing="-0.3">140°</text>
<path d="M342.5 246v-2.2" stroke="#111" stroke-width="0.7"/>
<path d="M361.2 246v-1.3" stroke="#111" stroke-width="0.6"/>
<text x="343.5" y="256.4" font-size="8.3" text-anchor="middle" fill="#1a1a1a" letter-spacing="-0.3">150°</text>
<path d="M380 246v-2.2" stroke="#111" stroke-width="0.7"/>
<path d="M398.8 246v-1.3" stroke="#111" stroke-width="0.6"/>
<text x="381" y="256.4" font-size="8.3" text-anchor="middle" fill="#1a1a1a" letter-spacing="-0.3">160°</text>
<path d="M417.5 246v-2.2" stroke="#111" stroke-width="0.7"/>
<path d="M436.2 246v-1.3" stroke="#111" stroke-width="0.6"/>
<text x="418.5" y="256.4" font-size="8.3" text-anchor="middle" fill="#1a1a1a" letter-spacing="-0.3">170°</text>
<path d="M455 246v-2.2" stroke="#111" stroke-width="0.7"/>
<path d="M473.8 246v-1.3" stroke="#111" stroke-width="0.6"/>
<text x="456" y="256.4" font-size="8.3" text-anchor="middle" fill="#1a1a1a" letter-spacing="-0.3">180°</text>
<path d="M492.5 246v-2.2" stroke="#111" stroke-width="0.7"/>
<path d="M511.2 246v-1.3" stroke="#111" stroke-width="0.6"/>
<text x="493.5" y="256.4" font-size="8.3" text-anchor="middle" fill="#1a1a1a" letter-spacing="-0.3">170°</text>
<path d="M530 246v-2.2" stroke="#111" stroke-width="0.7"/>
<text x="531" y="256.4" font-size="8.3" text-anchor="middle" fill="#1a1a1a" letter-spacing="-0.3">160°</text>
<text x="290.1" y="156" font-size="11" text-anchor="middle" fill="#1a1a1a">(F)</text>
<g clip-path="url(#clipG)"><g filter="url(#hb1.6)">
<rect x="297" y="270" width="4.5" height="102" fill="url(#G0)"/>
<rect x="301" y="270" width="4.5" height="102" fill="url(#G1)"/>
<rect x="305" y="270" width="4.5" height="102" fill="url(#G2)"/>
<rect x="309" y="270" width="4.5" height="102" fill="url(#G3)"/>
<rect x="313" y="270" width="4.5" height="102" fill="url(#G4)"/>
<rect x="317" y="270" width="4.5" height="102" fill="url(#G5)"/>
<rect x="321" y="270" width="4.5" height="102" fill="url(#G6)"/>
<rect x="325" y="270" width="4.5" height="102" fill="url(#G7)"/>
<rect x="329" y="270" width="4.5" height="102" fill="url(#G8)"/>
<rect x="333" y="270" width="4.5" height="102" fill="url(#G9)"/>
<rect x="337" y="270" width="4.5" height="102" fill="url(#G10)"/>
<rect x="341" y="270" width="4.5" height="102" fill="url(#G11)"/>
<rect x="345" y="270" width="4.5" height="102" fill="url(#G12)"/>
<rect x="349" y="270" width="4.5" height="102" fill="url(#G13)"/>
<rect x="353" y="270" width="4.5" height="102" fill="url(#G14)"/>
<rect x="357" y="270" width="4.5" height="102" fill="url(#G15)"/>
<rect x="361" y="270" width="4.5" height="102" fill="url(#G16)"/>
<rect x="365" y="270" width="4.5" height="102" fill="url(#G17)"/>
<rect x="369" y="270" width="4.5" height="102" fill="url(#G18)"/>
<rect x="373" y="270" width="4.5" height="102" fill="url(#G19)"/>
<rect x="377" y="270" width="4.5" height="102" fill="url(#G20)"/>
<rect x="381" y="270" width="4.5" height="102" fill="url(#G21)"/>
<rect x="385" y="270" width="4.5" height="102" fill="url(#G22)"/>
<rect x="389" y="270" width="4.5" height="102" fill="url(#G23)"/>
<rect x="393" y="270" width="4.5" height="102" fill="url(#G24)"/>
<rect x="397" y="270" width="4.5" height="102" fill="url(#G25)"/>
<rect x="401" y="270" width="4.5" height="102" fill="url(#G26)"/>
<rect x="405" y="270" width="4.5" height="102" fill="url(#G27)"/>
<rect x="409" y="270" width="4.5" height="102" fill="url(#G28)"/>
<rect x="413" y="270" width="4.5" height="102" fill="url(#G29)"/>
<rect x="417" y="270" width="4.5" height="102" fill="url(#G30)"/>
<rect x="421" y="270" width="4.5" height="102" fill="url(#G31)"/>
<rect x="425" y="270" width="4.5" height="102" fill="url(#G32)"/>
<rect x="429" y="270" width="4.5" height="102" fill="url(#G33)"/>
<rect x="433" y="270" width="4.5" height="102" fill="url(#G34)"/>
<rect x="437" y="270" width="4.5" height="102" fill="url(#G35)"/>
<rect x="441" y="270" width="4.5" height="102" fill="url(#G36)"/>
<rect x="445" y="270" width="4.5" height="102" fill="url(#G37)"/>
<rect x="449" y="270" width="4.5" height="102" fill="url(#G38)"/>
<rect x="453" y="270" width="4.5" height="102" fill="url(#G39)"/>
<rect x="457" y="270" width="4.5" height="102" fill="url(#G40)"/>
<rect x="461" y="270" width="4.5" height="102" fill="url(#G41)"/>
<rect x="465" y="270" width="4.5" height="102" fill="url(#G42)"/>
<rect x="469" y="270" width="4.5" height="102" fill="url(#G43)"/>
<rect x="473" y="270" width="4.5" height="102" fill="url(#G44)"/>
<rect x="477" y="270" width="4.5" height="102" fill="url(#G45)"/>
<rect x="481" y="270" width="4.5" height="102" fill="url(#G46)"/>
<rect x="485" y="270" width="4.5" height="102" fill="url(#G47)"/>
<rect x="489" y="270" width="4.5" height="102" fill="url(#G48)"/>
<rect x="493" y="270" width="4.5" height="102" fill="url(#G49)"/>
<rect x="497" y="270" width="4.5" height="102" fill="url(#G50)"/>
<rect x="501" y="270" width="4.5" height="102" fill="url(#G51)"/>
<rect x="505" y="270" width="4.5" height="102" fill="url(#G52)"/>
<rect x="509" y="270" width="4.5" height="102" fill="url(#G53)"/>
<rect x="513" y="270" width="4.5" height="102" fill="url(#G54)"/>
<rect x="517" y="270" width="4.5" height="102" fill="url(#G55)"/>
<rect x="521" y="270" width="4.5" height="102" fill="url(#G56)"/>
<rect x="525" y="270" width="4.5" height="102" fill="url(#G57)"/>
<rect x="529" y="270" width="4.5" height="102" fill="url(#G58)"/>
<rect x="533" y="270" width="4.5" height="102" fill="url(#G59)"/>
<rect x="537" y="270" width="4.5" height="102" fill="url(#G60)"/>
</g></g>
<g clip-path="url(#clipG)">
<ellipse cx="317" cy="339.7" rx="3" ry="1.6" fill="#2200ff" opacity="0.9" filter="url(#sb)"/>
<ellipse cx="329.5" cy="339.7" rx="5" ry="2.6" fill="#2200ff" opacity="0.9" filter="url(#sb)"/>
<ellipse cx="386" cy="347.8" rx="4" ry="3.2" fill="#0080ff" opacity="0.7" filter="url(#sb)"/>
<ellipse cx="404.4" cy="342.6" rx="2.8" ry="2.8" fill="#00bfff" opacity="0.55" filter="url(#sb)"/>
<ellipse cx="307.5" cy="302" rx="2.5" ry="6" fill="#006aff" opacity="0.9" filter="url(#sb)"/>
<path d="M325.5 306L331 301 337 296.5 344 291 350 285.5 355 280 359 275 361.5 271" fill="none" stroke="#4a0a3a" stroke-width="1" stroke-dasharray="2.2 1.6"/>
<path d="M310.5 334.5L312.6 334.3 314.4 333.6 316.1 332.5 317.7 331.3 319.4 330.1 321.1 329.2 323 328.4 324.9 327.8 326.9 327.1 328.7 326.4 330.6 325.6 332.5 325 334.5 324.4 336.5 324 338.4 323.6 340.4 323.1 342.3 322.5 344.2 321.7 346 320.7 347.7 319.7 349.4 318.7 351.2 317.7 352.9 316.7 354.6 315.6 356.2 314.2 357.6 312.5 359.2 311.4 361 311.8 362.6 313.4 363.4 315.3 364 317.1 365.2 318.7 366.8 319.9 368.7 320.9 370.7 321.8 372.7 322.5 374.6 323.1 376.6 323.6 378.6 324 380.5 324.3 382.5 324.5 384.5 324.6 386.5 324.7 388.6 324.6 390.6 324.5 392.6 324.2 394.6 323.8 396.6 323.2 398.4 322.4 400.2 321.4 401.9 320.3 403.5 319.1 405.1 317.7 406.6 316.3 408.1 315 409.7 313.8 411.4 312.9 413.1 312 414.9 311.1 416.7 309.9 418.4 308.4 420 308.2 421.2 309.9 421.8 312.5 422.3 314.7 423.4 314.8 425.2 313.3 427.1 312.1 428.9 311.2 430.7 310.6 432.6 310.3 434.5 309.9 436.5 309.7 438.5 309.4 440.5 309.2 442.5 308.9 444.6 308.6 446.6 308.3 448.6 307.9 450.6 307.5 452.6 307.1 454.5 306.6 456.5 306.1 458.4 305.6 460.4 305.1 462.4 304.7 464.3 304.3 466.3 304 468.3 303.8 470.4 303.6 472.4 303.6 474.5 303.6 476.5 303.5 478.5 303.3 480.5 302.8 482.3 302 484.1 301 485.9 300.2 487.8 299.5 489.7 299.1 491.7 298.9 493.7 298.9 495.8 298.9 497.9 299 500 299.1 502 299.2 504.1 299.3 506.1 299.2 508.2 299.1 510.2 299 512.2 298.8 514.2 298.5 516.1 298.2 518.1 297.8 520.1 297.4 522.1 297 524 296.6 526 296.2 528 295.7 530 295.3" fill="none" stroke="#10101a" stroke-width="1.0" stroke-linejoin="round" stroke-linecap="round"/>
<path d="M305.2 349.2L307 348.2 308.9 347.4 310.9 346.9 312.9 346.6 315 346.6 317 346.9 319 347.3 320.9 348 322.9 348.6 324.8 349.2 326.8 349.4 328.9 349.5 330.9 349.4 333 349.1 335 348.8 337 348.5 339 348.4 341.1 348.5 343.1 348.7 345.2 348.9 347.2 349.2 349.2 349.5 351.2 349.9 353.2 350.4 355.2 350.9 357.2 351.7 359 352.6 360.5 353.8 361.7 355.3 362.8 357.1 363.8 359.4 365 361.5 366.1 362.5 367.1 361.5 367.9 359.2 368.7 356.8 369.5 354.9 370.6 353.5 372.4 352.8 374.6 352.7 376.8 353 378.8 353.5 380.7 354.3 382.2 355.5 383.8 356.8 385.4 358.1 387.4 359 389.6 359.4 391.6 359.2 393.4 358.3 394.8 356.8 396.2 355.1 397.6 353.7 399.3 352.8 401.3 352.6 403.4 353.2 405.3 354.2 406.9 355.5 408.2 357 409.5 358.6 410.9 360.1 412.4 361.5 414 362.8 415.6 364 417.3 365.2 419 366.4 420.6 367.7 422.1 369 423.5 370.5" fill="none" stroke="#10101a" stroke-width="1.0" stroke-linejoin="round" stroke-linecap="round"/>
<path d="M423.5 370.5L423.3 365.8 424.3 363.1 426 362.1 428 362.5 429.9 363.9 431.1 365.9 431.3 368.2 430.1 370.5" fill="none" stroke="#10101a" stroke-width="1.0" stroke-linejoin="round" stroke-linecap="round"/>
<path d="M319.8 340L319.5 340.7 318.7 341.2 317.6 341.5 316.3 341.5 315.2 341.2 314.4 340.7 314.1 340 314.4 339.3 315.2 338.8 316.3 338.5 317.6 338.5 318.7 338.8 319.5 339.3 319.8 340Z" fill="none" stroke="#10101a" stroke-width="1.0" stroke-linejoin="round" stroke-linecap="round"/>
<path d="M333.7 340L333.3 341 332.1 341.7 330.4 342.1 328.6 342.1 326.9 341.7 325.7 341 325.3 340 325.7 339 326.9 338.3 328.6 337.8 330.4 337.8 332.1 338.3 333.3 339 333.7 340Z" fill="none" stroke="#10101a" stroke-width="1.0" stroke-linejoin="round" stroke-linecap="round"/>
<path d="M313 271L312.5 278.3 312.8 283.8 312.4 288.2 312.2 292 312.8 293.3 313.6 293.2 314.7 291.5 315.8 290.9 317 291.8 316.6 287.6 315.3 284.3 316 282.7 315.7 278.8 316.5 276.3 318 275.3 320 275.6 321.4 277.4 322.4 279.8 322.3 277.2 321.4 274.6 320.8 271Z" fill="#fff" stroke="#111" stroke-width="0.9" stroke-linejoin="round"/>
<path d="M311.9 297L314.6 299.6 317.6 301.6 320.6 303.4 323.2 304.6 325.2 306 325.6 307.5 323.6 309 320.8 309.8 319.2 311.5 317.4 314 315.6 313.2 312.9 311.6 310.7 310.6 309.3 310.8 308.2 312.4 307 313.4 306 312 307.2 309.8 309.2 308.5 310.2 306.5 310.8 303.8 311.1 300.5Z" fill="#fff" stroke="#111" stroke-width="0.9" stroke-linejoin="round"/>
<path d="M304 313.8L306.6 314 308.6 314.6 310 317 311 321.2 312 324.5 311.8 327.5 311.2 329.8 309.9 331.6 309 334 308.8 337 308.6 340 308 343 308.1 346 307.2 349 306.4 351.5 304 352.5Z" fill="#fff" stroke="#111" stroke-width="0.9" stroke-linejoin="round"/>
<path d="M304 271L306.8 271 306.5 276 306.2 281 305.9 285 304 287Z" fill="#fff" stroke="#111" stroke-width="0.9" stroke-linejoin="round"/>
</g>
<rect x="338.2" y="319.2" width="8.8" height="6.4" fill="#fff"/>
<text x="342.6" y="324.7" font-size="6.5" text-anchor="middle" font-weight="bold" fill="#000" letter-spacing="-0.2">40</text>
<rect x="337" y="343.3" width="12" height="6.4" fill="#fff"/>
<text x="343" y="348.8" font-size="6.5" text-anchor="middle" font-weight="bold" fill="#000" letter-spacing="-0.2">120</text>
<text x="526.4" y="284" font-size="8.6" text-anchor="end" font-weight="bold" fill="#fff">P2 (2002–2006)</text>
<rect x="305" y="271.9" width="225.3" height="98.2" fill="none" stroke="#0a0a0a" stroke-width="1.3"/>
<path d="M305 272h2.2" stroke="#111" stroke-width="0.7"/>
<path d="M305 299.5h2.2" stroke="#111" stroke-width="0.7"/>
<path d="M305 324.7h2.2" stroke="#111" stroke-width="0.7"/>
<path d="M305 348.1h2.2" stroke="#111" stroke-width="0.7"/>
<path d="M305 370h2.2" stroke="#111" stroke-width="0.7"/>
<path d="M305 370v-2.2" stroke="#111" stroke-width="0.7"/>
<path d="M323.8 370v-1.3" stroke="#111" stroke-width="0.6"/>
<text x="306" y="380.4" font-size="8.3" text-anchor="middle" fill="#1a1a1a" letter-spacing="-0.3">140°</text>
<path d="M342.5 370v-2.2" stroke="#111" stroke-width="0.7"/>
<path d="M361.2 370v-1.3" stroke="#111" stroke-width="0.6"/>
<text x="343.5" y="380.4" font-size="8.3" text-anchor="middle" fill="#1a1a1a" letter-spacing="-0.3">150°</text>
<path d="M380 370v-2.2" stroke="#111" stroke-width="0.7"/>
<path d="M398.8 370v-1.3" stroke="#111" stroke-width="0.6"/>
<text x="381" y="380.4" font-size="8.3" text-anchor="middle" fill="#1a1a1a" letter-spacing="-0.3">160°</text>
<path d="M417.5 370v-2.2" stroke="#111" stroke-width="0.7"/>
<path d="M436.2 370v-1.3" stroke="#111" stroke-width="0.6"/>
<text x="418.5" y="380.4" font-size="8.3" text-anchor="middle" fill="#1a1a1a" letter-spacing="-0.3">170°</text>
<path d="M455 370v-2.2" stroke="#111" stroke-width="0.7"/>
<path d="M473.8 370v-1.3" stroke="#111" stroke-width="0.6"/>
<text x="456" y="380.4" font-size="8.3" text-anchor="middle" fill="#1a1a1a" letter-spacing="-0.3">180°</text>
<path d="M492.5 370v-2.2" stroke="#111" stroke-width="0.7"/>
<path d="M511.2 370v-1.3" stroke="#111" stroke-width="0.6"/>
<text x="493.5" y="380.4" font-size="8.3" text-anchor="middle" fill="#1a1a1a" letter-spacing="-0.3">170°</text>
<path d="M530 370v-2.2" stroke="#111" stroke-width="0.7"/>
<text x="531" y="380.4" font-size="8.3" text-anchor="middle" fill="#1a1a1a" letter-spacing="-0.3">160°</text>
<text x="290.1" y="280" font-size="11" text-anchor="middle" fill="#1a1a1a">(G)</text>
<g clip-path="url(#clipH)"><g filter="url(#hb1.6)">
<rect x="297" y="394" width="4.5" height="102" fill="url(#H0)"/>
<rect x="301" y="394" width="4.5" height="102" fill="url(#H1)"/>
<rect x="305" y="394" width="4.5" height="102" fill="url(#H2)"/>
<rect x="309" y="394" width="4.5" height="102" fill="url(#H3)"/>
<rect x="313" y="394" width="4.5" height="102" fill="url(#H4)"/>
<rect x="317" y="394" width="4.5" height="102" fill="url(#H5)"/>
<rect x="321" y="394" width="4.5" height="102" fill="url(#H6)"/>
<rect x="325" y="394" width="4.5" height="102" fill="url(#H7)"/>
<rect x="329" y="394" width="4.5" height="102" fill="url(#H8)"/>
<rect x="333" y="394" width="4.5" height="102" fill="url(#H9)"/>
<rect x="337" y="394" width="4.5" height="102" fill="url(#H10)"/>
<rect x="341" y="394" width="4.5" height="102" fill="url(#H11)"/>
<rect x="345" y="394" width="4.5" height="102" fill="url(#H12)"/>
<rect x="349" y="394" width="4.5" height="102" fill="url(#H13)"/>
<rect x="353" y="394" width="4.5" height="102" fill="url(#H14)"/>
<rect x="357" y="394" width="4.5" height="102" fill="url(#H15)"/>
<rect x="361" y="394" width="4.5" height="102" fill="url(#H16)"/>
<rect x="365" y="394" width="4.5" height="102" fill="url(#H17)"/>
<rect x="369" y="394" width="4.5" height="102" fill="url(#H18)"/>
<rect x="373" y="394" width="4.5" height="102" fill="url(#H19)"/>
<rect x="377" y="394" width="4.5" height="102" fill="url(#H20)"/>
<rect x="381" y="394" width="4.5" height="102" fill="url(#H21)"/>
<rect x="385" y="394" width="4.5" height="102" fill="url(#H22)"/>
<rect x="389" y="394" width="4.5" height="102" fill="url(#H23)"/>
<rect x="393" y="394" width="4.5" height="102" fill="url(#H24)"/>
<rect x="397" y="394" width="4.5" height="102" fill="url(#H25)"/>
<rect x="401" y="394" width="4.5" height="102" fill="url(#H26)"/>
<rect x="405" y="394" width="4.5" height="102" fill="url(#H27)"/>
<rect x="409" y="394" width="4.5" height="102" fill="url(#H28)"/>
<rect x="413" y="394" width="4.5" height="102" fill="url(#H29)"/>
<rect x="417" y="394" width="4.5" height="102" fill="url(#H30)"/>
<rect x="421" y="394" width="4.5" height="102" fill="url(#H31)"/>
<rect x="425" y="394" width="4.5" height="102" fill="url(#H32)"/>
<rect x="429" y="394" width="4.5" height="102" fill="url(#H33)"/>
<rect x="433" y="394" width="4.5" height="102" fill="url(#H34)"/>
<rect x="437" y="394" width="4.5" height="102" fill="url(#H35)"/>
<rect x="441" y="394" width="4.5" height="102" fill="url(#H36)"/>
<rect x="445" y="394" width="4.5" height="102" fill="url(#H37)"/>
<rect x="449" y="394" width="4.5" height="102" fill="url(#H38)"/>
<rect x="453" y="394" width="4.5" height="102" fill="url(#H39)"/>
<rect x="457" y="394" width="4.5" height="102" fill="url(#H40)"/>
<rect x="461" y="394" width="4.5" height="102" fill="url(#H41)"/>
<rect x="465" y="394" width="4.5" height="102" fill="url(#H42)"/>
<rect x="469" y="394" width="4.5" height="102" fill="url(#H43)"/>
<rect x="473" y="394" width="4.5" height="102" fill="url(#H44)"/>
<rect x="477" y="394" width="4.5" height="102" fill="url(#H45)"/>
<rect x="481" y="394" width="4.5" height="102" fill="url(#H46)"/>
<rect x="485" y="394" width="4.5" height="102" fill="url(#H47)"/>
<rect x="489" y="394" width="4.5" height="102" fill="url(#H48)"/>
<rect x="493" y="394" width="4.5" height="102" fill="url(#H49)"/>
<rect x="497" y="394" width="4.5" height="102" fill="url(#H50)"/>
<rect x="501" y="394" width="4.5" height="102" fill="url(#H51)"/>
<rect x="505" y="394" width="4.5" height="102" fill="url(#H52)"/>
<rect x="509" y="394" width="4.5" height="102" fill="url(#H53)"/>
<rect x="513" y="394" width="4.5" height="102" fill="url(#H54)"/>
<rect x="517" y="394" width="4.5" height="102" fill="url(#H55)"/>
<rect x="521" y="394" width="4.5" height="102" fill="url(#H56)"/>
<rect x="525" y="394" width="4.5" height="102" fill="url(#H57)"/>
<rect x="529" y="394" width="4.5" height="102" fill="url(#H58)"/>
<rect x="533" y="394" width="4.5" height="102" fill="url(#H59)"/>
<rect x="537" y="394" width="4.5" height="102" fill="url(#H60)"/>
</g></g>
<g clip-path="url(#clipH)">
<ellipse cx="331.6" cy="464.1" rx="4.6" ry="1.9" fill="#0000ff" opacity="1" filter="url(#sb)"/>
<ellipse cx="344" cy="408" rx="3" ry="3" fill="#0000ff" opacity="0.6" filter="url(#sb)"/>
<ellipse cx="357" cy="417" rx="4" ry="4" fill="#0000ff" opacity="0.6" filter="url(#sb)"/>
<ellipse cx="307.5" cy="426" rx="2.5" ry="6" fill="#006aff" opacity="0.9" filter="url(#sb)"/>
<path d="M325.5 430L331 425 337 420.5 344 415 350 409.5 355 404 359 399 361.5 395" fill="none" stroke="#4a0a3a" stroke-width="1" stroke-dasharray="2.2 1.6"/>
<path d="M312.1 451.9L313.4 449.5 314.9 448.6 316.7 448.8 318.6 449.6 320.5 450.4 322.5 450.8 324.5 450.6 326.4 449.8 328.2 448.9 330.1 447.8 332 447 333.9 446.4 335.8 446.1 337.8 445.9 339.9 445.8 342 445.7 344.2 445.7 346.4 445.5 348.3 444.9 349.8 443.9 351 442.3 352.1 440.6 353.8 439 355.9 438.1 357.9 438 359.1 439.1 359.8 441.1 360.6 443.1 361.9 444.5 363.7 445.2 365.8 445.4 368.2 445.2 370.7 444.8 373.1 444.2 375.5 443.7 377.8 443.3 379.9 443.3 381.7 443.8 383.1 444.9 384.2 446.8 385.1 448.9 386.3 449.7 387.8 448.9 389.6 447.2 391.3 445.4 393 444 394.6 442.9 396.3 442.2 398.1 441.7 400 441.4 402 441.3 404.1 441.1 406.3 440.8 408.5 440.2 410.6 439.4 412.5 438.3 413.8 436.9 414.6 435.1 415 433.1 416.1 431.2 417.8 429.7 419.8 428.9 421.8 428.8 423.5 429.6 425 431.1 426.7 432.7 428.5 434.1 430.3 435 432.2 435.4 433.8 434.9 435.3 433.7 436.6 431.7 437.7 429.3 438.7 427 439.8 425.6 440.9 425.8 442.3 427.4 443.8 429.2 445.4 430 447.1 429.3 448.9 427.9 450.7 426.2 452.6 424.8 454.4 424.2 456.3 424.6 458.2 425.9 459.9 427.2 461.5 427.6 462.9 426.7 464.3 424.9 465.8 423.1 467.4 421.9 469.3 421.1 471.2 420.8 473.3 420.7 475.4 420.8 477.6 421 479.8 421.1 481.9 421 483.9 420.7 485.9 420.2 487.8 419.7 489.8 419.2 491.7 418.9 493.7 418.7 495.7 418.8 497.7 419 499.8 419.3 501.8 419.5 503.8 419.8 505.9 419.9 507.9 419.9 509.9 419.7 511.9 419.4 513.9 419 515.9 418.5 517.9 418 519.9 417.5 521.8 417.1 523.9 416.8 525.9 416.7 527.9 416.8 530 417.1" fill="none" stroke="#10101a" stroke-width="1.0" stroke-linejoin="round" stroke-linecap="round"/>
<path d="M305.2 474L306.8 472.6 308.5 471.7 310.4 471 312.5 470.7 314.5 470.5 316.6 470.6 318.6 470.9 320.6 471.2 322.5 471.7 324.5 472.3 326.6 472.8 328.5 473.2 330.4 473.1 332.3 472.8 334.2 472.1 336.2 471.4 338.5 470.7 340.9 470.2 343.2 470 345.2 470.3 346.7 471.2 347.5 472.7 348 474.8 348.8 476.8 350.2 478.5 352 479.2 353.9 478.8 355.8 477.9 357.8 477.1 359.8 476.9 361.7 477.6 363.6 478.5 365.5 479.4 367.3 480.2 369.1 481.2 370.5 483 371.6 484.8 372.8 484.7 374.1 482.9 375.7 481 377.7 480.4 379.6 481.2 381 482.7 382.1 484.5 383.4 486.2 385.1 487.7 387 488.6 388.8 488.6 390.4 487.5 391.9 485.9 393.4 484.3 395 483 396.8 482.1 398.7 481.8 400.8 482 402.8 482.7 404.6 483.7 406.3 484.7 408.4 485.1 410.7 484.9 412.6 485.2 413.7 486.8 414.4 488.9 415.4 489.7 417.2 489 419.4 487.7 421.9 486.9 424.2 487 425.7 488 426 489.8 425.2 492 423.8 493.7 422 494.5" fill="none" stroke="#10101a" stroke-width="1.0" stroke-linejoin="round" stroke-linecap="round"/>
<path d="M335.9 464L335.5 464.8 334.2 465.4 332.5 465.7 330.5 465.7 328.8 465.4 327.5 464.8 327.1 464 327.5 463.2 328.8 462.6 330.5 462.3 332.5 462.3 334.2 462.6 335.5 463.2 335.9 464Z" fill="none" stroke="#10101a" stroke-width="1.0" stroke-linejoin="round" stroke-linecap="round"/>
<path d="M370.9 437.6L370.7 438 370 438.2 369.4 438 369.2 437.6 369.4 437.1 370 436.9 370.7 437.1 370.9 437.6Z" fill="none" stroke="#10101a" stroke-width="1.0" stroke-linejoin="round" stroke-linecap="round"/>
<path d="M313 395L312.5 402.3 312.8 407.8 312.4 412.2 312.2 416 312.8 417.3 313.6 417.2 314.7 415.5 315.8 414.9 317 415.8 316.6 411.6 315.3 408.3 316 406.7 315.7 402.8 316.5 400.3 318 399.3 320 399.6 321.4 401.4 322.4 403.8 322.3 401.2 321.4 398.6 320.8 395Z" fill="#fff" stroke="#111" stroke-width="0.9" stroke-linejoin="round"/>
<path d="M311.9 421L314.6 423.6 317.6 425.6 320.6 427.4 323.2 428.6 325.2 430 325.6 431.5 323.6 433 320.8 433.8 319.2 435.5 317.4 438 315.6 437.2 312.9 435.6 310.7 434.6 309.3 434.8 308.2 436.4 307 437.4 306 436 307.2 433.8 309.2 432.5 310.2 430.5 310.8 427.8 311.1 424.5Z" fill="#fff" stroke="#111" stroke-width="0.9" stroke-linejoin="round"/>
<path d="M304 437.8L306.6 438 308.6 438.6 310 441 311 445.2 312 448.5 311.8 451.5 311.2 453.8 309.9 455.6 309 458 308.8 461 308.6 464 308 467 308.1 470 307.2 473 306.4 475.5 304 476.5Z" fill="#fff" stroke="#111" stroke-width="0.9" stroke-linejoin="round"/>
<path d="M304 395L306.8 395 306.5 400 306.2 405 305.9 409 304 411Z" fill="#fff" stroke="#111" stroke-width="0.9" stroke-linejoin="round"/>
</g>
<rect x="338.2" y="442.8" width="8.8" height="6.4" fill="#fff"/>
<text x="342.6" y="448.3" font-size="6.5" text-anchor="middle" font-weight="bold" fill="#000" letter-spacing="-0.2">40</text>
<rect x="337" y="466.8" width="12" height="6.4" fill="#fff"/>
<text x="343" y="472.3" font-size="6.5" text-anchor="middle" font-weight="bold" fill="#000" letter-spacing="-0.2">120</text>
<text x="526.4" y="408" font-size="8.6" text-anchor="end" font-weight="bold" fill="#fff">P3 (2007–2013)</text>
<rect x="305" y="395.9" width="225.3" height="98.2" fill="none" stroke="#0a0a0a" stroke-width="1.3"/>
<path d="M305 396h2.2" stroke="#111" stroke-width="0.7"/>
<path d="M305 423.5h2.2" stroke="#111" stroke-width="0.7"/>
<path d="M305 448.7h2.2" stroke="#111" stroke-width="0.7"/>
<path d="M305 472.1h2.2" stroke="#111" stroke-width="0.7"/>
<path d="M305 494h2.2" stroke="#111" stroke-width="0.7"/>
<path d="M305 494v-2.2" stroke="#111" stroke-width="0.7"/>
<path d="M323.8 494v-1.3" stroke="#111" stroke-width="0.6"/>
<text x="306" y="504.4" font-size="8.3" text-anchor="middle" fill="#1a1a1a" letter-spacing="-0.3">140°</text>
<path d="M342.5 494v-2.2" stroke="#111" stroke-width="0.7"/>
<path d="M361.2 494v-1.3" stroke="#111" stroke-width="0.6"/>
<text x="343.5" y="504.4" font-size="8.3" text-anchor="middle" fill="#1a1a1a" letter-spacing="-0.3">150°</text>
<path d="M380 494v-2.2" stroke="#111" stroke-width="0.7"/>
<path d="M398.8 494v-1.3" stroke="#111" stroke-width="0.6"/>
<text x="381" y="504.4" font-size="8.3" text-anchor="middle" fill="#1a1a1a" letter-spacing="-0.3">160°</text>
<path d="M417.5 494v-2.2" stroke="#111" stroke-width="0.7"/>
<path d="M436.2 494v-1.3" stroke="#111" stroke-width="0.6"/>
<text x="418.5" y="504.4" font-size="8.3" text-anchor="middle" fill="#1a1a1a" letter-spacing="-0.3">170°</text>
<path d="M455 494v-2.2" stroke="#111" stroke-width="0.7"/>
<path d="M473.8 494v-1.3" stroke="#111" stroke-width="0.6"/>
<text x="456" y="504.4" font-size="8.3" text-anchor="middle" fill="#1a1a1a" letter-spacing="-0.3">180°</text>
<path d="M492.5 494v-2.2" stroke="#111" stroke-width="0.7"/>
<path d="M511.2 494v-1.3" stroke="#111" stroke-width="0.6"/>
<text x="493.5" y="504.4" font-size="8.3" text-anchor="middle" fill="#1a1a1a" letter-spacing="-0.3">170°</text>
<path d="M530 494v-2.2" stroke="#111" stroke-width="0.7"/>
<text x="531" y="504.4" font-size="8.3" text-anchor="middle" fill="#1a1a1a" letter-spacing="-0.3">160°</text>
<text x="290.1" y="404" font-size="11" text-anchor="middle" fill="#1a1a1a">(H)</text>
</svg>
</body></html>
